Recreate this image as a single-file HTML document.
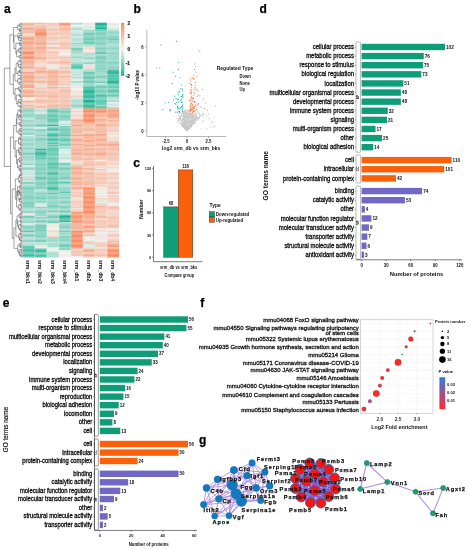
<!DOCTYPE html>
<html><head><meta charset="utf-8"><title>Figure</title>
<style>html,body{margin:0;padding:0;background:#fff}svg{display:block}text{font-family:"Liberation Sans", Arial, sans-serif}</style></head>
<body><svg width="470" height="550" viewBox="0 0 470 550">
<rect width="470" height="550" fill="#fff"/>
<text x="4.00" y="13.00" font-size="12" font-weight="bold" text-anchor="start" fill="#000" stroke="#000" stroke-width="0.25">a</text>
<text x="133.50" y="13.00" font-size="12" font-weight="bold" text-anchor="start" fill="#000" stroke="#000" stroke-width="0.25">b</text>
<text x="133.20" y="166.60" font-size="12" font-weight="bold" text-anchor="start" fill="#000" stroke="#000" stroke-width="0.25">c</text>
<text x="259.50" y="13.00" font-size="12" font-weight="bold" text-anchor="start" fill="#000" stroke="#000" stroke-width="0.25">d</text>
<text x="2.80" y="306.70" font-size="12" font-weight="bold" text-anchor="start" fill="#000" stroke="#000" stroke-width="0.25">e</text>
<text x="200.30" y="307.30" font-size="12" font-weight="bold" text-anchor="start" fill="#000" stroke="#000" stroke-width="0.25">f</text>
<text x="199.00" y="444.00" font-size="12" font-weight="bold" text-anchor="start" fill="#000" stroke="#000" stroke-width="0.25">g</text>
<g shape-rendering="auto">
<rect x="22.80" y="22.700" width="12.04" height="1.312" fill="#f5bba4"/>
<rect x="22.80" y="23.962" width="12.04" height="1.312" fill="#f6b49a"/>
<rect x="22.80" y="25.224" width="12.04" height="1.312" fill="#f5c1ac"/>
<rect x="22.80" y="26.485" width="12.04" height="1.312" fill="#f5bba3"/>
<rect x="22.80" y="27.747" width="12.04" height="1.312" fill="#f6af94"/>
<rect x="22.80" y="29.009" width="12.04" height="1.312" fill="#f7aa8c"/>
<rect x="22.80" y="30.271" width="12.04" height="1.312" fill="#f5bba4"/>
<rect x="22.80" y="31.533" width="12.04" height="1.312" fill="#f7a585"/>
<rect x="22.80" y="32.795" width="12.04" height="1.312" fill="#f3dbd0"/>
<rect x="22.80" y="34.056" width="12.04" height="1.312" fill="#f3dbd1"/>
<rect x="22.80" y="35.318" width="12.04" height="1.312" fill="#f4c9b7"/>
<rect x="22.80" y="36.580" width="12.04" height="1.312" fill="#f7aa8c"/>
<rect x="22.80" y="37.842" width="12.04" height="1.312" fill="#f7a687"/>
<rect x="22.80" y="39.104" width="12.04" height="1.312" fill="#f7a686"/>
<rect x="22.80" y="40.366" width="12.04" height="1.312" fill="#f7a484"/>
<rect x="22.80" y="41.627" width="12.04" height="1.312" fill="#f89e7c"/>
<rect x="22.80" y="42.889" width="12.04" height="1.312" fill="#f7ac8f"/>
<rect x="22.80" y="44.151" width="12.04" height="1.312" fill="#f7aa8c"/>
<rect x="22.80" y="45.413" width="12.04" height="1.312" fill="#f6ad91"/>
<rect x="22.80" y="46.675" width="12.04" height="1.312" fill="#f6b297"/>
<rect x="22.80" y="47.937" width="12.04" height="1.312" fill="#f6b095"/>
<rect x="22.80" y="49.198" width="12.04" height="1.312" fill="#f7a788"/>
<rect x="22.80" y="50.460" width="12.04" height="1.312" fill="#f7a98a"/>
<rect x="22.80" y="51.722" width="12.04" height="1.312" fill="#f98d64"/>
<rect x="22.80" y="52.984" width="12.04" height="1.312" fill="#f8946e"/>
<rect x="22.80" y="54.246" width="12.04" height="1.312" fill="#f89b77"/>
<rect x="22.80" y="55.508" width="12.04" height="1.312" fill="#f7a07f"/>
<rect x="22.80" y="56.769" width="12.04" height="1.312" fill="#f98d64"/>
<rect x="22.80" y="58.031" width="12.04" height="1.312" fill="#f89f7d"/>
<rect x="22.80" y="59.293" width="12.04" height="1.312" fill="#f7a98b"/>
<rect x="22.80" y="60.555" width="12.04" height="1.312" fill="#f7a788"/>
<rect x="22.80" y="61.817" width="12.04" height="1.312" fill="#f6b297"/>
<rect x="22.80" y="63.078" width="12.04" height="1.312" fill="#f6b59c"/>
<rect x="22.80" y="64.340" width="12.04" height="1.312" fill="#f6b196"/>
<rect x="22.80" y="65.602" width="12.04" height="1.312" fill="#f5b9a2"/>
<rect x="22.80" y="66.864" width="12.04" height="1.312" fill="#f7aa8c"/>
<rect x="22.80" y="68.126" width="12.04" height="1.312" fill="#f5bda7"/>
<rect x="22.80" y="69.388" width="12.04" height="1.312" fill="#f5c3af"/>
<rect x="22.80" y="70.649" width="12.04" height="1.312" fill="#f3d4c7"/>
<rect x="22.80" y="71.911" width="12.04" height="1.312" fill="#f7a383"/>
<rect x="22.80" y="73.173" width="12.04" height="1.312" fill="#f7aa8c"/>
<rect x="22.80" y="74.435" width="12.04" height="1.312" fill="#f7a88a"/>
<rect x="22.80" y="75.697" width="12.04" height="1.312" fill="#f7a889"/>
<rect x="22.80" y="76.959" width="12.04" height="1.312" fill="#f7a789"/>
<rect x="22.80" y="78.220" width="12.04" height="1.312" fill="#f7a483"/>
<rect x="22.80" y="79.482" width="12.04" height="1.312" fill="#f7a789"/>
<rect x="22.80" y="80.744" width="12.04" height="1.312" fill="#f7a585"/>
<rect x="22.80" y="82.006" width="12.04" height="1.312" fill="#f5bda6"/>
<rect x="22.80" y="83.268" width="12.04" height="1.312" fill="#f6b8a0"/>
<rect x="22.80" y="84.530" width="12.04" height="1.312" fill="#f89e7b"/>
<rect x="22.80" y="85.791" width="12.04" height="1.312" fill="#f7a98b"/>
<rect x="22.80" y="87.053" width="12.04" height="1.312" fill="#f7a687"/>
<rect x="22.80" y="88.315" width="12.04" height="1.312" fill="#f4d0c1"/>
<rect x="22.80" y="89.577" width="12.04" height="1.312" fill="#f6b095"/>
<rect x="22.80" y="90.839" width="12.04" height="1.312" fill="#f6b49a"/>
<rect x="22.80" y="92.101" width="12.04" height="1.312" fill="#f7a484"/>
<rect x="22.80" y="93.362" width="12.04" height="1.312" fill="#f6b9a1"/>
<rect x="22.80" y="94.624" width="12.04" height="1.312" fill="#f6ad91"/>
<rect x="22.80" y="95.886" width="12.04" height="1.312" fill="#f7ac8f"/>
<rect x="22.80" y="97.148" width="12.04" height="1.312" fill="#f1eeea"/>
<rect x="22.80" y="98.410" width="12.04" height="1.312" fill="#f1ece7"/>
<rect x="22.80" y="99.672" width="12.04" height="1.312" fill="#f2dfd6"/>
<rect x="22.80" y="100.933" width="12.04" height="1.312" fill="#f6b69c"/>
<rect x="22.80" y="102.195" width="12.04" height="1.312" fill="#f6b79f"/>
<rect x="22.80" y="103.457" width="12.04" height="1.312" fill="#f3d8cd"/>
<rect x="22.80" y="104.719" width="12.04" height="1.312" fill="#f6b69d"/>
<rect x="22.80" y="105.981" width="12.04" height="1.312" fill="#f4d0c1"/>
<rect x="22.80" y="107.242" width="12.04" height="1.312" fill="#f6b49a"/>
<rect x="22.80" y="108.504" width="12.04" height="1.312" fill="#8dd4c4"/>
<rect x="22.80" y="109.766" width="12.04" height="1.312" fill="#8ed5c4"/>
<rect x="22.80" y="111.028" width="12.04" height="1.312" fill="#8fd5c4"/>
<rect x="22.80" y="112.290" width="12.04" height="1.312" fill="#9cd9ca"/>
<rect x="22.80" y="113.552" width="12.04" height="1.312" fill="#80d1be"/>
<rect x="22.80" y="114.813" width="12.04" height="1.312" fill="#99d8c9"/>
<rect x="22.80" y="116.075" width="12.04" height="1.312" fill="#8dd4c4"/>
<rect x="22.80" y="117.337" width="12.04" height="1.312" fill="#a1dacc"/>
<rect x="22.80" y="118.599" width="12.04" height="1.312" fill="#c3e4db"/>
<rect x="22.80" y="119.861" width="12.04" height="1.312" fill="#9cd9ca"/>
<rect x="22.80" y="121.123" width="12.04" height="1.312" fill="#91d5c5"/>
<rect x="22.80" y="122.384" width="12.04" height="1.312" fill="#94d6c7"/>
<rect x="22.80" y="123.646" width="12.04" height="1.312" fill="#a8dccf"/>
<rect x="22.80" y="124.908" width="12.04" height="1.312" fill="#7fd0be"/>
<rect x="22.80" y="126.170" width="12.04" height="1.312" fill="#a5dbce"/>
<rect x="22.80" y="127.432" width="12.04" height="1.312" fill="#b1dfd3"/>
<rect x="22.80" y="128.694" width="12.04" height="1.312" fill="#8ed5c4"/>
<rect x="22.80" y="129.955" width="12.04" height="1.312" fill="#a1dacc"/>
<rect x="22.80" y="131.217" width="12.04" height="1.312" fill="#a9ddd0"/>
<rect x="22.80" y="132.479" width="12.04" height="1.312" fill="#7acfbb"/>
<rect x="22.80" y="133.741" width="12.04" height="1.312" fill="#98d8c9"/>
<rect x="22.80" y="135.003" width="12.04" height="1.312" fill="#eaefec"/>
<rect x="22.80" y="136.265" width="12.04" height="1.312" fill="#a4dbce"/>
<rect x="22.80" y="137.526" width="12.04" height="1.312" fill="#98d7c8"/>
<rect x="22.80" y="138.788" width="12.04" height="1.312" fill="#a9dcd0"/>
<rect x="22.80" y="140.050" width="12.04" height="1.312" fill="#8fd5c5"/>
<rect x="22.80" y="141.312" width="12.04" height="1.312" fill="#a6dccf"/>
<rect x="22.80" y="142.574" width="12.04" height="1.312" fill="#90d5c5"/>
<rect x="22.80" y="143.835" width="12.04" height="1.312" fill="#99d8c9"/>
<rect x="22.80" y="145.097" width="12.04" height="1.312" fill="#a1dacc"/>
<rect x="22.80" y="146.359" width="12.04" height="1.312" fill="#a0dacc"/>
<rect x="22.80" y="147.621" width="12.04" height="1.312" fill="#83d1bf"/>
<rect x="22.80" y="148.883" width="12.04" height="1.312" fill="#added1"/>
<rect x="22.80" y="150.145" width="12.04" height="1.312" fill="#a3dbcd"/>
<rect x="22.80" y="151.406" width="12.04" height="1.312" fill="#95d7c7"/>
<rect x="22.80" y="152.668" width="12.04" height="1.312" fill="#7fd1be"/>
<rect x="22.80" y="153.930" width="12.04" height="1.312" fill="#84d2c0"/>
<rect x="22.80" y="155.192" width="12.04" height="1.312" fill="#b2dfd4"/>
<rect x="22.80" y="156.454" width="12.04" height="1.312" fill="#70ccb7"/>
<rect x="22.80" y="157.716" width="12.04" height="1.312" fill="#afded3"/>
<rect x="22.80" y="158.977" width="12.04" height="1.312" fill="#9cd9ca"/>
<rect x="22.80" y="160.239" width="12.04" height="1.312" fill="#9dd9ca"/>
<rect x="22.80" y="161.501" width="12.04" height="1.312" fill="#aaddd0"/>
<rect x="22.80" y="162.763" width="12.04" height="1.312" fill="#b1dfd3"/>
<rect x="22.80" y="164.025" width="12.04" height="1.312" fill="#87d3c1"/>
<rect x="22.80" y="165.287" width="12.04" height="1.312" fill="#e7eeeb"/>
<rect x="22.80" y="166.548" width="12.04" height="1.312" fill="#b0ded3"/>
<rect x="22.80" y="167.810" width="12.04" height="1.312" fill="#90d5c5"/>
<rect x="22.80" y="169.072" width="12.04" height="1.312" fill="#9cd9ca"/>
<rect x="22.80" y="170.334" width="12.04" height="1.312" fill="#cfe7e0"/>
<rect x="22.80" y="171.596" width="12.04" height="1.312" fill="#bfe3d9"/>
<rect x="22.80" y="172.858" width="12.04" height="1.312" fill="#cfe7e0"/>
<rect x="22.80" y="174.119" width="12.04" height="1.312" fill="#bee2d9"/>
<rect x="22.80" y="175.381" width="12.04" height="1.312" fill="#d3e8e2"/>
<rect x="22.80" y="176.643" width="12.04" height="1.312" fill="#b3dfd4"/>
<rect x="22.80" y="177.905" width="12.04" height="1.312" fill="#d0e8e1"/>
<rect x="22.80" y="179.167" width="12.04" height="1.312" fill="#9ad8c9"/>
<rect x="22.80" y="180.428" width="12.04" height="1.312" fill="#d4e9e2"/>
<rect x="22.80" y="181.690" width="12.04" height="1.312" fill="#8ad4c2"/>
<rect x="22.80" y="182.952" width="12.04" height="1.312" fill="#8dd4c4"/>
<rect x="22.80" y="184.214" width="12.04" height="1.312" fill="#b0ded3"/>
<rect x="22.80" y="185.476" width="12.04" height="1.312" fill="#8fd5c4"/>
<rect x="22.80" y="186.738" width="12.04" height="1.312" fill="#8ad4c2"/>
<rect x="22.80" y="187.999" width="12.04" height="1.312" fill="#76ceba"/>
<rect x="22.80" y="189.261" width="12.04" height="1.312" fill="#6fccb7"/>
<rect x="22.80" y="190.523" width="12.04" height="1.312" fill="#82d1bf"/>
<rect x="22.80" y="191.785" width="12.04" height="1.312" fill="#8ed5c4"/>
<rect x="22.80" y="193.047" width="12.04" height="1.312" fill="#9dd9cb"/>
<rect x="22.80" y="194.309" width="12.04" height="1.312" fill="#70ccb7"/>
<rect x="22.80" y="195.570" width="12.04" height="1.312" fill="#82d1bf"/>
<rect x="22.80" y="196.832" width="12.04" height="1.312" fill="#7dd0bd"/>
<rect x="22.80" y="198.094" width="12.04" height="1.312" fill="#7fd0be"/>
<rect x="22.80" y="199.356" width="12.04" height="1.312" fill="#77ceba"/>
<rect x="22.80" y="200.618" width="12.04" height="1.312" fill="#95d7c7"/>
<rect x="22.80" y="201.880" width="12.04" height="1.312" fill="#82d1bf"/>
<rect x="22.80" y="203.141" width="12.04" height="1.312" fill="#69cab4"/>
<rect x="22.80" y="204.403" width="12.04" height="1.312" fill="#64c9b2"/>
<rect x="22.80" y="205.665" width="12.04" height="1.312" fill="#7dd0bd"/>
<rect x="22.80" y="206.927" width="12.04" height="1.312" fill="#9dd9ca"/>
<rect x="22.80" y="208.189" width="12.04" height="1.312" fill="#9cd9ca"/>
<rect x="22.80" y="209.451" width="12.04" height="1.312" fill="#a7dccf"/>
<rect x="22.80" y="210.712" width="12.04" height="1.312" fill="#9ad8c9"/>
<rect x="22.80" y="211.974" width="12.04" height="1.312" fill="#91d5c5"/>
<rect x="22.80" y="213.236" width="12.04" height="1.312" fill="#f2e5df"/>
<rect x="22.80" y="214.498" width="12.04" height="1.312" fill="#f2e0d7"/>
<rect x="22.80" y="215.760" width="12.04" height="1.312" fill="#6dcbb6"/>
<rect x="22.80" y="217.022" width="12.04" height="1.312" fill="#7cd0bc"/>
<rect x="22.80" y="218.283" width="12.04" height="1.312" fill="#9bd8ca"/>
<rect x="22.80" y="219.545" width="12.04" height="1.312" fill="#98d8c9"/>
<rect x="22.80" y="220.807" width="12.04" height="1.312" fill="#9fdacb"/>
<rect x="22.80" y="222.069" width="12.04" height="1.312" fill="#93d6c6"/>
<rect x="22.80" y="223.331" width="12.04" height="1.312" fill="#dcebe6"/>
<rect x="22.80" y="224.592" width="12.04" height="1.312" fill="#bae1d7"/>
<rect x="22.80" y="225.854" width="12.04" height="1.312" fill="#87d3c1"/>
<rect x="22.80" y="227.116" width="12.04" height="1.312" fill="#7ed0bd"/>
<rect x="22.80" y="228.378" width="12.04" height="1.312" fill="#7ed0bd"/>
<rect x="22.80" y="229.640" width="12.04" height="1.312" fill="#9ad8c9"/>
<rect x="22.80" y="230.902" width="12.04" height="1.312" fill="#5dc7af"/>
<rect x="22.80" y="232.163" width="12.04" height="1.312" fill="#aeded2"/>
<rect x="22.80" y="233.425" width="12.04" height="1.312" fill="#96d7c8"/>
<rect x="22.80" y="234.687" width="12.04" height="1.312" fill="#69cab4"/>
<rect x="22.80" y="235.949" width="12.04" height="1.312" fill="#a1dacc"/>
<rect x="22.80" y="237.211" width="12.04" height="1.312" fill="#a7dccf"/>
<rect x="22.80" y="238.473" width="12.04" height="1.312" fill="#b0ded3"/>
<rect x="22.80" y="239.734" width="12.04" height="1.312" fill="#93d6c6"/>
<rect x="22.80" y="240.996" width="12.04" height="1.312" fill="#91d6c6"/>
<rect x="22.80" y="242.258" width="12.04" height="1.312" fill="#b6e0d5"/>
<rect x="22.80" y="243.520" width="12.04" height="1.312" fill="#a1dacc"/>
<rect x="22.80" y="244.782" width="12.04" height="1.312" fill="#aeded2"/>
<rect x="22.80" y="246.044" width="12.04" height="1.312" fill="#5ac6ad"/>
<rect x="22.80" y="247.305" width="12.04" height="1.312" fill="#36bc9e"/>
<rect x="22.80" y="248.567" width="12.04" height="1.312" fill="#4cc2a7"/>
<rect x="22.80" y="249.829" width="12.04" height="1.312" fill="#46c0a5"/>
<rect x="22.80" y="251.091" width="12.04" height="1.312" fill="#51c3aa"/>
<rect x="22.80" y="252.353" width="12.04" height="1.312" fill="#50c3a9"/>
<rect x="22.80" y="253.615" width="12.04" height="1.312" fill="#4ec2a8"/>
<rect x="22.80" y="254.876" width="12.04" height="1.312" fill="#41bfa3"/>
<rect x="22.80" y="256.138" width="12.04" height="1.312" fill="#56c5ac"/>
<rect x="34.84" y="22.700" width="12.04" height="1.312" fill="#f5bea9"/>
<rect x="34.84" y="23.962" width="12.04" height="1.312" fill="#f3d7cb"/>
<rect x="34.84" y="25.224" width="12.04" height="1.312" fill="#f5b9a1"/>
<rect x="34.84" y="26.485" width="12.04" height="1.312" fill="#f6b79f"/>
<rect x="34.84" y="27.747" width="12.04" height="1.312" fill="#f6b59c"/>
<rect x="34.84" y="29.009" width="12.04" height="1.312" fill="#f6af94"/>
<rect x="34.84" y="30.271" width="12.04" height="1.312" fill="#f98d64"/>
<rect x="34.84" y="31.533" width="12.04" height="1.312" fill="#f98d64"/>
<rect x="34.84" y="32.795" width="12.04" height="1.312" fill="#f98d64"/>
<rect x="34.84" y="34.056" width="12.04" height="1.312" fill="#f98d64"/>
<rect x="34.84" y="35.318" width="12.04" height="1.312" fill="#f98d64"/>
<rect x="34.84" y="36.580" width="12.04" height="1.312" fill="#f7a789"/>
<rect x="34.84" y="37.842" width="12.04" height="1.312" fill="#f5bca6"/>
<rect x="34.84" y="39.104" width="12.04" height="1.312" fill="#f6b196"/>
<rect x="34.84" y="40.366" width="12.04" height="1.312" fill="#f7a88a"/>
<rect x="34.84" y="41.627" width="12.04" height="1.312" fill="#f6af94"/>
<rect x="34.84" y="42.889" width="12.04" height="1.312" fill="#f7a788"/>
<rect x="34.84" y="44.151" width="12.04" height="1.312" fill="#f6ad90"/>
<rect x="34.84" y="45.413" width="12.04" height="1.312" fill="#f6b79e"/>
<rect x="34.84" y="46.675" width="12.04" height="1.312" fill="#f6af93"/>
<rect x="34.84" y="47.937" width="12.04" height="1.312" fill="#f6b095"/>
<rect x="34.84" y="49.198" width="12.04" height="1.312" fill="#f6ad91"/>
<rect x="34.84" y="50.460" width="12.04" height="1.312" fill="#f7aa8d"/>
<rect x="34.84" y="51.722" width="12.04" height="1.312" fill="#f6b89f"/>
<rect x="34.84" y="52.984" width="12.04" height="1.312" fill="#f3d7ca"/>
<rect x="34.84" y="54.246" width="12.04" height="1.312" fill="#f6ae92"/>
<rect x="34.84" y="55.508" width="12.04" height="1.312" fill="#f5c0ab"/>
<rect x="34.84" y="56.769" width="12.04" height="1.312" fill="#f6b49a"/>
<rect x="34.84" y="58.031" width="12.04" height="1.312" fill="#f6af93"/>
<rect x="34.84" y="59.293" width="12.04" height="1.312" fill="#f6b59c"/>
<rect x="34.84" y="60.555" width="12.04" height="1.312" fill="#f4d0c1"/>
<rect x="34.84" y="61.817" width="12.04" height="1.312" fill="#f4d1c3"/>
<rect x="34.84" y="63.078" width="12.04" height="1.312" fill="#f3dbd1"/>
<rect x="34.84" y="64.340" width="12.04" height="1.312" fill="#f3d7cb"/>
<rect x="34.84" y="65.602" width="12.04" height="1.312" fill="#f3d6c9"/>
<rect x="34.84" y="66.864" width="12.04" height="1.312" fill="#f4cbba"/>
<rect x="34.84" y="68.126" width="12.04" height="1.312" fill="#f6b49a"/>
<rect x="34.84" y="69.388" width="12.04" height="1.312" fill="#f5b9a1"/>
<rect x="34.84" y="70.649" width="12.04" height="1.312" fill="#f7a88a"/>
<rect x="34.84" y="71.911" width="12.04" height="1.312" fill="#f6b49a"/>
<rect x="34.84" y="73.173" width="12.04" height="1.312" fill="#f5baa3"/>
<rect x="34.84" y="74.435" width="12.04" height="1.312" fill="#f4c9b8"/>
<rect x="34.84" y="75.697" width="12.04" height="1.312" fill="#f4cab9"/>
<rect x="34.84" y="76.959" width="12.04" height="1.312" fill="#f5b9a1"/>
<rect x="34.84" y="78.220" width="12.04" height="1.312" fill="#f4c9b8"/>
<rect x="34.84" y="79.482" width="12.04" height="1.312" fill="#f5c2ae"/>
<rect x="34.84" y="80.744" width="12.04" height="1.312" fill="#f6b8a0"/>
<rect x="34.84" y="82.006" width="12.04" height="1.312" fill="#f6b79e"/>
<rect x="34.84" y="83.268" width="12.04" height="1.312" fill="#f4d1c2"/>
<rect x="34.84" y="84.530" width="12.04" height="1.312" fill="#f3d4c6"/>
<rect x="34.84" y="85.791" width="12.04" height="1.312" fill="#f2e8e2"/>
<rect x="34.84" y="87.053" width="12.04" height="1.312" fill="#c5e4dc"/>
<rect x="34.84" y="88.315" width="12.04" height="1.312" fill="#f5bba3"/>
<rect x="34.84" y="89.577" width="12.04" height="1.312" fill="#f4cdbd"/>
<rect x="34.84" y="90.839" width="12.04" height="1.312" fill="#f5c1ac"/>
<rect x="34.84" y="92.101" width="12.04" height="1.312" fill="#f5c2ad"/>
<rect x="34.84" y="93.362" width="12.04" height="1.312" fill="#f6b9a1"/>
<rect x="34.84" y="94.624" width="12.04" height="1.312" fill="#f5bca5"/>
<rect x="34.84" y="95.886" width="12.04" height="1.312" fill="#f5c1ac"/>
<rect x="34.84" y="97.148" width="12.04" height="1.312" fill="#f3d7cc"/>
<rect x="34.84" y="98.410" width="12.04" height="1.312" fill="#f4cdbc"/>
<rect x="34.84" y="99.672" width="12.04" height="1.312" fill="#f5bda7"/>
<rect x="34.84" y="100.933" width="12.04" height="1.312" fill="#f5c1ad"/>
<rect x="34.84" y="102.195" width="12.04" height="1.312" fill="#f5c2ad"/>
<rect x="34.84" y="103.457" width="12.04" height="1.312" fill="#f5bfaa"/>
<rect x="34.84" y="104.719" width="12.04" height="1.312" fill="#f2e5de"/>
<rect x="34.84" y="105.981" width="12.04" height="1.312" fill="#f6b8a0"/>
<rect x="34.84" y="107.242" width="12.04" height="1.312" fill="#f5bca6"/>
<rect x="34.84" y="108.504" width="12.04" height="1.312" fill="#c4e4dc"/>
<rect x="34.84" y="109.766" width="12.04" height="1.312" fill="#bde2d9"/>
<rect x="34.84" y="111.028" width="12.04" height="1.312" fill="#c2e4db"/>
<rect x="34.84" y="112.290" width="12.04" height="1.312" fill="#cde7df"/>
<rect x="34.84" y="113.552" width="12.04" height="1.312" fill="#b8e1d6"/>
<rect x="34.84" y="114.813" width="12.04" height="1.312" fill="#80d1be"/>
<rect x="34.84" y="116.075" width="12.04" height="1.312" fill="#9bd8ca"/>
<rect x="34.84" y="117.337" width="12.04" height="1.312" fill="#59c6ad"/>
<rect x="34.84" y="118.599" width="12.04" height="1.312" fill="#91d6c6"/>
<rect x="34.84" y="119.861" width="12.04" height="1.312" fill="#b2dfd4"/>
<rect x="34.84" y="121.123" width="12.04" height="1.312" fill="#94d7c7"/>
<rect x="34.84" y="122.384" width="12.04" height="1.312" fill="#98d8c8"/>
<rect x="34.84" y="123.646" width="12.04" height="1.312" fill="#90d5c5"/>
<rect x="34.84" y="124.908" width="12.04" height="1.312" fill="#72cdb8"/>
<rect x="34.84" y="126.170" width="12.04" height="1.312" fill="#8bd4c3"/>
<rect x="34.84" y="127.432" width="12.04" height="1.312" fill="#edf0ed"/>
<rect x="34.84" y="128.694" width="12.04" height="1.312" fill="#9cd9ca"/>
<rect x="34.84" y="129.955" width="12.04" height="1.312" fill="#86d3c1"/>
<rect x="34.84" y="131.217" width="12.04" height="1.312" fill="#91d6c5"/>
<rect x="34.84" y="132.479" width="12.04" height="1.312" fill="#93d6c6"/>
<rect x="34.84" y="133.741" width="12.04" height="1.312" fill="#a5dbce"/>
<rect x="34.84" y="135.003" width="12.04" height="1.312" fill="#86d2c1"/>
<rect x="34.84" y="136.265" width="12.04" height="1.312" fill="#a1dacc"/>
<rect x="34.84" y="137.526" width="12.04" height="1.312" fill="#79cfbb"/>
<rect x="34.84" y="138.788" width="12.04" height="1.312" fill="#79cfbb"/>
<rect x="34.84" y="140.050" width="12.04" height="1.312" fill="#93d6c6"/>
<rect x="34.84" y="141.312" width="12.04" height="1.312" fill="#79cfbb"/>
<rect x="34.84" y="142.574" width="12.04" height="1.312" fill="#95d7c7"/>
<rect x="34.84" y="143.835" width="12.04" height="1.312" fill="#a3dbcd"/>
<rect x="34.84" y="145.097" width="12.04" height="1.312" fill="#9bd9ca"/>
<rect x="34.84" y="146.359" width="12.04" height="1.312" fill="#86d2c1"/>
<rect x="34.84" y="147.621" width="12.04" height="1.312" fill="#95d7c7"/>
<rect x="34.84" y="148.883" width="12.04" height="1.312" fill="#2cb99a"/>
<rect x="34.84" y="150.145" width="12.04" height="1.312" fill="#6fccb7"/>
<rect x="34.84" y="151.406" width="12.04" height="1.312" fill="#31ba9c"/>
<rect x="34.84" y="152.668" width="12.04" height="1.312" fill="#2fb99b"/>
<rect x="34.84" y="153.930" width="12.04" height="1.312" fill="#4cc2a8"/>
<rect x="34.84" y="155.192" width="12.04" height="1.312" fill="#47c1a5"/>
<rect x="34.84" y="156.454" width="12.04" height="1.312" fill="#4ec2a8"/>
<rect x="34.84" y="157.716" width="12.04" height="1.312" fill="#64c9b2"/>
<rect x="34.84" y="158.977" width="12.04" height="1.312" fill="#88d3c2"/>
<rect x="34.84" y="160.239" width="12.04" height="1.312" fill="#7bcfbc"/>
<rect x="34.84" y="161.501" width="12.04" height="1.312" fill="#76ceba"/>
<rect x="34.84" y="162.763" width="12.04" height="1.312" fill="#9dd9cb"/>
<rect x="34.84" y="164.025" width="12.04" height="1.312" fill="#77ceba"/>
<rect x="34.84" y="165.287" width="12.04" height="1.312" fill="#72cdb8"/>
<rect x="34.84" y="166.548" width="12.04" height="1.312" fill="#85d2c0"/>
<rect x="34.84" y="167.810" width="12.04" height="1.312" fill="#89d3c2"/>
<rect x="34.84" y="169.072" width="12.04" height="1.312" fill="#72cdb8"/>
<rect x="34.84" y="170.334" width="12.04" height="1.312" fill="#80d1be"/>
<rect x="34.84" y="171.596" width="12.04" height="1.312" fill="#76ceba"/>
<rect x="34.84" y="172.858" width="12.04" height="1.312" fill="#83d2bf"/>
<rect x="34.84" y="174.119" width="12.04" height="1.312" fill="#7bcfbc"/>
<rect x="34.84" y="175.381" width="12.04" height="1.312" fill="#87d3c1"/>
<rect x="34.84" y="176.643" width="12.04" height="1.312" fill="#5cc6ae"/>
<rect x="34.84" y="177.905" width="12.04" height="1.312" fill="#6fccb7"/>
<rect x="34.84" y="179.167" width="12.04" height="1.312" fill="#6ccbb5"/>
<rect x="34.84" y="180.428" width="12.04" height="1.312" fill="#8bd4c3"/>
<rect x="34.84" y="181.690" width="12.04" height="1.312" fill="#8ed5c4"/>
<rect x="34.84" y="182.952" width="12.04" height="1.312" fill="#85d2c0"/>
<rect x="34.84" y="184.214" width="12.04" height="1.312" fill="#65c9b2"/>
<rect x="34.84" y="185.476" width="12.04" height="1.312" fill="#7fd0be"/>
<rect x="34.84" y="186.738" width="12.04" height="1.312" fill="#7ed0bd"/>
<rect x="34.84" y="187.999" width="12.04" height="1.312" fill="#8ed5c4"/>
<rect x="34.84" y="189.261" width="12.04" height="1.312" fill="#a3dbcd"/>
<rect x="34.84" y="190.523" width="12.04" height="1.312" fill="#b4e0d5"/>
<rect x="34.84" y="191.785" width="12.04" height="1.312" fill="#9dd9ca"/>
<rect x="34.84" y="193.047" width="12.04" height="1.312" fill="#86d2c0"/>
<rect x="34.84" y="194.309" width="12.04" height="1.312" fill="#7fd1be"/>
<rect x="34.84" y="195.570" width="12.04" height="1.312" fill="#7fd1be"/>
<rect x="34.84" y="196.832" width="12.04" height="1.312" fill="#91d5c5"/>
<rect x="34.84" y="198.094" width="12.04" height="1.312" fill="#5fc7b0"/>
<rect x="34.84" y="199.356" width="12.04" height="1.312" fill="#88d3c2"/>
<rect x="34.84" y="200.618" width="12.04" height="1.312" fill="#87d3c1"/>
<rect x="34.84" y="201.880" width="12.04" height="1.312" fill="#9cd9ca"/>
<rect x="34.84" y="203.141" width="12.04" height="1.312" fill="#cde7df"/>
<rect x="34.84" y="204.403" width="12.04" height="1.312" fill="#c1e3da"/>
<rect x="34.84" y="205.665" width="12.04" height="1.312" fill="#deece7"/>
<rect x="34.84" y="206.927" width="12.04" height="1.312" fill="#84d2c0"/>
<rect x="34.84" y="208.189" width="12.04" height="1.312" fill="#aaddd0"/>
<rect x="34.84" y="209.451" width="12.04" height="1.312" fill="#8ad3c2"/>
<rect x="34.84" y="210.712" width="12.04" height="1.312" fill="#8ad4c2"/>
<rect x="34.84" y="211.974" width="12.04" height="1.312" fill="#85d2c0"/>
<rect x="34.84" y="213.236" width="12.04" height="1.312" fill="#84d2c0"/>
<rect x="34.84" y="214.498" width="12.04" height="1.312" fill="#75ceb9"/>
<rect x="34.84" y="215.760" width="12.04" height="1.312" fill="#c7e5dd"/>
<rect x="34.84" y="217.022" width="12.04" height="1.312" fill="#79cfbb"/>
<rect x="34.84" y="218.283" width="12.04" height="1.312" fill="#94d6c6"/>
<rect x="34.84" y="219.545" width="12.04" height="1.312" fill="#90d5c5"/>
<rect x="34.84" y="220.807" width="12.04" height="1.312" fill="#71cdb8"/>
<rect x="34.84" y="222.069" width="12.04" height="1.312" fill="#9cd9ca"/>
<rect x="34.84" y="223.331" width="12.04" height="1.312" fill="#b7e1d6"/>
<rect x="34.84" y="224.592" width="12.04" height="1.312" fill="#63c9b2"/>
<rect x="34.84" y="225.854" width="12.04" height="1.312" fill="#80d1be"/>
<rect x="34.84" y="227.116" width="12.04" height="1.312" fill="#6acab5"/>
<rect x="34.84" y="228.378" width="12.04" height="1.312" fill="#5ac6ae"/>
<rect x="34.84" y="229.640" width="12.04" height="1.312" fill="#75ceb9"/>
<rect x="34.84" y="230.902" width="12.04" height="1.312" fill="#90d5c5"/>
<rect x="34.84" y="232.163" width="12.04" height="1.312" fill="#89d3c2"/>
<rect x="34.84" y="233.425" width="12.04" height="1.312" fill="#62c8b1"/>
<rect x="34.84" y="234.687" width="12.04" height="1.312" fill="#90d5c5"/>
<rect x="34.84" y="235.949" width="12.04" height="1.312" fill="#7dd0bd"/>
<rect x="34.84" y="237.211" width="12.04" height="1.312" fill="#85d2c0"/>
<rect x="34.84" y="238.473" width="12.04" height="1.312" fill="#9fdacb"/>
<rect x="34.84" y="239.734" width="12.04" height="1.312" fill="#73cdb9"/>
<rect x="34.84" y="240.996" width="12.04" height="1.312" fill="#80d1be"/>
<rect x="34.84" y="242.258" width="12.04" height="1.312" fill="#b4e0d4"/>
<rect x="34.84" y="243.520" width="12.04" height="1.312" fill="#a3dbcd"/>
<rect x="34.84" y="244.782" width="12.04" height="1.312" fill="#d7eae4"/>
<rect x="34.84" y="246.044" width="12.04" height="1.312" fill="#f1ebe7"/>
<rect x="34.84" y="247.305" width="12.04" height="1.312" fill="#ddebe6"/>
<rect x="34.84" y="248.567" width="12.04" height="1.312" fill="#54c4ab"/>
<rect x="34.84" y="249.829" width="12.04" height="1.312" fill="#46c0a5"/>
<rect x="34.84" y="251.091" width="12.04" height="1.312" fill="#1fb594"/>
<rect x="34.84" y="252.353" width="12.04" height="1.312" fill="#5fc7b0"/>
<rect x="34.84" y="253.615" width="12.04" height="1.312" fill="#76ceba"/>
<rect x="34.84" y="254.876" width="12.04" height="1.312" fill="#44c0a4"/>
<rect x="34.84" y="256.138" width="12.04" height="1.312" fill="#3dbea1"/>
<rect x="46.88" y="22.700" width="12.04" height="1.312" fill="#f4cbba"/>
<rect x="46.88" y="23.962" width="12.04" height="1.312" fill="#f4cbba"/>
<rect x="46.88" y="25.224" width="12.04" height="1.312" fill="#f4c7b5"/>
<rect x="46.88" y="26.485" width="12.04" height="1.312" fill="#f4cdbd"/>
<rect x="46.88" y="27.747" width="12.04" height="1.312" fill="#f3d6c9"/>
<rect x="46.88" y="29.009" width="12.04" height="1.312" fill="#f5bea9"/>
<rect x="46.88" y="30.271" width="12.04" height="1.312" fill="#f5c2ad"/>
<rect x="46.88" y="31.533" width="12.04" height="1.312" fill="#f4c8b7"/>
<rect x="46.88" y="32.795" width="12.04" height="1.312" fill="#f4c8b7"/>
<rect x="46.88" y="34.056" width="12.04" height="1.312" fill="#f5c3b0"/>
<rect x="46.88" y="35.318" width="12.04" height="1.312" fill="#f3d9ce"/>
<rect x="46.88" y="36.580" width="12.04" height="1.312" fill="#f5c3af"/>
<rect x="46.88" y="37.842" width="12.04" height="1.312" fill="#f4c8b6"/>
<rect x="46.88" y="39.104" width="12.04" height="1.312" fill="#f4cbba"/>
<rect x="46.88" y="40.366" width="12.04" height="1.312" fill="#f4ccbb"/>
<rect x="46.88" y="41.627" width="12.04" height="1.312" fill="#f2dfd6"/>
<rect x="46.88" y="42.889" width="12.04" height="1.312" fill="#f5bfaa"/>
<rect x="46.88" y="44.151" width="12.04" height="1.312" fill="#f4cfbf"/>
<rect x="46.88" y="45.413" width="12.04" height="1.312" fill="#f1ece9"/>
<rect x="46.88" y="46.675" width="12.04" height="1.312" fill="#f5c5b2"/>
<rect x="46.88" y="47.937" width="12.04" height="1.312" fill="#f5c0ac"/>
<rect x="46.88" y="49.198" width="12.04" height="1.312" fill="#f1f0ed"/>
<rect x="46.88" y="50.460" width="12.04" height="1.312" fill="#f4cab9"/>
<rect x="46.88" y="51.722" width="12.04" height="1.312" fill="#f5c1ad"/>
<rect x="46.88" y="52.984" width="12.04" height="1.312" fill="#f4d1c2"/>
<rect x="46.88" y="54.246" width="12.04" height="1.312" fill="#f4c7b5"/>
<rect x="46.88" y="55.508" width="12.04" height="1.312" fill="#f4c6b4"/>
<rect x="46.88" y="56.769" width="12.04" height="1.312" fill="#f4cebe"/>
<rect x="46.88" y="58.031" width="12.04" height="1.312" fill="#f5c5b1"/>
<rect x="46.88" y="59.293" width="12.04" height="1.312" fill="#f3d9ce"/>
<rect x="46.88" y="60.555" width="12.04" height="1.312" fill="#f4cfc0"/>
<rect x="46.88" y="61.817" width="12.04" height="1.312" fill="#f5c4b0"/>
<rect x="46.88" y="63.078" width="12.04" height="1.312" fill="#f4c7b4"/>
<rect x="46.88" y="64.340" width="12.04" height="1.312" fill="#f2e3db"/>
<rect x="46.88" y="65.602" width="12.04" height="1.312" fill="#f2e6df"/>
<rect x="46.88" y="66.864" width="12.04" height="1.312" fill="#f1efec"/>
<rect x="46.88" y="68.126" width="12.04" height="1.312" fill="#f3ddd3"/>
<rect x="46.88" y="69.388" width="12.04" height="1.312" fill="#f5c4b1"/>
<rect x="46.88" y="70.649" width="12.04" height="1.312" fill="#f7aa8c"/>
<rect x="46.88" y="71.911" width="12.04" height="1.312" fill="#f6ac90"/>
<rect x="46.88" y="73.173" width="12.04" height="1.312" fill="#f6b297"/>
<rect x="46.88" y="74.435" width="12.04" height="1.312" fill="#f7a98b"/>
<rect x="46.88" y="75.697" width="12.04" height="1.312" fill="#f6b398"/>
<rect x="46.88" y="76.959" width="12.04" height="1.312" fill="#f5c4b0"/>
<rect x="46.88" y="78.220" width="12.04" height="1.312" fill="#f6ae92"/>
<rect x="46.88" y="79.482" width="12.04" height="1.312" fill="#f5b9a1"/>
<rect x="46.88" y="80.744" width="12.04" height="1.312" fill="#f6b399"/>
<rect x="46.88" y="82.006" width="12.04" height="1.312" fill="#f6b8a0"/>
<rect x="46.88" y="83.268" width="12.04" height="1.312" fill="#f7a889"/>
<rect x="46.88" y="84.530" width="12.04" height="1.312" fill="#f6b094"/>
<rect x="46.88" y="85.791" width="12.04" height="1.312" fill="#f3d5c9"/>
<rect x="46.88" y="87.053" width="12.04" height="1.312" fill="#f6ae92"/>
<rect x="46.88" y="88.315" width="12.04" height="1.312" fill="#f5baa3"/>
<rect x="46.88" y="89.577" width="12.04" height="1.312" fill="#f4cbba"/>
<rect x="46.88" y="90.839" width="12.04" height="1.312" fill="#f4cfc0"/>
<rect x="46.88" y="92.101" width="12.04" height="1.312" fill="#f5bca6"/>
<rect x="46.88" y="93.362" width="12.04" height="1.312" fill="#f6b89f"/>
<rect x="46.88" y="94.624" width="12.04" height="1.312" fill="#f5bda7"/>
<rect x="46.88" y="95.886" width="12.04" height="1.312" fill="#f6b399"/>
<rect x="46.88" y="97.148" width="12.04" height="1.312" fill="#f5c1ac"/>
<rect x="46.88" y="98.410" width="12.04" height="1.312" fill="#f6b8a0"/>
<rect x="46.88" y="99.672" width="12.04" height="1.312" fill="#f4c6b4"/>
<rect x="46.88" y="100.933" width="12.04" height="1.312" fill="#f5bba4"/>
<rect x="46.88" y="102.195" width="12.04" height="1.312" fill="#f5c0ab"/>
<rect x="46.88" y="103.457" width="12.04" height="1.312" fill="#f5bda7"/>
<rect x="46.88" y="104.719" width="12.04" height="1.312" fill="#f6b79e"/>
<rect x="46.88" y="105.981" width="12.04" height="1.312" fill="#f5bfaa"/>
<rect x="46.88" y="107.242" width="12.04" height="1.312" fill="#f6b399"/>
<rect x="46.88" y="108.504" width="12.04" height="1.312" fill="#74cdb9"/>
<rect x="46.88" y="109.766" width="12.04" height="1.312" fill="#64c9b2"/>
<rect x="46.88" y="111.028" width="12.04" height="1.312" fill="#5ec7af"/>
<rect x="46.88" y="112.290" width="12.04" height="1.312" fill="#6fccb7"/>
<rect x="46.88" y="113.552" width="12.04" height="1.312" fill="#6bcbb5"/>
<rect x="46.88" y="114.813" width="12.04" height="1.312" fill="#67c9b3"/>
<rect x="46.88" y="116.075" width="12.04" height="1.312" fill="#5ec7af"/>
<rect x="46.88" y="117.337" width="12.04" height="1.312" fill="#5dc7af"/>
<rect x="46.88" y="118.599" width="12.04" height="1.312" fill="#56c5ac"/>
<rect x="46.88" y="119.861" width="12.04" height="1.312" fill="#6ccbb5"/>
<rect x="46.88" y="121.123" width="12.04" height="1.312" fill="#5ac6ae"/>
<rect x="46.88" y="122.384" width="12.04" height="1.312" fill="#7acfbb"/>
<rect x="46.88" y="123.646" width="12.04" height="1.312" fill="#8dd4c4"/>
<rect x="46.88" y="124.908" width="12.04" height="1.312" fill="#33bb9d"/>
<rect x="46.88" y="126.170" width="12.04" height="1.312" fill="#a0dacc"/>
<rect x="46.88" y="127.432" width="12.04" height="1.312" fill="#57c5ac"/>
<rect x="46.88" y="128.694" width="12.04" height="1.312" fill="#44c0a4"/>
<rect x="46.88" y="129.955" width="12.04" height="1.312" fill="#73cdb9"/>
<rect x="46.88" y="131.217" width="12.04" height="1.312" fill="#97d7c8"/>
<rect x="46.88" y="132.479" width="12.04" height="1.312" fill="#66c9b3"/>
<rect x="46.88" y="133.741" width="12.04" height="1.312" fill="#49c1a6"/>
<rect x="46.88" y="135.003" width="12.04" height="1.312" fill="#43bfa4"/>
<rect x="46.88" y="136.265" width="12.04" height="1.312" fill="#54c4ab"/>
<rect x="46.88" y="137.526" width="12.04" height="1.312" fill="#73cdb9"/>
<rect x="46.88" y="138.788" width="12.04" height="1.312" fill="#39bc9f"/>
<rect x="46.88" y="140.050" width="12.04" height="1.312" fill="#5ec7af"/>
<rect x="46.88" y="141.312" width="12.04" height="1.312" fill="#74cdb9"/>
<rect x="46.88" y="142.574" width="12.04" height="1.312" fill="#35bb9d"/>
<rect x="46.88" y="143.835" width="12.04" height="1.312" fill="#93d6c6"/>
<rect x="46.88" y="145.097" width="12.04" height="1.312" fill="#51c3aa"/>
<rect x="46.88" y="146.359" width="12.04" height="1.312" fill="#74cdb9"/>
<rect x="46.88" y="147.621" width="12.04" height="1.312" fill="#5bc6ae"/>
<rect x="46.88" y="148.883" width="12.04" height="1.312" fill="#68cab4"/>
<rect x="46.88" y="150.145" width="12.04" height="1.312" fill="#59c6ad"/>
<rect x="46.88" y="151.406" width="12.04" height="1.312" fill="#45c0a4"/>
<rect x="46.88" y="152.668" width="12.04" height="1.312" fill="#78cebb"/>
<rect x="46.88" y="153.930" width="12.04" height="1.312" fill="#67cab3"/>
<rect x="46.88" y="155.192" width="12.04" height="1.312" fill="#76ceba"/>
<rect x="46.88" y="156.454" width="12.04" height="1.312" fill="#6dcbb6"/>
<rect x="46.88" y="157.716" width="12.04" height="1.312" fill="#6dcbb6"/>
<rect x="46.88" y="158.977" width="12.04" height="1.312" fill="#7bcfbc"/>
<rect x="46.88" y="160.239" width="12.04" height="1.312" fill="#69cab4"/>
<rect x="46.88" y="161.501" width="12.04" height="1.312" fill="#68cab4"/>
<rect x="46.88" y="162.763" width="12.04" height="1.312" fill="#5bc6ae"/>
<rect x="46.88" y="164.025" width="12.04" height="1.312" fill="#58c5ad"/>
<rect x="46.88" y="165.287" width="12.04" height="1.312" fill="#58c5ad"/>
<rect x="46.88" y="166.548" width="12.04" height="1.312" fill="#4ac1a7"/>
<rect x="46.88" y="167.810" width="12.04" height="1.312" fill="#70ccb7"/>
<rect x="46.88" y="169.072" width="12.04" height="1.312" fill="#7dd0bd"/>
<rect x="46.88" y="170.334" width="12.04" height="1.312" fill="#67cab3"/>
<rect x="46.88" y="171.596" width="12.04" height="1.312" fill="#66c9b3"/>
<rect x="46.88" y="172.858" width="12.04" height="1.312" fill="#42bfa3"/>
<rect x="46.88" y="174.119" width="12.04" height="1.312" fill="#5ac6ae"/>
<rect x="46.88" y="175.381" width="12.04" height="1.312" fill="#65c9b2"/>
<rect x="46.88" y="176.643" width="12.04" height="1.312" fill="#74cdb9"/>
<rect x="46.88" y="177.905" width="12.04" height="1.312" fill="#6eccb6"/>
<rect x="46.88" y="179.167" width="12.04" height="1.312" fill="#5ec7af"/>
<rect x="46.88" y="180.428" width="12.04" height="1.312" fill="#5dc7af"/>
<rect x="46.88" y="181.690" width="12.04" height="1.312" fill="#5dc7af"/>
<rect x="46.88" y="182.952" width="12.04" height="1.312" fill="#63c8b1"/>
<rect x="46.88" y="184.214" width="12.04" height="1.312" fill="#6dcbb6"/>
<rect x="46.88" y="185.476" width="12.04" height="1.312" fill="#60c8b0"/>
<rect x="46.88" y="186.738" width="12.04" height="1.312" fill="#5fc7b0"/>
<rect x="46.88" y="187.999" width="12.04" height="1.312" fill="#41bfa3"/>
<rect x="46.88" y="189.261" width="12.04" height="1.312" fill="#34bb9d"/>
<rect x="46.88" y="190.523" width="12.04" height="1.312" fill="#8ad4c3"/>
<rect x="46.88" y="191.785" width="12.04" height="1.312" fill="#92d6c6"/>
<rect x="46.88" y="193.047" width="12.04" height="1.312" fill="#5ec7af"/>
<rect x="46.88" y="194.309" width="12.04" height="1.312" fill="#88d3c2"/>
<rect x="46.88" y="195.570" width="12.04" height="1.312" fill="#7dd0bd"/>
<rect x="46.88" y="196.832" width="12.04" height="1.312" fill="#8cd4c3"/>
<rect x="46.88" y="198.094" width="12.04" height="1.312" fill="#7ed0bd"/>
<rect x="46.88" y="199.356" width="12.04" height="1.312" fill="#8cd4c3"/>
<rect x="46.88" y="200.618" width="12.04" height="1.312" fill="#96d7c8"/>
<rect x="46.88" y="201.880" width="12.04" height="1.312" fill="#94d6c7"/>
<rect x="46.88" y="203.141" width="12.04" height="1.312" fill="#8bd4c3"/>
<rect x="46.88" y="204.403" width="12.04" height="1.312" fill="#77ceba"/>
<rect x="46.88" y="205.665" width="12.04" height="1.312" fill="#64c9b2"/>
<rect x="46.88" y="206.927" width="12.04" height="1.312" fill="#99d8c9"/>
<rect x="46.88" y="208.189" width="12.04" height="1.312" fill="#97d7c8"/>
<rect x="46.88" y="209.451" width="12.04" height="1.312" fill="#99d8c9"/>
<rect x="46.88" y="210.712" width="12.04" height="1.312" fill="#77ceba"/>
<rect x="46.88" y="211.974" width="12.04" height="1.312" fill="#b7e0d6"/>
<rect x="46.88" y="213.236" width="12.04" height="1.312" fill="#acddd1"/>
<rect x="46.88" y="214.498" width="12.04" height="1.312" fill="#8cd4c3"/>
<rect x="46.88" y="215.760" width="12.04" height="1.312" fill="#7acfbb"/>
<rect x="46.88" y="217.022" width="12.04" height="1.312" fill="#73cdb9"/>
<rect x="46.88" y="218.283" width="12.04" height="1.312" fill="#a1dacc"/>
<rect x="46.88" y="219.545" width="12.04" height="1.312" fill="#88d3c1"/>
<rect x="46.88" y="220.807" width="12.04" height="1.312" fill="#82d1bf"/>
<rect x="46.88" y="222.069" width="12.04" height="1.312" fill="#65c9b2"/>
<rect x="46.88" y="223.331" width="12.04" height="1.312" fill="#dcebe6"/>
<rect x="46.88" y="224.592" width="12.04" height="1.312" fill="#f2e7e1"/>
<rect x="46.88" y="225.854" width="12.04" height="1.312" fill="#f2e7e0"/>
<rect x="46.88" y="227.116" width="12.04" height="1.312" fill="#f1eeeb"/>
<rect x="46.88" y="228.378" width="12.04" height="1.312" fill="#f1edea"/>
<rect x="46.88" y="229.640" width="12.04" height="1.312" fill="#f2e3db"/>
<rect x="46.88" y="230.902" width="12.04" height="1.312" fill="#d1e8e1"/>
<rect x="46.88" y="232.163" width="12.04" height="1.312" fill="#f2dfd5"/>
<rect x="46.88" y="233.425" width="12.04" height="1.312" fill="#f2e7e1"/>
<rect x="46.88" y="234.687" width="12.04" height="1.312" fill="#f2e5de"/>
<rect x="46.88" y="235.949" width="12.04" height="1.312" fill="#f3dbd1"/>
<rect x="46.88" y="237.211" width="12.04" height="1.312" fill="#8ed5c4"/>
<rect x="46.88" y="238.473" width="12.04" height="1.312" fill="#8ed5c4"/>
<rect x="46.88" y="239.734" width="12.04" height="1.312" fill="#9dd9cb"/>
<rect x="46.88" y="240.996" width="12.04" height="1.312" fill="#a8dccf"/>
<rect x="46.88" y="242.258" width="12.04" height="1.312" fill="#b4e0d4"/>
<rect x="46.88" y="243.520" width="12.04" height="1.312" fill="#85d2c0"/>
<rect x="46.88" y="244.782" width="12.04" height="1.312" fill="#b8e1d6"/>
<rect x="46.88" y="246.044" width="12.04" height="1.312" fill="#9fdacb"/>
<rect x="46.88" y="247.305" width="12.04" height="1.312" fill="#e5edea"/>
<rect x="46.88" y="248.567" width="12.04" height="1.312" fill="#e1ece8"/>
<rect x="46.88" y="249.829" width="12.04" height="1.312" fill="#f1f1ef"/>
<rect x="46.88" y="251.091" width="12.04" height="1.312" fill="#f3ded4"/>
<rect x="46.88" y="252.353" width="12.04" height="1.312" fill="#91d6c6"/>
<rect x="46.88" y="253.615" width="12.04" height="1.312" fill="#a5dbce"/>
<rect x="46.88" y="254.876" width="12.04" height="1.312" fill="#b5e0d5"/>
<rect x="46.88" y="256.138" width="12.04" height="1.312" fill="#9fdacb"/>
<rect x="58.91" y="22.700" width="12.04" height="1.312" fill="#f7a281"/>
<rect x="58.91" y="23.962" width="12.04" height="1.312" fill="#f89a76"/>
<rect x="58.91" y="25.224" width="12.04" height="1.312" fill="#f7a484"/>
<rect x="58.91" y="26.485" width="12.04" height="1.312" fill="#f4cab9"/>
<rect x="58.91" y="27.747" width="12.04" height="1.312" fill="#f6b399"/>
<rect x="58.91" y="29.009" width="12.04" height="1.312" fill="#f5c0aa"/>
<rect x="58.91" y="30.271" width="12.04" height="1.312" fill="#f6b49a"/>
<rect x="58.91" y="31.533" width="12.04" height="1.312" fill="#f5c5b1"/>
<rect x="58.91" y="32.795" width="12.04" height="1.312" fill="#f4c6b3"/>
<rect x="58.91" y="34.056" width="12.04" height="1.312" fill="#f4cfc0"/>
<rect x="58.91" y="35.318" width="12.04" height="1.312" fill="#f5c5b2"/>
<rect x="58.91" y="36.580" width="12.04" height="1.312" fill="#f5c3af"/>
<rect x="58.91" y="37.842" width="12.04" height="1.312" fill="#f4cbba"/>
<rect x="58.91" y="39.104" width="12.04" height="1.312" fill="#f3d6c9"/>
<rect x="58.91" y="40.366" width="12.04" height="1.312" fill="#f4cebf"/>
<rect x="58.91" y="41.627" width="12.04" height="1.312" fill="#f4c8b7"/>
<rect x="58.91" y="42.889" width="12.04" height="1.312" fill="#f4c6b4"/>
<rect x="58.91" y="44.151" width="12.04" height="1.312" fill="#f6b8a0"/>
<rect x="58.91" y="45.413" width="12.04" height="1.312" fill="#f5c4b1"/>
<rect x="58.91" y="46.675" width="12.04" height="1.312" fill="#f4c6b4"/>
<rect x="58.91" y="47.937" width="12.04" height="1.312" fill="#f4c6b3"/>
<rect x="58.91" y="49.198" width="12.04" height="1.312" fill="#f3dbd0"/>
<rect x="58.91" y="50.460" width="12.04" height="1.312" fill="#f2dfd5"/>
<rect x="58.91" y="51.722" width="12.04" height="1.312" fill="#f2eae5"/>
<rect x="58.91" y="52.984" width="12.04" height="1.312" fill="#f1eeeb"/>
<rect x="58.91" y="54.246" width="12.04" height="1.312" fill="#f1efec"/>
<rect x="58.91" y="55.508" width="12.04" height="1.312" fill="#f3d6ca"/>
<rect x="58.91" y="56.769" width="12.04" height="1.312" fill="#f5c2ae"/>
<rect x="58.91" y="58.031" width="12.04" height="1.312" fill="#f3d3c5"/>
<rect x="58.91" y="59.293" width="12.04" height="1.312" fill="#f5c0aa"/>
<rect x="58.91" y="60.555" width="12.04" height="1.312" fill="#f5c2ae"/>
<rect x="58.91" y="61.817" width="12.04" height="1.312" fill="#f5b9a1"/>
<rect x="58.91" y="63.078" width="12.04" height="1.312" fill="#f5c4b0"/>
<rect x="58.91" y="64.340" width="12.04" height="1.312" fill="#f5c4b0"/>
<rect x="58.91" y="65.602" width="12.04" height="1.312" fill="#f2e6e0"/>
<rect x="58.91" y="66.864" width="12.04" height="1.312" fill="#f5c1ac"/>
<rect x="58.91" y="68.126" width="12.04" height="1.312" fill="#f4cab8"/>
<rect x="58.91" y="69.388" width="12.04" height="1.312" fill="#f4d1c3"/>
<rect x="58.91" y="70.649" width="12.04" height="1.312" fill="#f5baa3"/>
<rect x="58.91" y="71.911" width="12.04" height="1.312" fill="#f5c0ab"/>
<rect x="58.91" y="73.173" width="12.04" height="1.312" fill="#f5bda7"/>
<rect x="58.91" y="74.435" width="12.04" height="1.312" fill="#f3d6ca"/>
<rect x="58.91" y="75.697" width="12.04" height="1.312" fill="#f6b398"/>
<rect x="58.91" y="76.959" width="12.04" height="1.312" fill="#f4d0c2"/>
<rect x="58.91" y="78.220" width="12.04" height="1.312" fill="#f5c3b0"/>
<rect x="58.91" y="79.482" width="12.04" height="1.312" fill="#f5c4b0"/>
<rect x="58.91" y="80.744" width="12.04" height="1.312" fill="#f4d0c2"/>
<rect x="58.91" y="82.006" width="12.04" height="1.312" fill="#f3d2c4"/>
<rect x="58.91" y="83.268" width="12.04" height="1.312" fill="#f5c2ae"/>
<rect x="58.91" y="84.530" width="12.04" height="1.312" fill="#f5c3af"/>
<rect x="58.91" y="85.791" width="12.04" height="1.312" fill="#f2e7e1"/>
<rect x="58.91" y="87.053" width="12.04" height="1.312" fill="#f5bda6"/>
<rect x="58.91" y="88.315" width="12.04" height="1.312" fill="#f4c8b6"/>
<rect x="58.91" y="89.577" width="12.04" height="1.312" fill="#f6b79f"/>
<rect x="58.91" y="90.839" width="12.04" height="1.312" fill="#f5bba4"/>
<rect x="58.91" y="92.101" width="12.04" height="1.312" fill="#f4c8b6"/>
<rect x="58.91" y="93.362" width="12.04" height="1.312" fill="#f5bca6"/>
<rect x="58.91" y="94.624" width="12.04" height="1.312" fill="#f5c3b0"/>
<rect x="58.91" y="95.886" width="12.04" height="1.312" fill="#f4cdbd"/>
<rect x="58.91" y="97.148" width="12.04" height="1.312" fill="#f5baa2"/>
<rect x="58.91" y="98.410" width="12.04" height="1.312" fill="#f5c3af"/>
<rect x="58.91" y="99.672" width="12.04" height="1.312" fill="#f4c8b6"/>
<rect x="58.91" y="100.933" width="12.04" height="1.312" fill="#f5bfaa"/>
<rect x="58.91" y="102.195" width="12.04" height="1.312" fill="#f5c5b2"/>
<rect x="58.91" y="103.457" width="12.04" height="1.312" fill="#f5bba4"/>
<rect x="58.91" y="104.719" width="12.04" height="1.312" fill="#f5c5b2"/>
<rect x="58.91" y="105.981" width="12.04" height="1.312" fill="#f5c1ac"/>
<rect x="58.91" y="107.242" width="12.04" height="1.312" fill="#f5bca5"/>
<rect x="58.91" y="108.504" width="12.04" height="1.312" fill="#75ceb9"/>
<rect x="58.91" y="109.766" width="12.04" height="1.312" fill="#a6dbce"/>
<rect x="58.91" y="111.028" width="12.04" height="1.312" fill="#71cdb8"/>
<rect x="58.91" y="112.290" width="12.04" height="1.312" fill="#63c8b2"/>
<rect x="58.91" y="113.552" width="12.04" height="1.312" fill="#95d7c7"/>
<rect x="58.91" y="114.813" width="12.04" height="1.312" fill="#88d3c2"/>
<rect x="58.91" y="116.075" width="12.04" height="1.312" fill="#6ccbb5"/>
<rect x="58.91" y="117.337" width="12.04" height="1.312" fill="#6bcbb5"/>
<rect x="58.91" y="118.599" width="12.04" height="1.312" fill="#7ed0bd"/>
<rect x="58.91" y="119.861" width="12.04" height="1.312" fill="#b2dfd4"/>
<rect x="58.91" y="121.123" width="12.04" height="1.312" fill="#d1e8e1"/>
<rect x="58.91" y="122.384" width="12.04" height="1.312" fill="#dbebe5"/>
<rect x="58.91" y="123.646" width="12.04" height="1.312" fill="#b0dfd3"/>
<rect x="58.91" y="124.908" width="12.04" height="1.312" fill="#e8eeeb"/>
<rect x="58.91" y="126.170" width="12.04" height="1.312" fill="#59c6ad"/>
<rect x="58.91" y="127.432" width="12.04" height="1.312" fill="#72cdb8"/>
<rect x="58.91" y="128.694" width="12.04" height="1.312" fill="#6eccb6"/>
<rect x="58.91" y="129.955" width="12.04" height="1.312" fill="#86d2c1"/>
<rect x="58.91" y="131.217" width="12.04" height="1.312" fill="#68cab4"/>
<rect x="58.91" y="132.479" width="12.04" height="1.312" fill="#5ec7af"/>
<rect x="58.91" y="133.741" width="12.04" height="1.312" fill="#7cd0bc"/>
<rect x="58.91" y="135.003" width="12.04" height="1.312" fill="#60c7b0"/>
<rect x="58.91" y="136.265" width="12.04" height="1.312" fill="#83d1bf"/>
<rect x="58.91" y="137.526" width="12.04" height="1.312" fill="#6fccb7"/>
<rect x="58.91" y="138.788" width="12.04" height="1.312" fill="#6ecbb6"/>
<rect x="58.91" y="140.050" width="12.04" height="1.312" fill="#55c5ac"/>
<rect x="58.91" y="141.312" width="12.04" height="1.312" fill="#79cfbb"/>
<rect x="58.91" y="142.574" width="12.04" height="1.312" fill="#89d3c2"/>
<rect x="58.91" y="143.835" width="12.04" height="1.312" fill="#72cdb8"/>
<rect x="58.91" y="145.097" width="12.04" height="1.312" fill="#83d2bf"/>
<rect x="58.91" y="146.359" width="12.04" height="1.312" fill="#9fdacc"/>
<rect x="58.91" y="147.621" width="12.04" height="1.312" fill="#95d7c7"/>
<rect x="58.91" y="148.883" width="12.04" height="1.312" fill="#eef0ee"/>
<rect x="58.91" y="150.145" width="12.04" height="1.312" fill="#c9e6de"/>
<rect x="58.91" y="151.406" width="12.04" height="1.312" fill="#d6e9e3"/>
<rect x="58.91" y="152.668" width="12.04" height="1.312" fill="#e6eeea"/>
<rect x="58.91" y="153.930" width="12.04" height="1.312" fill="#c9e6de"/>
<rect x="58.91" y="155.192" width="12.04" height="1.312" fill="#d0e8e1"/>
<rect x="58.91" y="156.454" width="12.04" height="1.312" fill="#c5e4dc"/>
<rect x="58.91" y="157.716" width="12.04" height="1.312" fill="#b8e1d6"/>
<rect x="58.91" y="158.977" width="12.04" height="1.312" fill="#ddebe6"/>
<rect x="58.91" y="160.239" width="12.04" height="1.312" fill="#e1ece8"/>
<rect x="58.91" y="161.501" width="12.04" height="1.312" fill="#deebe7"/>
<rect x="58.91" y="162.763" width="12.04" height="1.312" fill="#7fd1be"/>
<rect x="58.91" y="164.025" width="12.04" height="1.312" fill="#7ed0bd"/>
<rect x="58.91" y="165.287" width="12.04" height="1.312" fill="#91d6c5"/>
<rect x="58.91" y="166.548" width="12.04" height="1.312" fill="#8fd5c4"/>
<rect x="58.91" y="167.810" width="12.04" height="1.312" fill="#6dcbb6"/>
<rect x="58.91" y="169.072" width="12.04" height="1.312" fill="#7dd0bd"/>
<rect x="58.91" y="170.334" width="12.04" height="1.312" fill="#7acfbc"/>
<rect x="58.91" y="171.596" width="12.04" height="1.312" fill="#9ad8ca"/>
<rect x="58.91" y="172.858" width="12.04" height="1.312" fill="#96d7c7"/>
<rect x="58.91" y="174.119" width="12.04" height="1.312" fill="#81d1be"/>
<rect x="58.91" y="175.381" width="12.04" height="1.312" fill="#80d1be"/>
<rect x="58.91" y="176.643" width="12.04" height="1.312" fill="#7cd0bc"/>
<rect x="58.91" y="177.905" width="12.04" height="1.312" fill="#7dd0bd"/>
<rect x="58.91" y="179.167" width="12.04" height="1.312" fill="#96d7c7"/>
<rect x="58.91" y="180.428" width="12.04" height="1.312" fill="#a4dbcd"/>
<rect x="58.91" y="181.690" width="12.04" height="1.312" fill="#57c5ac"/>
<rect x="58.91" y="182.952" width="12.04" height="1.312" fill="#8ed5c4"/>
<rect x="58.91" y="184.214" width="12.04" height="1.312" fill="#9cd9ca"/>
<rect x="58.91" y="185.476" width="12.04" height="1.312" fill="#a6dccf"/>
<rect x="58.91" y="186.738" width="12.04" height="1.312" fill="#9ed9cb"/>
<rect x="58.91" y="187.999" width="12.04" height="1.312" fill="#99d8c9"/>
<rect x="58.91" y="189.261" width="12.04" height="1.312" fill="#6fccb7"/>
<rect x="58.91" y="190.523" width="12.04" height="1.312" fill="#88d3c2"/>
<rect x="58.91" y="191.785" width="12.04" height="1.312" fill="#64c9b2"/>
<rect x="58.91" y="193.047" width="12.04" height="1.312" fill="#a3dbcd"/>
<rect x="58.91" y="194.309" width="12.04" height="1.312" fill="#71cdb8"/>
<rect x="58.91" y="195.570" width="12.04" height="1.312" fill="#9ed9cb"/>
<rect x="58.91" y="196.832" width="12.04" height="1.312" fill="#86d3c1"/>
<rect x="58.91" y="198.094" width="12.04" height="1.312" fill="#8fd5c5"/>
<rect x="58.91" y="199.356" width="12.04" height="1.312" fill="#9ed9cb"/>
<rect x="58.91" y="200.618" width="12.04" height="1.312" fill="#8cd4c3"/>
<rect x="58.91" y="201.880" width="12.04" height="1.312" fill="#81d1bf"/>
<rect x="58.91" y="203.141" width="12.04" height="1.312" fill="#96d7c8"/>
<rect x="58.91" y="204.403" width="12.04" height="1.312" fill="#a0dacc"/>
<rect x="58.91" y="205.665" width="12.04" height="1.312" fill="#82d1bf"/>
<rect x="58.91" y="206.927" width="12.04" height="1.312" fill="#80d1be"/>
<rect x="58.91" y="208.189" width="12.04" height="1.312" fill="#93d6c6"/>
<rect x="58.91" y="209.451" width="12.04" height="1.312" fill="#94d6c7"/>
<rect x="58.91" y="210.712" width="12.04" height="1.312" fill="#71cdb8"/>
<rect x="58.91" y="211.974" width="12.04" height="1.312" fill="#92d6c6"/>
<rect x="58.91" y="213.236" width="12.04" height="1.312" fill="#c1e3da"/>
<rect x="58.91" y="214.498" width="12.04" height="1.312" fill="#4ac1a7"/>
<rect x="58.91" y="215.760" width="12.04" height="1.312" fill="#1fb594"/>
<rect x="58.91" y="217.022" width="12.04" height="1.312" fill="#33bb9c"/>
<rect x="58.91" y="218.283" width="12.04" height="1.312" fill="#39bc9f"/>
<rect x="58.91" y="219.545" width="12.04" height="1.312" fill="#45c0a4"/>
<rect x="58.91" y="220.807" width="12.04" height="1.312" fill="#30ba9b"/>
<rect x="58.91" y="222.069" width="12.04" height="1.312" fill="#b8e1d7"/>
<rect x="58.91" y="223.331" width="12.04" height="1.312" fill="#8ad4c2"/>
<rect x="58.91" y="224.592" width="12.04" height="1.312" fill="#82d1bf"/>
<rect x="58.91" y="225.854" width="12.04" height="1.312" fill="#92d6c6"/>
<rect x="58.91" y="227.116" width="12.04" height="1.312" fill="#6ccbb5"/>
<rect x="58.91" y="228.378" width="12.04" height="1.312" fill="#90d5c5"/>
<rect x="58.91" y="229.640" width="12.04" height="1.312" fill="#a6dcce"/>
<rect x="58.91" y="230.902" width="12.04" height="1.312" fill="#74cdb9"/>
<rect x="58.91" y="232.163" width="12.04" height="1.312" fill="#a0dacc"/>
<rect x="58.91" y="233.425" width="12.04" height="1.312" fill="#72cdb8"/>
<rect x="58.91" y="234.687" width="12.04" height="1.312" fill="#c1e3da"/>
<rect x="58.91" y="235.949" width="12.04" height="1.312" fill="#82d1bf"/>
<rect x="58.91" y="237.211" width="12.04" height="1.312" fill="#7cd0bc"/>
<rect x="58.91" y="238.473" width="12.04" height="1.312" fill="#78cfbb"/>
<rect x="58.91" y="239.734" width="12.04" height="1.312" fill="#88d3c1"/>
<rect x="58.91" y="240.996" width="12.04" height="1.312" fill="#a5dbce"/>
<rect x="58.91" y="242.258" width="12.04" height="1.312" fill="#a0dacc"/>
<rect x="58.91" y="243.520" width="12.04" height="1.312" fill="#71cdb8"/>
<rect x="58.91" y="244.782" width="12.04" height="1.312" fill="#6bcbb5"/>
<rect x="58.91" y="246.044" width="12.04" height="1.312" fill="#70ccb7"/>
<rect x="58.91" y="247.305" width="12.04" height="1.312" fill="#8dd4c4"/>
<rect x="58.91" y="248.567" width="12.04" height="1.312" fill="#61c8b1"/>
<rect x="58.91" y="249.829" width="12.04" height="1.312" fill="#dfece7"/>
<rect x="58.91" y="251.091" width="12.04" height="1.312" fill="#f1eeeb"/>
<rect x="58.91" y="252.353" width="12.04" height="1.312" fill="#eff0ee"/>
<rect x="58.91" y="253.615" width="12.04" height="1.312" fill="#f1eeea"/>
<rect x="58.91" y="254.876" width="12.04" height="1.312" fill="#f1eeeb"/>
<rect x="58.91" y="256.138" width="12.04" height="1.312" fill="#f1ebe7"/>
<rect x="70.95" y="22.700" width="12.04" height="1.312" fill="#b5e0d5"/>
<rect x="70.95" y="23.962" width="12.04" height="1.312" fill="#cce7df"/>
<rect x="70.95" y="25.224" width="12.04" height="1.312" fill="#eff1ee"/>
<rect x="70.95" y="26.485" width="12.04" height="1.312" fill="#cde7df"/>
<rect x="70.95" y="27.747" width="12.04" height="1.312" fill="#b9e1d7"/>
<rect x="70.95" y="29.009" width="12.04" height="1.312" fill="#acddd1"/>
<rect x="70.95" y="30.271" width="12.04" height="1.312" fill="#d2e8e2"/>
<rect x="70.95" y="31.533" width="12.04" height="1.312" fill="#c9e6de"/>
<rect x="70.95" y="32.795" width="12.04" height="1.312" fill="#cce6df"/>
<rect x="70.95" y="34.056" width="12.04" height="1.312" fill="#b7e0d6"/>
<rect x="70.95" y="35.318" width="12.04" height="1.312" fill="#98d8c8"/>
<rect x="70.95" y="36.580" width="12.04" height="1.312" fill="#e1ece8"/>
<rect x="70.95" y="37.842" width="12.04" height="1.312" fill="#b6e0d5"/>
<rect x="70.95" y="39.104" width="12.04" height="1.312" fill="#afded2"/>
<rect x="70.95" y="40.366" width="12.04" height="1.312" fill="#9ed9cb"/>
<rect x="70.95" y="41.627" width="12.04" height="1.312" fill="#d2e8e2"/>
<rect x="70.95" y="42.889" width="12.04" height="1.312" fill="#92d6c6"/>
<rect x="70.95" y="44.151" width="12.04" height="1.312" fill="#added1"/>
<rect x="70.95" y="45.413" width="12.04" height="1.312" fill="#9dd9cb"/>
<rect x="70.95" y="46.675" width="12.04" height="1.312" fill="#bde2d9"/>
<rect x="70.95" y="47.937" width="12.04" height="1.312" fill="#7cd0bc"/>
<rect x="70.95" y="49.198" width="12.04" height="1.312" fill="#62c8b1"/>
<rect x="70.95" y="50.460" width="12.04" height="1.312" fill="#7fd0bd"/>
<rect x="70.95" y="51.722" width="12.04" height="1.312" fill="#b0ded3"/>
<rect x="70.95" y="52.984" width="12.04" height="1.312" fill="#aaddd0"/>
<rect x="70.95" y="54.246" width="12.04" height="1.312" fill="#c0e3da"/>
<rect x="70.95" y="55.508" width="12.04" height="1.312" fill="#9cd9ca"/>
<rect x="70.95" y="56.769" width="12.04" height="1.312" fill="#99d8c9"/>
<rect x="70.95" y="58.031" width="12.04" height="1.312" fill="#c4e4db"/>
<rect x="70.95" y="59.293" width="12.04" height="1.312" fill="#a2dbcd"/>
<rect x="70.95" y="60.555" width="12.04" height="1.312" fill="#bee3d9"/>
<rect x="70.95" y="61.817" width="12.04" height="1.312" fill="#b2dfd4"/>
<rect x="70.95" y="63.078" width="12.04" height="1.312" fill="#a0dacc"/>
<rect x="70.95" y="64.340" width="12.04" height="1.312" fill="#4ac1a7"/>
<rect x="70.95" y="65.602" width="12.04" height="1.312" fill="#53c4aa"/>
<rect x="70.95" y="66.864" width="12.04" height="1.312" fill="#55c4ab"/>
<rect x="70.95" y="68.126" width="12.04" height="1.312" fill="#61c8b1"/>
<rect x="70.95" y="69.388" width="12.04" height="1.312" fill="#bfe3d9"/>
<rect x="70.95" y="70.649" width="12.04" height="1.312" fill="#cce6df"/>
<rect x="70.95" y="71.911" width="12.04" height="1.312" fill="#c2e4db"/>
<rect x="70.95" y="73.173" width="12.04" height="1.312" fill="#d2e8e1"/>
<rect x="70.95" y="74.435" width="12.04" height="1.312" fill="#a2dacd"/>
<rect x="70.95" y="75.697" width="12.04" height="1.312" fill="#daeae5"/>
<rect x="70.95" y="76.959" width="12.04" height="1.312" fill="#added2"/>
<rect x="70.95" y="78.220" width="12.04" height="1.312" fill="#c5e4dc"/>
<rect x="70.95" y="79.482" width="12.04" height="1.312" fill="#deece7"/>
<rect x="70.95" y="80.744" width="12.04" height="1.312" fill="#b0ded3"/>
<rect x="70.95" y="82.006" width="12.04" height="1.312" fill="#a9dcd0"/>
<rect x="70.95" y="83.268" width="12.04" height="1.312" fill="#d4e9e3"/>
<rect x="70.95" y="84.530" width="12.04" height="1.312" fill="#cee7e0"/>
<rect x="70.95" y="85.791" width="12.04" height="1.312" fill="#eaefec"/>
<rect x="70.95" y="87.053" width="12.04" height="1.312" fill="#f2e4dd"/>
<rect x="70.95" y="88.315" width="12.04" height="1.312" fill="#f1f1ef"/>
<rect x="70.95" y="89.577" width="12.04" height="1.312" fill="#f2ebe6"/>
<rect x="70.95" y="90.839" width="12.04" height="1.312" fill="#f2e3db"/>
<rect x="70.95" y="92.101" width="12.04" height="1.312" fill="#f3ddd3"/>
<rect x="70.95" y="93.362" width="12.04" height="1.312" fill="#daeae5"/>
<rect x="70.95" y="94.624" width="12.04" height="1.312" fill="#f3ded4"/>
<rect x="70.95" y="95.886" width="12.04" height="1.312" fill="#f4cebe"/>
<rect x="70.95" y="97.148" width="12.04" height="1.312" fill="#d4e9e2"/>
<rect x="70.95" y="98.410" width="12.04" height="1.312" fill="#b4e0d5"/>
<rect x="70.95" y="99.672" width="12.04" height="1.312" fill="#b5e0d5"/>
<rect x="70.95" y="100.933" width="12.04" height="1.312" fill="#b1dfd3"/>
<rect x="70.95" y="102.195" width="12.04" height="1.312" fill="#a6dcce"/>
<rect x="70.95" y="103.457" width="12.04" height="1.312" fill="#aaddd0"/>
<rect x="70.95" y="104.719" width="12.04" height="1.312" fill="#8ed5c4"/>
<rect x="70.95" y="105.981" width="12.04" height="1.312" fill="#9dd9cb"/>
<rect x="70.95" y="107.242" width="12.04" height="1.312" fill="#9dd9ca"/>
<rect x="70.95" y="108.504" width="12.04" height="1.312" fill="#f3ddd3"/>
<rect x="70.95" y="109.766" width="12.04" height="1.312" fill="#f2e3db"/>
<rect x="70.95" y="111.028" width="12.04" height="1.312" fill="#f4cfc0"/>
<rect x="70.95" y="112.290" width="12.04" height="1.312" fill="#f3dbd0"/>
<rect x="70.95" y="113.552" width="12.04" height="1.312" fill="#f2e1d9"/>
<rect x="70.95" y="114.813" width="12.04" height="1.312" fill="#f4cfbf"/>
<rect x="70.95" y="116.075" width="12.04" height="1.312" fill="#f2dfd6"/>
<rect x="70.95" y="117.337" width="12.04" height="1.312" fill="#f3dcd1"/>
<rect x="70.95" y="118.599" width="12.04" height="1.312" fill="#f5bfa9"/>
<rect x="70.95" y="119.861" width="12.04" height="1.312" fill="#f6ad90"/>
<rect x="70.95" y="121.123" width="12.04" height="1.312" fill="#f5baa3"/>
<rect x="70.95" y="122.384" width="12.04" height="1.312" fill="#f7a88a"/>
<rect x="70.95" y="123.646" width="12.04" height="1.312" fill="#f5bea8"/>
<rect x="70.95" y="124.908" width="12.04" height="1.312" fill="#f7a889"/>
<rect x="70.95" y="126.170" width="12.04" height="1.312" fill="#f5b9a1"/>
<rect x="70.95" y="127.432" width="12.04" height="1.312" fill="#f6b59c"/>
<rect x="70.95" y="128.694" width="12.04" height="1.312" fill="#f6b79e"/>
<rect x="70.95" y="129.955" width="12.04" height="1.312" fill="#f5c2ae"/>
<rect x="70.95" y="131.217" width="12.04" height="1.312" fill="#f7a180"/>
<rect x="70.95" y="132.479" width="12.04" height="1.312" fill="#f6b49b"/>
<rect x="70.95" y="133.741" width="12.04" height="1.312" fill="#f5c3af"/>
<rect x="70.95" y="135.003" width="12.04" height="1.312" fill="#f7aa8c"/>
<rect x="70.95" y="136.265" width="12.04" height="1.312" fill="#f5c1ad"/>
<rect x="70.95" y="137.526" width="12.04" height="1.312" fill="#f5bda7"/>
<rect x="70.95" y="138.788" width="12.04" height="1.312" fill="#f7ab8e"/>
<rect x="70.95" y="140.050" width="12.04" height="1.312" fill="#f6b297"/>
<rect x="70.95" y="141.312" width="12.04" height="1.312" fill="#f7aa8d"/>
<rect x="70.95" y="142.574" width="12.04" height="1.312" fill="#f5c3af"/>
<rect x="70.95" y="143.835" width="12.04" height="1.312" fill="#f7ab8e"/>
<rect x="70.95" y="145.097" width="12.04" height="1.312" fill="#f5c3af"/>
<rect x="70.95" y="146.359" width="12.04" height="1.312" fill="#f7a88a"/>
<rect x="70.95" y="147.621" width="12.04" height="1.312" fill="#f5bfaa"/>
<rect x="70.95" y="148.883" width="12.04" height="1.312" fill="#f6b49a"/>
<rect x="70.95" y="150.145" width="12.04" height="1.312" fill="#f6af93"/>
<rect x="70.95" y="151.406" width="12.04" height="1.312" fill="#f6ad91"/>
<rect x="70.95" y="152.668" width="12.04" height="1.312" fill="#f7a484"/>
<rect x="70.95" y="153.930" width="12.04" height="1.312" fill="#f5bda6"/>
<rect x="70.95" y="155.192" width="12.04" height="1.312" fill="#f5baa3"/>
<rect x="70.95" y="156.454" width="12.04" height="1.312" fill="#f6b298"/>
<rect x="70.95" y="157.716" width="12.04" height="1.312" fill="#f5bfa9"/>
<rect x="70.95" y="158.977" width="12.04" height="1.312" fill="#f5c0ab"/>
<rect x="70.95" y="160.239" width="12.04" height="1.312" fill="#f4c5b2"/>
<rect x="70.95" y="161.501" width="12.04" height="1.312" fill="#f2dfd6"/>
<rect x="70.95" y="162.763" width="12.04" height="1.312" fill="#f3d7cb"/>
<rect x="70.95" y="164.025" width="12.04" height="1.312" fill="#f3dacf"/>
<rect x="70.95" y="165.287" width="12.04" height="1.312" fill="#f6b095"/>
<rect x="70.95" y="166.548" width="12.04" height="1.312" fill="#f7ac8f"/>
<rect x="70.95" y="167.810" width="12.04" height="1.312" fill="#f7a586"/>
<rect x="70.95" y="169.072" width="12.04" height="1.312" fill="#f5bba4"/>
<rect x="70.95" y="170.334" width="12.04" height="1.312" fill="#f7ac8f"/>
<rect x="70.95" y="171.596" width="12.04" height="1.312" fill="#f7a98b"/>
<rect x="70.95" y="172.858" width="12.04" height="1.312" fill="#f6b298"/>
<rect x="70.95" y="174.119" width="12.04" height="1.312" fill="#f6b196"/>
<rect x="70.95" y="175.381" width="12.04" height="1.312" fill="#f6b79f"/>
<rect x="70.95" y="176.643" width="12.04" height="1.312" fill="#f6b49a"/>
<rect x="70.95" y="177.905" width="12.04" height="1.312" fill="#f6b298"/>
<rect x="70.95" y="179.167" width="12.04" height="1.312" fill="#f7ab8e"/>
<rect x="70.95" y="180.428" width="12.04" height="1.312" fill="#f5baa2"/>
<rect x="70.95" y="181.690" width="12.04" height="1.312" fill="#f6b095"/>
<rect x="70.95" y="182.952" width="12.04" height="1.312" fill="#f5bba4"/>
<rect x="70.95" y="184.214" width="12.04" height="1.312" fill="#f7a88a"/>
<rect x="70.95" y="185.476" width="12.04" height="1.312" fill="#f4c7b5"/>
<rect x="70.95" y="186.738" width="12.04" height="1.312" fill="#f6b095"/>
<rect x="70.95" y="187.999" width="12.04" height="1.312" fill="#f6ad90"/>
<rect x="70.95" y="189.261" width="12.04" height="1.312" fill="#f5c3af"/>
<rect x="70.95" y="190.523" width="12.04" height="1.312" fill="#f3d4c7"/>
<rect x="70.95" y="191.785" width="12.04" height="1.312" fill="#f4cbbb"/>
<rect x="70.95" y="193.047" width="12.04" height="1.312" fill="#f4d0c1"/>
<rect x="70.95" y="194.309" width="12.04" height="1.312" fill="#f5bda7"/>
<rect x="70.95" y="195.570" width="12.04" height="1.312" fill="#f5bea9"/>
<rect x="70.95" y="196.832" width="12.04" height="1.312" fill="#f3dcd2"/>
<rect x="70.95" y="198.094" width="12.04" height="1.312" fill="#f2dfd7"/>
<rect x="70.95" y="199.356" width="12.04" height="1.312" fill="#f3d3c5"/>
<rect x="70.95" y="200.618" width="12.04" height="1.312" fill="#f4ccbc"/>
<rect x="70.95" y="201.880" width="12.04" height="1.312" fill="#f4cebe"/>
<rect x="70.95" y="203.141" width="12.04" height="1.312" fill="#f4ccbb"/>
<rect x="70.95" y="204.403" width="12.04" height="1.312" fill="#f5bea8"/>
<rect x="70.95" y="205.665" width="12.04" height="1.312" fill="#f3d9ce"/>
<rect x="70.95" y="206.927" width="12.04" height="1.312" fill="#f4cbba"/>
<rect x="70.95" y="208.189" width="12.04" height="1.312" fill="#f3dcd2"/>
<rect x="70.95" y="209.451" width="12.04" height="1.312" fill="#f4c9b8"/>
<rect x="70.95" y="210.712" width="12.04" height="1.312" fill="#f4ccbc"/>
<rect x="70.95" y="211.974" width="12.04" height="1.312" fill="#f89975"/>
<rect x="70.95" y="213.236" width="12.04" height="1.312" fill="#f89d7a"/>
<rect x="70.95" y="214.498" width="12.04" height="1.312" fill="#f99068"/>
<rect x="70.95" y="215.760" width="12.04" height="1.312" fill="#f9916a"/>
<rect x="70.95" y="217.022" width="12.04" height="1.312" fill="#f89b78"/>
<rect x="70.95" y="218.283" width="12.04" height="1.312" fill="#f89570"/>
<rect x="70.95" y="219.545" width="12.04" height="1.312" fill="#f89771"/>
<rect x="70.95" y="220.807" width="12.04" height="1.312" fill="#f89772"/>
<rect x="70.95" y="222.069" width="12.04" height="1.312" fill="#f89e7b"/>
<rect x="70.95" y="223.331" width="12.04" height="1.312" fill="#f6ad91"/>
<rect x="70.95" y="224.592" width="12.04" height="1.312" fill="#f7a586"/>
<rect x="70.95" y="225.854" width="12.04" height="1.312" fill="#f5c0ab"/>
<rect x="70.95" y="227.116" width="12.04" height="1.312" fill="#f7a180"/>
<rect x="70.95" y="228.378" width="12.04" height="1.312" fill="#f7a687"/>
<rect x="70.95" y="229.640" width="12.04" height="1.312" fill="#f5baa2"/>
<rect x="70.95" y="230.902" width="12.04" height="1.312" fill="#f98d64"/>
<rect x="70.95" y="232.163" width="12.04" height="1.312" fill="#f98d64"/>
<rect x="70.95" y="233.425" width="12.04" height="1.312" fill="#f98d64"/>
<rect x="70.95" y="234.687" width="12.04" height="1.312" fill="#f98d64"/>
<rect x="70.95" y="235.949" width="12.04" height="1.312" fill="#f98d64"/>
<rect x="70.95" y="237.211" width="12.04" height="1.312" fill="#f98d64"/>
<rect x="70.95" y="238.473" width="12.04" height="1.312" fill="#f98d64"/>
<rect x="70.95" y="239.734" width="12.04" height="1.312" fill="#f98d64"/>
<rect x="70.95" y="240.996" width="12.04" height="1.312" fill="#f98d64"/>
<rect x="70.95" y="242.258" width="12.04" height="1.312" fill="#f98d64"/>
<rect x="70.95" y="243.520" width="12.04" height="1.312" fill="#f98d64"/>
<rect x="70.95" y="244.782" width="12.04" height="1.312" fill="#f98d64"/>
<rect x="70.95" y="246.044" width="12.04" height="1.312" fill="#f98d64"/>
<rect x="70.95" y="247.305" width="12.04" height="1.312" fill="#f98d64"/>
<rect x="70.95" y="248.567" width="12.04" height="1.312" fill="#f4c6b3"/>
<rect x="70.95" y="249.829" width="12.04" height="1.312" fill="#f3d9ce"/>
<rect x="70.95" y="251.091" width="12.04" height="1.312" fill="#f6b298"/>
<rect x="70.95" y="252.353" width="12.04" height="1.312" fill="#f5c1ac"/>
<rect x="70.95" y="253.615" width="12.04" height="1.312" fill="#f5c3af"/>
<rect x="70.95" y="254.876" width="12.04" height="1.312" fill="#f4c8b6"/>
<rect x="70.95" y="256.138" width="12.04" height="1.312" fill="#f1ece9"/>
<rect x="82.99" y="22.700" width="12.04" height="1.312" fill="#deece7"/>
<rect x="82.99" y="23.962" width="12.04" height="1.312" fill="#f2e7e1"/>
<rect x="82.99" y="25.224" width="12.04" height="1.312" fill="#e3ede9"/>
<rect x="82.99" y="26.485" width="12.04" height="1.312" fill="#c4e4db"/>
<rect x="82.99" y="27.747" width="12.04" height="1.312" fill="#e3ede9"/>
<rect x="82.99" y="29.009" width="12.04" height="1.312" fill="#d1e8e1"/>
<rect x="82.99" y="30.271" width="12.04" height="1.312" fill="#81d1be"/>
<rect x="82.99" y="31.533" width="12.04" height="1.312" fill="#90d5c5"/>
<rect x="82.99" y="32.795" width="12.04" height="1.312" fill="#7acfbb"/>
<rect x="82.99" y="34.056" width="12.04" height="1.312" fill="#77ceba"/>
<rect x="82.99" y="35.318" width="12.04" height="1.312" fill="#71ccb8"/>
<rect x="82.99" y="36.580" width="12.04" height="1.312" fill="#80d1be"/>
<rect x="82.99" y="37.842" width="12.04" height="1.312" fill="#7cd0bc"/>
<rect x="82.99" y="39.104" width="12.04" height="1.312" fill="#5cc6ae"/>
<rect x="82.99" y="40.366" width="12.04" height="1.312" fill="#71ccb7"/>
<rect x="82.99" y="41.627" width="12.04" height="1.312" fill="#60c8b0"/>
<rect x="82.99" y="42.889" width="12.04" height="1.312" fill="#79cfbb"/>
<rect x="82.99" y="44.151" width="12.04" height="1.312" fill="#96d7c7"/>
<rect x="82.99" y="45.413" width="12.04" height="1.312" fill="#a2dacd"/>
<rect x="82.99" y="46.675" width="12.04" height="1.312" fill="#f2dfd6"/>
<rect x="82.99" y="47.937" width="12.04" height="1.312" fill="#f3dacf"/>
<rect x="82.99" y="49.198" width="12.04" height="1.312" fill="#f2e4dd"/>
<rect x="82.99" y="50.460" width="12.04" height="1.312" fill="#f2e3db"/>
<rect x="82.99" y="51.722" width="12.04" height="1.312" fill="#f3dbd0"/>
<rect x="82.99" y="52.984" width="12.04" height="1.312" fill="#b0ded3"/>
<rect x="82.99" y="54.246" width="12.04" height="1.312" fill="#99d8c9"/>
<rect x="82.99" y="55.508" width="12.04" height="1.312" fill="#afded2"/>
<rect x="82.99" y="56.769" width="12.04" height="1.312" fill="#added2"/>
<rect x="82.99" y="58.031" width="12.04" height="1.312" fill="#8cd4c3"/>
<rect x="82.99" y="59.293" width="12.04" height="1.312" fill="#b4dfd4"/>
<rect x="82.99" y="60.555" width="12.04" height="1.312" fill="#bce2d8"/>
<rect x="82.99" y="61.817" width="12.04" height="1.312" fill="#a7dccf"/>
<rect x="82.99" y="63.078" width="12.04" height="1.312" fill="#82d1bf"/>
<rect x="82.99" y="64.340" width="12.04" height="1.312" fill="#d6e9e3"/>
<rect x="82.99" y="65.602" width="12.04" height="1.312" fill="#f3d9cd"/>
<rect x="82.99" y="66.864" width="12.04" height="1.312" fill="#f2e0d8"/>
<rect x="82.99" y="68.126" width="12.04" height="1.312" fill="#f2dfd6"/>
<rect x="82.99" y="69.388" width="12.04" height="1.312" fill="#96d7c7"/>
<rect x="82.99" y="70.649" width="12.04" height="1.312" fill="#aeded2"/>
<rect x="82.99" y="71.911" width="12.04" height="1.312" fill="#67cab3"/>
<rect x="82.99" y="73.173" width="12.04" height="1.312" fill="#5fc7b0"/>
<rect x="82.99" y="74.435" width="12.04" height="1.312" fill="#68cab4"/>
<rect x="82.99" y="75.697" width="12.04" height="1.312" fill="#87d3c1"/>
<rect x="82.99" y="76.959" width="12.04" height="1.312" fill="#5dc7af"/>
<rect x="82.99" y="78.220" width="12.04" height="1.312" fill="#5dc7af"/>
<rect x="82.99" y="79.482" width="12.04" height="1.312" fill="#74cdb9"/>
<rect x="82.99" y="80.744" width="12.04" height="1.312" fill="#6acbb5"/>
<rect x="82.99" y="82.006" width="12.04" height="1.312" fill="#79cfbb"/>
<rect x="82.99" y="83.268" width="12.04" height="1.312" fill="#82d1bf"/>
<rect x="82.99" y="84.530" width="12.04" height="1.312" fill="#87d3c1"/>
<rect x="82.99" y="85.791" width="12.04" height="1.312" fill="#87d3c1"/>
<rect x="82.99" y="87.053" width="12.04" height="1.312" fill="#4bc2a7"/>
<rect x="82.99" y="88.315" width="12.04" height="1.312" fill="#34bb9d"/>
<rect x="82.99" y="89.577" width="12.04" height="1.312" fill="#1fb594"/>
<rect x="82.99" y="90.839" width="12.04" height="1.312" fill="#2ab899"/>
<rect x="82.99" y="92.101" width="12.04" height="1.312" fill="#1fb594"/>
<rect x="82.99" y="93.362" width="12.04" height="1.312" fill="#1fb594"/>
<rect x="82.99" y="94.624" width="12.04" height="1.312" fill="#3cbda1"/>
<rect x="82.99" y="95.886" width="12.04" height="1.312" fill="#36bc9e"/>
<rect x="82.99" y="97.148" width="12.04" height="1.312" fill="#1fb594"/>
<rect x="82.99" y="98.410" width="12.04" height="1.312" fill="#52c4aa"/>
<rect x="82.99" y="99.672" width="12.04" height="1.312" fill="#1fb594"/>
<rect x="82.99" y="100.933" width="12.04" height="1.312" fill="#1fb594"/>
<rect x="82.99" y="102.195" width="12.04" height="1.312" fill="#1fb594"/>
<rect x="82.99" y="103.457" width="12.04" height="1.312" fill="#52c4aa"/>
<rect x="82.99" y="104.719" width="12.04" height="1.312" fill="#31ba9c"/>
<rect x="82.99" y="105.981" width="12.04" height="1.312" fill="#48c1a6"/>
<rect x="82.99" y="107.242" width="12.04" height="1.312" fill="#21b695"/>
<rect x="82.99" y="108.504" width="12.04" height="1.312" fill="#f98d64"/>
<rect x="82.99" y="109.766" width="12.04" height="1.312" fill="#f8956f"/>
<rect x="82.99" y="111.028" width="12.04" height="1.312" fill="#f98d64"/>
<rect x="82.99" y="112.290" width="12.04" height="1.312" fill="#f98d64"/>
<rect x="82.99" y="113.552" width="12.04" height="1.312" fill="#f89772"/>
<rect x="82.99" y="114.813" width="12.04" height="1.312" fill="#f98d64"/>
<rect x="82.99" y="116.075" width="12.04" height="1.312" fill="#f98d64"/>
<rect x="82.99" y="117.337" width="12.04" height="1.312" fill="#f98d64"/>
<rect x="82.99" y="118.599" width="12.04" height="1.312" fill="#f98d64"/>
<rect x="82.99" y="119.861" width="12.04" height="1.312" fill="#f98d64"/>
<rect x="82.99" y="121.123" width="12.04" height="1.312" fill="#f98d64"/>
<rect x="82.99" y="122.384" width="12.04" height="1.312" fill="#f98d64"/>
<rect x="82.99" y="123.646" width="12.04" height="1.312" fill="#f5c4b0"/>
<rect x="82.99" y="124.908" width="12.04" height="1.312" fill="#f5c0ab"/>
<rect x="82.99" y="126.170" width="12.04" height="1.312" fill="#f5c1ad"/>
<rect x="82.99" y="127.432" width="12.04" height="1.312" fill="#f6b69d"/>
<rect x="82.99" y="128.694" width="12.04" height="1.312" fill="#f6b59c"/>
<rect x="82.99" y="129.955" width="12.04" height="1.312" fill="#f5b9a1"/>
<rect x="82.99" y="131.217" width="12.04" height="1.312" fill="#f4cbba"/>
<rect x="82.99" y="132.479" width="12.04" height="1.312" fill="#f5c5b1"/>
<rect x="82.99" y="133.741" width="12.04" height="1.312" fill="#f6b196"/>
<rect x="82.99" y="135.003" width="12.04" height="1.312" fill="#f7a383"/>
<rect x="82.99" y="136.265" width="12.04" height="1.312" fill="#f7a88a"/>
<rect x="82.99" y="137.526" width="12.04" height="1.312" fill="#f7a07e"/>
<rect x="82.99" y="138.788" width="12.04" height="1.312" fill="#f4cdbd"/>
<rect x="82.99" y="140.050" width="12.04" height="1.312" fill="#f89e7c"/>
<rect x="82.99" y="141.312" width="12.04" height="1.312" fill="#f7a281"/>
<rect x="82.99" y="142.574" width="12.04" height="1.312" fill="#f5bea8"/>
<rect x="82.99" y="143.835" width="12.04" height="1.312" fill="#f5bfa9"/>
<rect x="82.99" y="145.097" width="12.04" height="1.312" fill="#f89f7d"/>
<rect x="82.99" y="146.359" width="12.04" height="1.312" fill="#f6b79e"/>
<rect x="82.99" y="147.621" width="12.04" height="1.312" fill="#f6b69d"/>
<rect x="82.99" y="148.883" width="12.04" height="1.312" fill="#f6b195"/>
<rect x="82.99" y="150.145" width="12.04" height="1.312" fill="#f6b59c"/>
<rect x="82.99" y="151.406" width="12.04" height="1.312" fill="#f6b49a"/>
<rect x="82.99" y="152.668" width="12.04" height="1.312" fill="#f6b59b"/>
<rect x="82.99" y="153.930" width="12.04" height="1.312" fill="#f6b49a"/>
<rect x="82.99" y="155.192" width="12.04" height="1.312" fill="#f6b297"/>
<rect x="82.99" y="156.454" width="12.04" height="1.312" fill="#f4c6b3"/>
<rect x="82.99" y="157.716" width="12.04" height="1.312" fill="#f5c4b1"/>
<rect x="82.99" y="158.977" width="12.04" height="1.312" fill="#f5baa2"/>
<rect x="82.99" y="160.239" width="12.04" height="1.312" fill="#f4c8b5"/>
<rect x="82.99" y="161.501" width="12.04" height="1.312" fill="#f6b69d"/>
<rect x="82.99" y="162.763" width="12.04" height="1.312" fill="#f4c7b4"/>
<rect x="82.99" y="164.025" width="12.04" height="1.312" fill="#f6b8a0"/>
<rect x="82.99" y="165.287" width="12.04" height="1.312" fill="#f5b9a2"/>
<rect x="82.99" y="166.548" width="12.04" height="1.312" fill="#f4d0c1"/>
<rect x="82.99" y="167.810" width="12.04" height="1.312" fill="#f6b8a0"/>
<rect x="82.99" y="169.072" width="12.04" height="1.312" fill="#f6b59b"/>
<rect x="82.99" y="170.334" width="12.04" height="1.312" fill="#f4cbba"/>
<rect x="82.99" y="171.596" width="12.04" height="1.312" fill="#f5c2ae"/>
<rect x="82.99" y="172.858" width="12.04" height="1.312" fill="#f6b69d"/>
<rect x="82.99" y="174.119" width="12.04" height="1.312" fill="#f5c2ad"/>
<rect x="82.99" y="175.381" width="12.04" height="1.312" fill="#f6b197"/>
<rect x="82.99" y="176.643" width="12.04" height="1.312" fill="#f6b59b"/>
<rect x="82.99" y="177.905" width="12.04" height="1.312" fill="#f4cab9"/>
<rect x="82.99" y="179.167" width="12.04" height="1.312" fill="#f6b69d"/>
<rect x="82.99" y="180.428" width="12.04" height="1.312" fill="#f6b297"/>
<rect x="82.99" y="181.690" width="12.04" height="1.312" fill="#f5bca5"/>
<rect x="82.99" y="182.952" width="12.04" height="1.312" fill="#f5bba3"/>
<rect x="82.99" y="184.214" width="12.04" height="1.312" fill="#f6af94"/>
<rect x="82.99" y="185.476" width="12.04" height="1.312" fill="#f4c7b5"/>
<rect x="82.99" y="186.738" width="12.04" height="1.312" fill="#f6b095"/>
<rect x="82.99" y="187.999" width="12.04" height="1.312" fill="#f98d64"/>
<rect x="82.99" y="189.261" width="12.04" height="1.312" fill="#f98d64"/>
<rect x="82.99" y="190.523" width="12.04" height="1.312" fill="#f98d64"/>
<rect x="82.99" y="191.785" width="12.04" height="1.312" fill="#f8a07e"/>
<rect x="82.99" y="193.047" width="12.04" height="1.312" fill="#f98d64"/>
<rect x="82.99" y="194.309" width="12.04" height="1.312" fill="#f98d64"/>
<rect x="82.99" y="195.570" width="12.04" height="1.312" fill="#f98d64"/>
<rect x="82.99" y="196.832" width="12.04" height="1.312" fill="#f98d65"/>
<rect x="82.99" y="198.094" width="12.04" height="1.312" fill="#f98d64"/>
<rect x="82.99" y="199.356" width="12.04" height="1.312" fill="#f98d64"/>
<rect x="82.99" y="200.618" width="12.04" height="1.312" fill="#f98d64"/>
<rect x="82.99" y="201.880" width="12.04" height="1.312" fill="#f9916a"/>
<rect x="82.99" y="203.141" width="12.04" height="1.312" fill="#f98d64"/>
<rect x="82.99" y="204.403" width="12.04" height="1.312" fill="#f98d64"/>
<rect x="82.99" y="205.665" width="12.04" height="1.312" fill="#f98d64"/>
<rect x="82.99" y="206.927" width="12.04" height="1.312" fill="#f99169"/>
<rect x="82.99" y="208.189" width="12.04" height="1.312" fill="#f98d64"/>
<rect x="82.99" y="209.451" width="12.04" height="1.312" fill="#f98d64"/>
<rect x="82.99" y="210.712" width="12.04" height="1.312" fill="#f98d64"/>
<rect x="82.99" y="211.974" width="12.04" height="1.312" fill="#f98d64"/>
<rect x="82.99" y="213.236" width="12.04" height="1.312" fill="#f98d64"/>
<rect x="82.99" y="214.498" width="12.04" height="1.312" fill="#f89f7d"/>
<rect x="82.99" y="215.760" width="12.04" height="1.312" fill="#f7ac8f"/>
<rect x="82.99" y="217.022" width="12.04" height="1.312" fill="#f6b196"/>
<rect x="82.99" y="218.283" width="12.04" height="1.312" fill="#f7a788"/>
<rect x="82.99" y="219.545" width="12.04" height="1.312" fill="#f6ae92"/>
<rect x="82.99" y="220.807" width="12.04" height="1.312" fill="#f6af93"/>
<rect x="82.99" y="222.069" width="12.04" height="1.312" fill="#f7a889"/>
<rect x="82.99" y="223.331" width="12.04" height="1.312" fill="#f7a88a"/>
<rect x="82.99" y="224.592" width="12.04" height="1.312" fill="#f4c9b7"/>
<rect x="82.99" y="225.854" width="12.04" height="1.312" fill="#f89975"/>
<rect x="82.99" y="227.116" width="12.04" height="1.312" fill="#f89f7e"/>
<rect x="82.99" y="228.378" width="12.04" height="1.312" fill="#f6b095"/>
<rect x="82.99" y="229.640" width="12.04" height="1.312" fill="#f6b197"/>
<rect x="82.99" y="230.902" width="12.04" height="1.312" fill="#f7a687"/>
<rect x="82.99" y="232.163" width="12.04" height="1.312" fill="#f5c4b1"/>
<rect x="82.99" y="233.425" width="12.04" height="1.312" fill="#f5c5b2"/>
<rect x="82.99" y="234.687" width="12.04" height="1.312" fill="#f5bba4"/>
<rect x="82.99" y="235.949" width="12.04" height="1.312" fill="#f2e7e1"/>
<rect x="82.99" y="237.211" width="12.04" height="1.312" fill="#f2e6e0"/>
<rect x="82.99" y="238.473" width="12.04" height="1.312" fill="#f2e8e2"/>
<rect x="82.99" y="239.734" width="12.04" height="1.312" fill="#e4ede9"/>
<rect x="82.99" y="240.996" width="12.04" height="1.312" fill="#f3dbd1"/>
<rect x="82.99" y="242.258" width="12.04" height="1.312" fill="#f6b197"/>
<rect x="82.99" y="243.520" width="12.04" height="1.312" fill="#c6e5dc"/>
<rect x="82.99" y="244.782" width="12.04" height="1.312" fill="#deece7"/>
<rect x="82.99" y="246.044" width="12.04" height="1.312" fill="#e4ede9"/>
<rect x="82.99" y="247.305" width="12.04" height="1.312" fill="#c8e5dd"/>
<rect x="82.99" y="248.567" width="12.04" height="1.312" fill="#f5bda7"/>
<rect x="82.99" y="249.829" width="12.04" height="1.312" fill="#f7a788"/>
<rect x="82.99" y="251.091" width="12.04" height="1.312" fill="#f6b298"/>
<rect x="82.99" y="252.353" width="12.04" height="1.312" fill="#f5c4b1"/>
<rect x="82.99" y="253.615" width="12.04" height="1.312" fill="#f6b49a"/>
<rect x="82.99" y="254.876" width="12.04" height="1.312" fill="#f7a98b"/>
<rect x="82.99" y="256.138" width="12.04" height="1.312" fill="#f5c0ab"/>
<rect x="95.02" y="22.700" width="12.04" height="1.312" fill="#1fb594"/>
<rect x="95.02" y="23.962" width="12.04" height="1.312" fill="#1fb594"/>
<rect x="95.02" y="25.224" width="12.04" height="1.312" fill="#1fb594"/>
<rect x="95.02" y="26.485" width="12.04" height="1.312" fill="#1fb594"/>
<rect x="95.02" y="27.747" width="12.04" height="1.312" fill="#1fb594"/>
<rect x="95.02" y="29.009" width="12.04" height="1.312" fill="#72cdb8"/>
<rect x="95.02" y="30.271" width="12.04" height="1.312" fill="#5ec7af"/>
<rect x="95.02" y="31.533" width="12.04" height="1.312" fill="#83d2bf"/>
<rect x="95.02" y="32.795" width="12.04" height="1.312" fill="#78cebb"/>
<rect x="95.02" y="34.056" width="12.04" height="1.312" fill="#89d3c2"/>
<rect x="95.02" y="35.318" width="12.04" height="1.312" fill="#77ceba"/>
<rect x="95.02" y="36.580" width="12.04" height="1.312" fill="#7cd0bc"/>
<rect x="95.02" y="37.842" width="12.04" height="1.312" fill="#7acfbb"/>
<rect x="95.02" y="39.104" width="12.04" height="1.312" fill="#84d2c0"/>
<rect x="95.02" y="40.366" width="12.04" height="1.312" fill="#77ceba"/>
<rect x="95.02" y="41.627" width="12.04" height="1.312" fill="#8bd4c3"/>
<rect x="95.02" y="42.889" width="12.04" height="1.312" fill="#80d1be"/>
<rect x="95.02" y="44.151" width="12.04" height="1.312" fill="#85d2c0"/>
<rect x="95.02" y="45.413" width="12.04" height="1.312" fill="#90d5c5"/>
<rect x="95.02" y="46.675" width="12.04" height="1.312" fill="#98d8c8"/>
<rect x="95.02" y="47.937" width="12.04" height="1.312" fill="#85d2c0"/>
<rect x="95.02" y="49.198" width="12.04" height="1.312" fill="#77ceba"/>
<rect x="95.02" y="50.460" width="12.04" height="1.312" fill="#83d2bf"/>
<rect x="95.02" y="51.722" width="12.04" height="1.312" fill="#75ceb9"/>
<rect x="95.02" y="52.984" width="12.04" height="1.312" fill="#5dc7af"/>
<rect x="95.02" y="54.246" width="12.04" height="1.312" fill="#a1dacc"/>
<rect x="95.02" y="55.508" width="12.04" height="1.312" fill="#72cdb8"/>
<rect x="95.02" y="56.769" width="12.04" height="1.312" fill="#7fd0be"/>
<rect x="95.02" y="58.031" width="12.04" height="1.312" fill="#7ccfbc"/>
<rect x="95.02" y="59.293" width="12.04" height="1.312" fill="#71cdb8"/>
<rect x="95.02" y="60.555" width="12.04" height="1.312" fill="#76ceba"/>
<rect x="95.02" y="61.817" width="12.04" height="1.312" fill="#8ad4c2"/>
<rect x="95.02" y="63.078" width="12.04" height="1.312" fill="#86d3c1"/>
<rect x="95.02" y="64.340" width="12.04" height="1.312" fill="#79cfbb"/>
<rect x="95.02" y="65.602" width="12.04" height="1.312" fill="#7bcfbc"/>
<rect x="95.02" y="66.864" width="12.04" height="1.312" fill="#a0dacc"/>
<rect x="95.02" y="68.126" width="12.04" height="1.312" fill="#71ccb7"/>
<rect x="95.02" y="69.388" width="12.04" height="1.312" fill="#79cfbb"/>
<rect x="95.02" y="70.649" width="12.04" height="1.312" fill="#90d5c5"/>
<rect x="95.02" y="71.911" width="12.04" height="1.312" fill="#a1dacc"/>
<rect x="95.02" y="73.173" width="12.04" height="1.312" fill="#92d6c6"/>
<rect x="95.02" y="74.435" width="12.04" height="1.312" fill="#8fd5c5"/>
<rect x="95.02" y="75.697" width="12.04" height="1.312" fill="#7ed0bd"/>
<rect x="95.02" y="76.959" width="12.04" height="1.312" fill="#86d3c1"/>
<rect x="95.02" y="78.220" width="12.04" height="1.312" fill="#95d7c7"/>
<rect x="95.02" y="79.482" width="12.04" height="1.312" fill="#95d7c7"/>
<rect x="95.02" y="80.744" width="12.04" height="1.312" fill="#9bd8ca"/>
<rect x="95.02" y="82.006" width="12.04" height="1.312" fill="#6eccb6"/>
<rect x="95.02" y="83.268" width="12.04" height="1.312" fill="#c9e6de"/>
<rect x="95.02" y="84.530" width="12.04" height="1.312" fill="#8bd4c3"/>
<rect x="95.02" y="85.791" width="12.04" height="1.312" fill="#77ceba"/>
<rect x="95.02" y="87.053" width="12.04" height="1.312" fill="#71ccb7"/>
<rect x="95.02" y="88.315" width="12.04" height="1.312" fill="#7bcfbc"/>
<rect x="95.02" y="89.577" width="12.04" height="1.312" fill="#72cdb8"/>
<rect x="95.02" y="90.839" width="12.04" height="1.312" fill="#77ceba"/>
<rect x="95.02" y="92.101" width="12.04" height="1.312" fill="#77ceba"/>
<rect x="95.02" y="93.362" width="12.04" height="1.312" fill="#7dd0bd"/>
<rect x="95.02" y="94.624" width="12.04" height="1.312" fill="#3cbda1"/>
<rect x="95.02" y="95.886" width="12.04" height="1.312" fill="#60c8b0"/>
<rect x="95.02" y="97.148" width="12.04" height="1.312" fill="#64c9b2"/>
<rect x="95.02" y="98.410" width="12.04" height="1.312" fill="#6acab4"/>
<rect x="95.02" y="99.672" width="12.04" height="1.312" fill="#5ec7af"/>
<rect x="95.02" y="100.933" width="12.04" height="1.312" fill="#67cab3"/>
<rect x="95.02" y="102.195" width="12.04" height="1.312" fill="#45c0a4"/>
<rect x="95.02" y="103.457" width="12.04" height="1.312" fill="#3fbea2"/>
<rect x="95.02" y="104.719" width="12.04" height="1.312" fill="#a4dbce"/>
<rect x="95.02" y="105.981" width="12.04" height="1.312" fill="#6acbb5"/>
<rect x="95.02" y="107.242" width="12.04" height="1.312" fill="#3ebea1"/>
<rect x="95.02" y="108.504" width="12.04" height="1.312" fill="#f9936c"/>
<rect x="95.02" y="109.766" width="12.04" height="1.312" fill="#f7a484"/>
<rect x="95.02" y="111.028" width="12.04" height="1.312" fill="#f98e65"/>
<rect x="95.02" y="112.290" width="12.04" height="1.312" fill="#f99068"/>
<rect x="95.02" y="113.552" width="12.04" height="1.312" fill="#f6b399"/>
<rect x="95.02" y="114.813" width="12.04" height="1.312" fill="#f6b79f"/>
<rect x="95.02" y="116.075" width="12.04" height="1.312" fill="#f6b49a"/>
<rect x="95.02" y="117.337" width="12.04" height="1.312" fill="#f5c4b1"/>
<rect x="95.02" y="118.599" width="12.04" height="1.312" fill="#f7aa8d"/>
<rect x="95.02" y="119.861" width="12.04" height="1.312" fill="#f6b79e"/>
<rect x="95.02" y="121.123" width="12.04" height="1.312" fill="#f6b59b"/>
<rect x="95.02" y="122.384" width="12.04" height="1.312" fill="#f5c4b1"/>
<rect x="95.02" y="123.646" width="12.04" height="1.312" fill="#f7a687"/>
<rect x="95.02" y="124.908" width="12.04" height="1.312" fill="#f6af93"/>
<rect x="95.02" y="126.170" width="12.04" height="1.312" fill="#f6af93"/>
<rect x="95.02" y="127.432" width="12.04" height="1.312" fill="#f6b59c"/>
<rect x="95.02" y="128.694" width="12.04" height="1.312" fill="#f6b8a0"/>
<rect x="95.02" y="129.955" width="12.04" height="1.312" fill="#f5c3af"/>
<rect x="95.02" y="131.217" width="12.04" height="1.312" fill="#f7a788"/>
<rect x="95.02" y="132.479" width="12.04" height="1.312" fill="#f6b69d"/>
<rect x="95.02" y="133.741" width="12.04" height="1.312" fill="#f7ab8e"/>
<rect x="95.02" y="135.003" width="12.04" height="1.312" fill="#f6b095"/>
<rect x="95.02" y="136.265" width="12.04" height="1.312" fill="#f6b59c"/>
<rect x="95.02" y="137.526" width="12.04" height="1.312" fill="#f6af93"/>
<rect x="95.02" y="138.788" width="12.04" height="1.312" fill="#f6b399"/>
<rect x="95.02" y="140.050" width="12.04" height="1.312" fill="#f6ad90"/>
<rect x="95.02" y="141.312" width="12.04" height="1.312" fill="#f7ac8f"/>
<rect x="95.02" y="142.574" width="12.04" height="1.312" fill="#f6b79e"/>
<rect x="95.02" y="143.835" width="12.04" height="1.312" fill="#f7ac8f"/>
<rect x="95.02" y="145.097" width="12.04" height="1.312" fill="#f7aa8d"/>
<rect x="95.02" y="146.359" width="12.04" height="1.312" fill="#f5c2ae"/>
<rect x="95.02" y="147.621" width="12.04" height="1.312" fill="#f6b8a0"/>
<rect x="95.02" y="148.883" width="12.04" height="1.312" fill="#f5bca5"/>
<rect x="95.02" y="150.145" width="12.04" height="1.312" fill="#f5b9a1"/>
<rect x="95.02" y="151.406" width="12.04" height="1.312" fill="#f6ae92"/>
<rect x="95.02" y="152.668" width="12.04" height="1.312" fill="#f6ae93"/>
<rect x="95.02" y="153.930" width="12.04" height="1.312" fill="#f6ad90"/>
<rect x="95.02" y="155.192" width="12.04" height="1.312" fill="#f6b196"/>
<rect x="95.02" y="156.454" width="12.04" height="1.312" fill="#f6b89f"/>
<rect x="95.02" y="157.716" width="12.04" height="1.312" fill="#f4cbbb"/>
<rect x="95.02" y="158.977" width="12.04" height="1.312" fill="#f4d0c2"/>
<rect x="95.02" y="160.239" width="12.04" height="1.312" fill="#f2e7e1"/>
<rect x="95.02" y="161.501" width="12.04" height="1.312" fill="#f5bea8"/>
<rect x="95.02" y="162.763" width="12.04" height="1.312" fill="#f4cdbe"/>
<rect x="95.02" y="164.025" width="12.04" height="1.312" fill="#f5c1ad"/>
<rect x="95.02" y="165.287" width="12.04" height="1.312" fill="#f4cebf"/>
<rect x="95.02" y="166.548" width="12.04" height="1.312" fill="#f3d2c4"/>
<rect x="95.02" y="167.810" width="12.04" height="1.312" fill="#f2e8e3"/>
<rect x="95.02" y="169.072" width="12.04" height="1.312" fill="#f5c1ad"/>
<rect x="95.02" y="170.334" width="12.04" height="1.312" fill="#f3d3c5"/>
<rect x="95.02" y="171.596" width="12.04" height="1.312" fill="#f4d1c2"/>
<rect x="95.02" y="172.858" width="12.04" height="1.312" fill="#f3d2c4"/>
<rect x="95.02" y="174.119" width="12.04" height="1.312" fill="#f5bda7"/>
<rect x="95.02" y="175.381" width="12.04" height="1.312" fill="#f4cab9"/>
<rect x="95.02" y="176.643" width="12.04" height="1.312" fill="#f4c8b6"/>
<rect x="95.02" y="177.905" width="12.04" height="1.312" fill="#f5c1ac"/>
<rect x="95.02" y="179.167" width="12.04" height="1.312" fill="#f5c5b2"/>
<rect x="95.02" y="180.428" width="12.04" height="1.312" fill="#f5bfaa"/>
<rect x="95.02" y="181.690" width="12.04" height="1.312" fill="#f4cfc0"/>
<rect x="95.02" y="182.952" width="12.04" height="1.312" fill="#f4c8b6"/>
<rect x="95.02" y="184.214" width="12.04" height="1.312" fill="#f3d4c7"/>
<rect x="95.02" y="185.476" width="12.04" height="1.312" fill="#f5c4b1"/>
<rect x="95.02" y="186.738" width="12.04" height="1.312" fill="#f2eae5"/>
<rect x="95.02" y="187.999" width="12.04" height="1.312" fill="#f2e7e1"/>
<rect x="95.02" y="189.261" width="12.04" height="1.312" fill="#f2e4dd"/>
<rect x="95.02" y="190.523" width="12.04" height="1.312" fill="#e5eeea"/>
<rect x="95.02" y="191.785" width="12.04" height="1.312" fill="#eaefec"/>
<rect x="95.02" y="193.047" width="12.04" height="1.312" fill="#f2e9e4"/>
<rect x="95.02" y="194.309" width="12.04" height="1.312" fill="#f1ede9"/>
<rect x="95.02" y="195.570" width="12.04" height="1.312" fill="#f3ddd3"/>
<rect x="95.02" y="196.832" width="12.04" height="1.312" fill="#f0f1ee"/>
<rect x="95.02" y="198.094" width="12.04" height="1.312" fill="#f3d3c5"/>
<rect x="95.02" y="199.356" width="12.04" height="1.312" fill="#c7e5dd"/>
<rect x="95.02" y="200.618" width="12.04" height="1.312" fill="#f2dfd6"/>
<rect x="95.02" y="201.880" width="12.04" height="1.312" fill="#e7eeeb"/>
<rect x="95.02" y="203.141" width="12.04" height="1.312" fill="#f3d4c7"/>
<rect x="95.02" y="204.403" width="12.04" height="1.312" fill="#f4c8b6"/>
<rect x="95.02" y="205.665" width="12.04" height="1.312" fill="#f6b9a1"/>
<rect x="95.02" y="206.927" width="12.04" height="1.312" fill="#f4cbba"/>
<rect x="95.02" y="208.189" width="12.04" height="1.312" fill="#f5bda7"/>
<rect x="95.02" y="209.451" width="12.04" height="1.312" fill="#f5c1ac"/>
<rect x="95.02" y="210.712" width="12.04" height="1.312" fill="#f4c9b7"/>
<rect x="95.02" y="211.974" width="12.04" height="1.312" fill="#f4cdbd"/>
<rect x="95.02" y="213.236" width="12.04" height="1.312" fill="#f4c9b7"/>
<rect x="95.02" y="214.498" width="12.04" height="1.312" fill="#f4cab9"/>
<rect x="95.02" y="215.760" width="12.04" height="1.312" fill="#f5bda6"/>
<rect x="95.02" y="217.022" width="12.04" height="1.312" fill="#f6b59c"/>
<rect x="95.02" y="218.283" width="12.04" height="1.312" fill="#f3d8cc"/>
<rect x="95.02" y="219.545" width="12.04" height="1.312" fill="#f5c4b1"/>
<rect x="95.02" y="220.807" width="12.04" height="1.312" fill="#f4c8b7"/>
<rect x="95.02" y="222.069" width="12.04" height="1.312" fill="#f4c9b7"/>
<rect x="95.02" y="223.331" width="12.04" height="1.312" fill="#f5baa3"/>
<rect x="95.02" y="224.592" width="12.04" height="1.312" fill="#f4cab9"/>
<rect x="95.02" y="225.854" width="12.04" height="1.312" fill="#f4ccbb"/>
<rect x="95.02" y="227.116" width="12.04" height="1.312" fill="#f5c0ab"/>
<rect x="95.02" y="228.378" width="12.04" height="1.312" fill="#f2e9e4"/>
<rect x="95.02" y="229.640" width="12.04" height="1.312" fill="#f2ded5"/>
<rect x="95.02" y="230.902" width="12.04" height="1.312" fill="#f2e3dc"/>
<rect x="95.02" y="232.163" width="12.04" height="1.312" fill="#ecf0ed"/>
<rect x="95.02" y="233.425" width="12.04" height="1.312" fill="#f2e4dd"/>
<rect x="95.02" y="234.687" width="12.04" height="1.312" fill="#f2e5df"/>
<rect x="95.02" y="235.949" width="12.04" height="1.312" fill="#f2e6e0"/>
<rect x="95.02" y="237.211" width="12.04" height="1.312" fill="#f3dcd2"/>
<rect x="95.02" y="238.473" width="12.04" height="1.312" fill="#f3ded5"/>
<rect x="95.02" y="239.734" width="12.04" height="1.312" fill="#f1f0ee"/>
<rect x="95.02" y="240.996" width="12.04" height="1.312" fill="#f1ebe7"/>
<rect x="95.02" y="242.258" width="12.04" height="1.312" fill="#f4cbba"/>
<rect x="95.02" y="243.520" width="12.04" height="1.312" fill="#f5c1ac"/>
<rect x="95.02" y="244.782" width="12.04" height="1.312" fill="#f4d0c1"/>
<rect x="95.02" y="246.044" width="12.04" height="1.312" fill="#f4cfbf"/>
<rect x="95.02" y="247.305" width="12.04" height="1.312" fill="#f3ddd4"/>
<rect x="95.02" y="248.567" width="12.04" height="1.312" fill="#f4c6b3"/>
<rect x="95.02" y="249.829" width="12.04" height="1.312" fill="#f4cdbc"/>
<rect x="95.02" y="251.091" width="12.04" height="1.312" fill="#f4d1c3"/>
<rect x="95.02" y="252.353" width="12.04" height="1.312" fill="#f5bfaa"/>
<rect x="95.02" y="253.615" width="12.04" height="1.312" fill="#f5c3af"/>
<rect x="95.02" y="254.876" width="12.04" height="1.312" fill="#f5c2ad"/>
<rect x="95.02" y="256.138" width="12.04" height="1.312" fill="#f4d0c1"/>
<rect x="107.06" y="22.700" width="12.04" height="1.312" fill="#e5eeea"/>
<rect x="107.06" y="23.962" width="12.04" height="1.312" fill="#deece7"/>
<rect x="107.06" y="25.224" width="12.04" height="1.312" fill="#f1ebe7"/>
<rect x="107.06" y="26.485" width="12.04" height="1.312" fill="#e7eeeb"/>
<rect x="107.06" y="27.747" width="12.04" height="1.312" fill="#dfece7"/>
<rect x="107.06" y="29.009" width="12.04" height="1.312" fill="#d1e8e1"/>
<rect x="107.06" y="30.271" width="12.04" height="1.312" fill="#9dd9cb"/>
<rect x="107.06" y="31.533" width="12.04" height="1.312" fill="#7bcfbc"/>
<rect x="107.06" y="32.795" width="12.04" height="1.312" fill="#9cd9ca"/>
<rect x="107.06" y="34.056" width="12.04" height="1.312" fill="#a7dccf"/>
<rect x="107.06" y="35.318" width="12.04" height="1.312" fill="#7dd0bd"/>
<rect x="107.06" y="36.580" width="12.04" height="1.312" fill="#6ccbb5"/>
<rect x="107.06" y="37.842" width="12.04" height="1.312" fill="#89d3c2"/>
<rect x="107.06" y="39.104" width="12.04" height="1.312" fill="#5ec7af"/>
<rect x="107.06" y="40.366" width="12.04" height="1.312" fill="#85d2c0"/>
<rect x="107.06" y="41.627" width="12.04" height="1.312" fill="#87d3c1"/>
<rect x="107.06" y="42.889" width="12.04" height="1.312" fill="#added1"/>
<rect x="107.06" y="44.151" width="12.04" height="1.312" fill="#a8dccf"/>
<rect x="107.06" y="45.413" width="12.04" height="1.312" fill="#93d6c6"/>
<rect x="107.06" y="46.675" width="12.04" height="1.312" fill="#9fdacc"/>
<rect x="107.06" y="47.937" width="12.04" height="1.312" fill="#8fd5c5"/>
<rect x="107.06" y="49.198" width="12.04" height="1.312" fill="#8fd5c4"/>
<rect x="107.06" y="50.460" width="12.04" height="1.312" fill="#96d7c7"/>
<rect x="107.06" y="51.722" width="12.04" height="1.312" fill="#a2dbcd"/>
<rect x="107.06" y="52.984" width="12.04" height="1.312" fill="#84d2c0"/>
<rect x="107.06" y="54.246" width="12.04" height="1.312" fill="#93d6c6"/>
<rect x="107.06" y="55.508" width="12.04" height="1.312" fill="#7fd1be"/>
<rect x="107.06" y="56.769" width="12.04" height="1.312" fill="#abddd1"/>
<rect x="107.06" y="58.031" width="12.04" height="1.312" fill="#86d3c1"/>
<rect x="107.06" y="59.293" width="12.04" height="1.312" fill="#95d7c7"/>
<rect x="107.06" y="60.555" width="12.04" height="1.312" fill="#8ed5c4"/>
<rect x="107.06" y="61.817" width="12.04" height="1.312" fill="#87d3c1"/>
<rect x="107.06" y="63.078" width="12.04" height="1.312" fill="#84d2c0"/>
<rect x="107.06" y="64.340" width="12.04" height="1.312" fill="#7bcfbc"/>
<rect x="107.06" y="65.602" width="12.04" height="1.312" fill="#97d7c8"/>
<rect x="107.06" y="66.864" width="12.04" height="1.312" fill="#7dd0bd"/>
<rect x="107.06" y="68.126" width="12.04" height="1.312" fill="#9bd8ca"/>
<rect x="107.06" y="69.388" width="12.04" height="1.312" fill="#3cbda0"/>
<rect x="107.06" y="70.649" width="12.04" height="1.312" fill="#2fba9b"/>
<rect x="107.06" y="71.911" width="12.04" height="1.312" fill="#31ba9c"/>
<rect x="107.06" y="73.173" width="12.04" height="1.312" fill="#1fb594"/>
<rect x="107.06" y="74.435" width="12.04" height="1.312" fill="#39bc9f"/>
<rect x="107.06" y="75.697" width="12.04" height="1.312" fill="#4dc2a8"/>
<rect x="107.06" y="76.959" width="12.04" height="1.312" fill="#74cdb9"/>
<rect x="107.06" y="78.220" width="12.04" height="1.312" fill="#1fb594"/>
<rect x="107.06" y="79.482" width="12.04" height="1.312" fill="#42bfa3"/>
<rect x="107.06" y="80.744" width="12.04" height="1.312" fill="#2db99a"/>
<rect x="107.06" y="82.006" width="12.04" height="1.312" fill="#27b797"/>
<rect x="107.06" y="83.268" width="12.04" height="1.312" fill="#32ba9c"/>
<rect x="107.06" y="84.530" width="12.04" height="1.312" fill="#7fd0be"/>
<rect x="107.06" y="85.791" width="12.04" height="1.312" fill="#6bcbb5"/>
<rect x="107.06" y="87.053" width="12.04" height="1.312" fill="#66c9b3"/>
<rect x="107.06" y="88.315" width="12.04" height="1.312" fill="#7dd0bd"/>
<rect x="107.06" y="89.577" width="12.04" height="1.312" fill="#4fc3a9"/>
<rect x="107.06" y="90.839" width="12.04" height="1.312" fill="#5cc7af"/>
<rect x="107.06" y="92.101" width="12.04" height="1.312" fill="#72cdb8"/>
<rect x="107.06" y="93.362" width="12.04" height="1.312" fill="#81d1be"/>
<rect x="107.06" y="94.624" width="12.04" height="1.312" fill="#5cc6ae"/>
<rect x="107.06" y="95.886" width="12.04" height="1.312" fill="#8bd4c3"/>
<rect x="107.06" y="97.148" width="12.04" height="1.312" fill="#a8dccf"/>
<rect x="107.06" y="98.410" width="12.04" height="1.312" fill="#acddd1"/>
<rect x="107.06" y="99.672" width="12.04" height="1.312" fill="#b9e1d7"/>
<rect x="107.06" y="100.933" width="12.04" height="1.312" fill="#a6dbce"/>
<rect x="107.06" y="102.195" width="12.04" height="1.312" fill="#f1f1ef"/>
<rect x="107.06" y="103.457" width="12.04" height="1.312" fill="#bfe3d9"/>
<rect x="107.06" y="104.719" width="12.04" height="1.312" fill="#cce7df"/>
<rect x="107.06" y="105.981" width="12.04" height="1.312" fill="#e5eeea"/>
<rect x="107.06" y="107.242" width="12.04" height="1.312" fill="#8ed5c4"/>
<rect x="107.06" y="108.504" width="12.04" height="1.312" fill="#f7a889"/>
<rect x="107.06" y="109.766" width="12.04" height="1.312" fill="#f7a484"/>
<rect x="107.06" y="111.028" width="12.04" height="1.312" fill="#f7a383"/>
<rect x="107.06" y="112.290" width="12.04" height="1.312" fill="#f89a76"/>
<rect x="107.06" y="113.552" width="12.04" height="1.312" fill="#f89975"/>
<rect x="107.06" y="114.813" width="12.04" height="1.312" fill="#f7a484"/>
<rect x="107.06" y="116.075" width="12.04" height="1.312" fill="#f89c79"/>
<rect x="107.06" y="117.337" width="12.04" height="1.312" fill="#f89e7c"/>
<rect x="107.06" y="118.599" width="12.04" height="1.312" fill="#f4cbba"/>
<rect x="107.06" y="119.861" width="12.04" height="1.312" fill="#f6b59b"/>
<rect x="107.06" y="121.123" width="12.04" height="1.312" fill="#f6b89f"/>
<rect x="107.06" y="122.384" width="12.04" height="1.312" fill="#f5bda6"/>
<rect x="107.06" y="123.646" width="12.04" height="1.312" fill="#f5c1ac"/>
<rect x="107.06" y="124.908" width="12.04" height="1.312" fill="#f5bfaa"/>
<rect x="107.06" y="126.170" width="12.04" height="1.312" fill="#f5c3af"/>
<rect x="107.06" y="127.432" width="12.04" height="1.312" fill="#f4c7b5"/>
<rect x="107.06" y="128.694" width="12.04" height="1.312" fill="#f4cfc0"/>
<rect x="107.06" y="129.955" width="12.04" height="1.312" fill="#f4ccbb"/>
<rect x="107.06" y="131.217" width="12.04" height="1.312" fill="#f5c3b0"/>
<rect x="107.06" y="132.479" width="12.04" height="1.312" fill="#e2ede9"/>
<rect x="107.06" y="133.741" width="12.04" height="1.312" fill="#f3dacf"/>
<rect x="107.06" y="135.003" width="12.04" height="1.312" fill="#eff0ee"/>
<rect x="107.06" y="136.265" width="12.04" height="1.312" fill="#f3ddd3"/>
<rect x="107.06" y="137.526" width="12.04" height="1.312" fill="#f3d7ca"/>
<rect x="107.06" y="138.788" width="12.04" height="1.312" fill="#f3dbd1"/>
<rect x="107.06" y="140.050" width="12.04" height="1.312" fill="#f2e4dd"/>
<rect x="107.06" y="141.312" width="12.04" height="1.312" fill="#f6b69e"/>
<rect x="107.06" y="142.574" width="12.04" height="1.312" fill="#f6b8a0"/>
<rect x="107.06" y="143.835" width="12.04" height="1.312" fill="#f7a88a"/>
<rect x="107.06" y="145.097" width="12.04" height="1.312" fill="#f6ae91"/>
<rect x="107.06" y="146.359" width="12.04" height="1.312" fill="#f6b69d"/>
<rect x="107.06" y="147.621" width="12.04" height="1.312" fill="#f6b8a0"/>
<rect x="107.06" y="148.883" width="12.04" height="1.312" fill="#f5c2ae"/>
<rect x="107.06" y="150.145" width="12.04" height="1.312" fill="#f5c1ac"/>
<rect x="107.06" y="151.406" width="12.04" height="1.312" fill="#f5bea8"/>
<rect x="107.06" y="152.668" width="12.04" height="1.312" fill="#f5c1ad"/>
<rect x="107.06" y="153.930" width="12.04" height="1.312" fill="#f5c3af"/>
<rect x="107.06" y="155.192" width="12.04" height="1.312" fill="#f5bda7"/>
<rect x="107.06" y="156.454" width="12.04" height="1.312" fill="#f5c1ac"/>
<rect x="107.06" y="157.716" width="12.04" height="1.312" fill="#f5c5b2"/>
<rect x="107.06" y="158.977" width="12.04" height="1.312" fill="#f4cdbc"/>
<rect x="107.06" y="160.239" width="12.04" height="1.312" fill="#f5c4b0"/>
<rect x="107.06" y="161.501" width="12.04" height="1.312" fill="#f3d7cc"/>
<rect x="107.06" y="162.763" width="12.04" height="1.312" fill="#f3d6c9"/>
<rect x="107.06" y="164.025" width="12.04" height="1.312" fill="#f3d5c8"/>
<rect x="107.06" y="165.287" width="12.04" height="1.312" fill="#f2e0d7"/>
<rect x="107.06" y="166.548" width="12.04" height="1.312" fill="#f4cdbe"/>
<rect x="107.06" y="167.810" width="12.04" height="1.312" fill="#f2eae5"/>
<rect x="107.06" y="169.072" width="12.04" height="1.312" fill="#f2e6e0"/>
<rect x="107.06" y="170.334" width="12.04" height="1.312" fill="#eff0ee"/>
<rect x="107.06" y="171.596" width="12.04" height="1.312" fill="#f3ded5"/>
<rect x="107.06" y="172.858" width="12.04" height="1.312" fill="#f4cfc0"/>
<rect x="107.06" y="174.119" width="12.04" height="1.312" fill="#f4cbba"/>
<rect x="107.06" y="175.381" width="12.04" height="1.312" fill="#f4d1c3"/>
<rect x="107.06" y="176.643" width="12.04" height="1.312" fill="#f4ccbc"/>
<rect x="107.06" y="177.905" width="12.04" height="1.312" fill="#f4d0c1"/>
<rect x="107.06" y="179.167" width="12.04" height="1.312" fill="#f3d6ca"/>
<rect x="107.06" y="180.428" width="12.04" height="1.312" fill="#f3d3c5"/>
<rect x="107.06" y="181.690" width="12.04" height="1.312" fill="#f4cebe"/>
<rect x="107.06" y="182.952" width="12.04" height="1.312" fill="#f4ccbc"/>
<rect x="107.06" y="184.214" width="12.04" height="1.312" fill="#f4d0c1"/>
<rect x="107.06" y="185.476" width="12.04" height="1.312" fill="#f4cfc0"/>
<rect x="107.06" y="186.738" width="12.04" height="1.312" fill="#f4c6b4"/>
<rect x="107.06" y="187.999" width="12.04" height="1.312" fill="#f3d2c4"/>
<rect x="107.06" y="189.261" width="12.04" height="1.312" fill="#f4cebe"/>
<rect x="107.06" y="190.523" width="12.04" height="1.312" fill="#f3dad0"/>
<rect x="107.06" y="191.785" width="12.04" height="1.312" fill="#f4c6b3"/>
<rect x="107.06" y="193.047" width="12.04" height="1.312" fill="#f4c8b6"/>
<rect x="107.06" y="194.309" width="12.04" height="1.312" fill="#f2e0d7"/>
<rect x="107.06" y="195.570" width="12.04" height="1.312" fill="#f4c7b4"/>
<rect x="107.06" y="196.832" width="12.04" height="1.312" fill="#f2e2da"/>
<rect x="107.06" y="198.094" width="12.04" height="1.312" fill="#f4c6b3"/>
<rect x="107.06" y="199.356" width="12.04" height="1.312" fill="#f4d0c1"/>
<rect x="107.06" y="200.618" width="12.04" height="1.312" fill="#f4cab9"/>
<rect x="107.06" y="201.880" width="12.04" height="1.312" fill="#f2e8e3"/>
<rect x="107.06" y="203.141" width="12.04" height="1.312" fill="#f2e3dc"/>
<rect x="107.06" y="204.403" width="12.04" height="1.312" fill="#f0f1ee"/>
<rect x="107.06" y="205.665" width="12.04" height="1.312" fill="#f4cdbe"/>
<rect x="107.06" y="206.927" width="12.04" height="1.312" fill="#f5bfaa"/>
<rect x="107.06" y="208.189" width="12.04" height="1.312" fill="#f5baa3"/>
<rect x="107.06" y="209.451" width="12.04" height="1.312" fill="#f4c9b7"/>
<rect x="107.06" y="210.712" width="12.04" height="1.312" fill="#f3dacf"/>
<rect x="107.06" y="211.974" width="12.04" height="1.312" fill="#f3dcd2"/>
<rect x="107.06" y="213.236" width="12.04" height="1.312" fill="#f4c7b5"/>
<rect x="107.06" y="214.498" width="12.04" height="1.312" fill="#f4d1c3"/>
<rect x="107.06" y="215.760" width="12.04" height="1.312" fill="#f4cfbf"/>
<rect x="107.06" y="217.022" width="12.04" height="1.312" fill="#f5c4b1"/>
<rect x="107.06" y="218.283" width="12.04" height="1.312" fill="#f6b79e"/>
<rect x="107.06" y="219.545" width="12.04" height="1.312" fill="#f4c5b2"/>
<rect x="107.06" y="220.807" width="12.04" height="1.312" fill="#f4cdbd"/>
<rect x="107.06" y="222.069" width="12.04" height="1.312" fill="#f4cab8"/>
<rect x="107.06" y="223.331" width="12.04" height="1.312" fill="#f4c7b5"/>
<rect x="107.06" y="224.592" width="12.04" height="1.312" fill="#f6b59c"/>
<rect x="107.06" y="225.854" width="12.04" height="1.312" fill="#f4c8b6"/>
<rect x="107.06" y="227.116" width="12.04" height="1.312" fill="#f5c5b1"/>
<rect x="107.06" y="228.378" width="12.04" height="1.312" fill="#f2e6e0"/>
<rect x="107.06" y="229.640" width="12.04" height="1.312" fill="#ebefec"/>
<rect x="107.06" y="230.902" width="12.04" height="1.312" fill="#f3d8cc"/>
<rect x="107.06" y="232.163" width="12.04" height="1.312" fill="#f2e7e1"/>
<rect x="107.06" y="233.425" width="12.04" height="1.312" fill="#f4c9b8"/>
<rect x="107.06" y="234.687" width="12.04" height="1.312" fill="#f4cab9"/>
<rect x="107.06" y="235.949" width="12.04" height="1.312" fill="#f4cbbb"/>
<rect x="107.06" y="237.211" width="12.04" height="1.312" fill="#f1ebe6"/>
<rect x="107.06" y="238.473" width="12.04" height="1.312" fill="#f4c7b5"/>
<rect x="107.06" y="239.734" width="12.04" height="1.312" fill="#f4d0c2"/>
<rect x="107.06" y="240.996" width="12.04" height="1.312" fill="#f6b8a0"/>
<rect x="107.06" y="242.258" width="12.04" height="1.312" fill="#f5c3af"/>
<rect x="107.06" y="243.520" width="12.04" height="1.312" fill="#f7a281"/>
<rect x="107.06" y="244.782" width="12.04" height="1.312" fill="#f7a07f"/>
<rect x="107.06" y="246.044" width="12.04" height="1.312" fill="#f89d7b"/>
<rect x="107.06" y="247.305" width="12.04" height="1.312" fill="#f6af94"/>
<rect x="107.06" y="248.567" width="12.04" height="1.312" fill="#f7a17f"/>
<rect x="107.06" y="249.829" width="12.04" height="1.312" fill="#f98d64"/>
<rect x="107.06" y="251.091" width="12.04" height="1.312" fill="#f98d64"/>
<rect x="107.06" y="252.353" width="12.04" height="1.312" fill="#f98d64"/>
<rect x="107.06" y="253.615" width="12.04" height="1.312" fill="#f98d64"/>
<rect x="107.06" y="254.876" width="12.04" height="1.312" fill="#f98d64"/>
<rect x="107.06" y="256.138" width="12.04" height="1.312" fill="#f98d64"/>
</g>
<line x1="34.84" y1="22.7" x2="34.84" y2="257.4" stroke="#eee" stroke-width="0.5" opacity="0.8"/>
<line x1="46.88" y1="22.7" x2="46.88" y2="257.4" stroke="#eee" stroke-width="0.5" opacity="0.8"/>
<line x1="58.91" y1="22.7" x2="58.91" y2="257.4" stroke="#eee" stroke-width="0.5" opacity="0.8"/>
<line x1="70.95" y1="22.7" x2="70.95" y2="257.4" stroke="#eee" stroke-width="0.5" opacity="0.8"/>
<line x1="82.99" y1="22.7" x2="82.99" y2="257.4" stroke="#eee" stroke-width="0.5" opacity="0.8"/>
<line x1="95.02" y1="22.7" x2="95.02" y2="257.4" stroke="#eee" stroke-width="0.5" opacity="0.8"/>
<line x1="107.06" y1="22.7" x2="107.06" y2="257.4" stroke="#eee" stroke-width="0.5" opacity="0.8"/>
<defs><linearGradient id="hb" x1="0" y1="0" x2="0" y2="1"><stop offset="0" stop-color="#f98d64"/><stop offset="0.5" stop-color="#f3f3f2"/><stop offset="1" stop-color="#1fb594"/></linearGradient></defs>
<rect x="121" y="22.9" width="3.3" height="53" fill="url(#hb)"/>
<text x="127.40" y="25.40" font-size="4.8" font-weight="bold" text-anchor="start" fill="#111" stroke="#111" stroke-width="0.15">2</text>
<text x="127.40" y="38.20" font-size="4.8" font-weight="bold" text-anchor="start" fill="#111" stroke="#111" stroke-width="0.15">1</text>
<text x="127.40" y="51.30" font-size="4.8" font-weight="bold" text-anchor="start" fill="#111" stroke="#111" stroke-width="0.15">0</text>
<text x="125.70" y="64.50" font-size="4.8" font-weight="bold" text-anchor="start" fill="#111" stroke="#111" stroke-width="0.15">-1</text>
<text x="125.70" y="77.60" font-size="4.8" font-weight="bold" text-anchor="start" fill="#111" stroke="#111" stroke-width="0.15">-2</text>
<text font-size="5.8" font-weight="bold" text-anchor="start" fill="#111" transform="translate(26.30 259.90) rotate(90) scale(0.885 1)">srm_bks1</text>
<text font-size="5.8" font-weight="bold" text-anchor="start" fill="#111" transform="translate(38.45 259.90) rotate(90) scale(0.885 1)">srm_bks2</text>
<text font-size="5.8" font-weight="bold" text-anchor="start" fill="#111" transform="translate(50.60 259.90) rotate(90) scale(0.885 1)">srm_bks3</text>
<text font-size="5.8" font-weight="bold" text-anchor="start" fill="#111" transform="translate(62.75 259.90) rotate(90) scale(0.885 1)">srm_bks4</text>
<text font-size="5.8" font-weight="bold" text-anchor="start" fill="#111" transform="translate(74.90 259.90) rotate(90) scale(0.885 1)">srm_db1</text>
<text font-size="5.8" font-weight="bold" text-anchor="start" fill="#111" transform="translate(87.05 259.90) rotate(90) scale(0.885 1)">srm_db2</text>
<text font-size="5.8" font-weight="bold" text-anchor="start" fill="#111" transform="translate(99.20 259.90) rotate(90) scale(0.885 1)">srm_db3</text>
<text font-size="5.8" font-weight="bold" text-anchor="start" fill="#111" transform="translate(111.35 259.90) rotate(90) scale(0.885 1)">srm_db4</text>
<g fill="none" stroke="#222" stroke-width="0.42">
<path d="M22.60 23.33H20.62V24.59H22.60" />
<path d="M22.60 25.85H20.71V27.12H22.60" />
<path d="M20.62 23.96H19.29V26.49H20.71" />
<path d="M22.60 29.64H20.71V30.90H22.60" />
<path d="M20.71 30.27H20.03V32.16H22.60" />
<path d="M22.60 28.38H19.44V31.22H20.03" />
<path d="M19.29 25.22H17.68V29.80H19.44" />
<path d="M22.60 34.69H20.75V35.95H22.60" />
<path d="M22.60 37.21H20.63V38.47H22.60" />
<path d="M20.75 35.32H19.46V37.84H20.63" />
<path d="M22.60 39.73H20.61V41.00H22.60" />
<path d="M19.46 36.58H18.65V40.37H20.61" />
<path d="M22.60 33.43H17.97V38.47H18.65" />
<path d="M22.60 44.78H20.79V46.04H22.60" />
<path d="M22.60 43.52H20.06V45.41H20.79" />
<path d="M22.60 42.26H19.32V44.47H20.06" />
<path d="M22.60 47.31H20.65V48.57H22.60" />
<path d="M20.65 47.94H20.09V49.83H22.60" />
<path d="M22.60 52.35H20.69V53.61H22.60" />
<path d="M22.60 51.09H19.91V52.98H20.69" />
<path d="M20.09 48.88H18.38V52.04H19.91" />
<path d="M22.60 54.88H20.67V56.14H22.60" />
<path d="M22.60 57.40H20.74V58.66H22.60" />
<path d="M20.67 55.51H19.30V58.03H20.74" />
<path d="M18.38 50.46H16.70V56.77H19.30" />
<path d="M19.32 43.36H15.86V53.61H16.70" />
<path d="M17.97 35.95H14.00V48.49H15.86" />
<path d="M17.68 27.51H13.43V42.22H14.00" />
<path d="M22.60 61.19H20.69V62.45H22.60" />
<path d="M22.60 59.92H19.82V61.82H20.69" />
<path d="M22.60 63.71H20.75V64.97H22.60" />
<path d="M22.60 67.49H20.63V68.76H22.60" />
<path d="M22.60 66.23H20.00V68.13H20.63" />
<path d="M20.75 64.34H18.68V67.18H20.00" />
<path d="M19.82 60.87H18.00V65.76H18.68" />
<path d="M22.60 72.54H20.76V73.80H22.60" />
<path d="M22.60 71.28H19.87V73.17H20.76" />
<path d="M22.60 70.02H19.37V72.23H19.87" />
<path d="M22.60 75.07H20.77V76.33H22.60" />
<path d="M19.37 71.12H18.16V75.70H20.77" />
<path d="M18.00 63.32H16.11V73.41H18.16" />
<path d="M22.60 78.85H20.71V80.11H22.60" />
<path d="M22.60 77.59H20.00V79.48H20.71" />
<path d="M22.60 81.38H20.70V82.64H22.60" />
<path d="M22.60 83.90H20.64V85.16H22.60" />
<path d="M20.70 82.01H19.29V84.53H20.64" />
<path d="M20.00 78.54H17.80V83.27H19.29" />
<path d="M16.11 68.36H14.93V80.90H17.80" />
<path d="M22.60 86.42H20.72V87.68H22.60" />
<path d="M22.60 91.47H20.78V92.73H22.60" />
<path d="M22.60 90.21H20.10V92.10H20.78" />
<path d="M22.60 88.95H19.46V91.15H20.10" />
<path d="M20.72 87.05H18.44V90.05H19.46" />
<path d="M22.60 96.52H20.67V97.78H22.60" />
<path d="M22.60 95.26H19.86V97.15H20.67" />
<path d="M22.60 93.99H19.36V96.20H19.86" />
<path d="M22.60 99.04H20.72V100.30H22.60" />
<path d="M22.60 102.83H20.65V104.09H22.60" />
<path d="M22.60 101.56H20.01V103.46H20.65" />
<path d="M20.72 99.67H18.70V102.51H20.01" />
<path d="M22.60 106.61H20.63V107.87H22.60" />
<path d="M22.60 105.35H20.02V107.24H20.63" />
<path d="M18.70 101.09H18.02V106.30H20.02" />
<path d="M19.36 95.10H16.31V103.69H18.02" />
<path d="M18.44 88.55H15.08V99.40H16.31" />
<path d="M14.93 74.63H13.34V93.97H15.08" />
<path d="M13.43 34.86H9.90V84.30H13.34" />
<path d="M22.60 111.66H20.84V112.92H22.60" />
<path d="M22.60 110.40H20.32V112.29H20.84" />
<path d="M22.60 109.14H19.82V111.34H20.32" />
<path d="M22.60 116.71H20.85V117.97H22.60" />
<path d="M22.60 115.44H20.30V117.34H20.85" />
<path d="M22.60 114.18H19.78V116.39H20.30" />
<path d="M22.60 119.23H20.78V120.49H22.60" />
<path d="M19.78 115.29H18.92V119.86H20.78" />
<path d="M19.82 110.24H17.87V117.57H18.92" />
<path d="M22.60 121.75H20.79V123.02H22.60" />
<path d="M22.60 125.54H20.91V126.80H22.60" />
<path d="M22.60 124.28H20.21V126.17H20.91" />
<path d="M20.79 122.38H19.43V125.22H20.21" />
<path d="M17.87 113.91H16.84V123.80H19.43" />
<path d="M22.60 128.06H20.88V129.32H22.60" />
<path d="M22.60 130.59H20.79V131.85H22.60" />
<path d="M20.88 128.69H19.71V131.22H20.79" />
<path d="M22.60 134.37H20.83V135.63H22.60" />
<path d="M22.60 133.11H20.33V135.00H20.83" />
<path d="M19.71 129.96H18.74V134.06H20.33" />
<path d="M16.84 118.86H16.34V132.01H18.74" />
<path d="M22.60 139.42H20.79V140.68H22.60" />
<path d="M22.60 138.16H20.26V140.05H20.79" />
<path d="M22.60 136.90H19.74V139.10H20.26" />
<path d="M22.60 141.94H20.84V143.20H22.60" />
<path d="M22.60 144.47H20.77V145.73H22.60" />
<path d="M20.84 142.57H19.97V145.10H20.77" />
<path d="M19.74 138.00H18.51V143.84H19.97" />
<path d="M22.60 148.25H20.85V149.51H22.60" />
<path d="M22.60 146.99H20.27V148.88H20.85" />
<path d="M22.60 152.04H20.88V153.30H22.60" />
<path d="M22.60 154.56H20.91V155.82H22.60" />
<path d="M20.88 152.67H19.69V155.19H20.91" />
<path d="M22.60 150.78H19.19V153.93H19.69" />
<path d="M20.27 147.94H18.69V152.35H19.19" />
<path d="M22.60 157.08H20.86V158.35H22.60" />
<path d="M22.60 159.61H20.83V160.87H22.60" />
<path d="M22.60 162.13H20.87V163.39H22.60" />
<path d="M20.83 160.24H19.95V162.76H20.87" />
<path d="M20.86 157.72H19.09V161.50H19.95" />
<path d="M22.60 165.92H20.80V167.18H22.60" />
<path d="M22.60 164.66H20.30V166.55H20.80" />
<path d="M22.60 170.96H20.78V172.23H22.60" />
<path d="M22.60 169.70H20.26V171.60H20.78" />
<path d="M22.60 168.44H19.73V170.65H20.26" />
<path d="M20.30 165.60H18.84V169.55H19.73" />
<path d="M19.09 159.61H17.56V167.57H18.84" />
<path d="M18.69 150.14H16.59V163.59H17.56" />
<path d="M18.51 140.92H15.13V156.87H16.59" />
<path d="M16.34 125.43H13.70V148.89H15.13" />
<path d="M22.60 174.75H20.83V176.01H22.60" />
<path d="M22.60 173.49H20.33V175.38H20.83" />
<path d="M22.60 177.27H20.84V178.54H22.60" />
<path d="M20.33 174.43H19.65V177.90H20.84" />
<path d="M22.60 179.80H20.89V181.06H22.60" />
<path d="M22.60 182.32H20.90V183.58H22.60" />
<path d="M20.89 180.43H19.75V182.95H20.90" />
<path d="M19.65 176.17H18.63V181.69H19.75" />
<path d="M22.60 184.84H20.82V186.11H22.60" />
<path d="M22.60 187.37H20.78V188.63H22.60" />
<path d="M20.82 185.48H19.63V188.00H20.78" />
<path d="M22.60 194.94H20.89V196.20H22.60" />
<path d="M22.60 193.68H20.34V195.57H20.89" />
<path d="M22.60 192.42H19.84V194.62H20.34" />
<path d="M22.60 191.15H19.24V193.52H19.84" />
<path d="M22.60 189.89H18.74V192.34H19.24" />
<path d="M22.60 198.72H20.77V199.99H22.60" />
<path d="M22.60 197.46H20.27V199.36H20.77" />
<path d="M22.60 201.25H20.91V202.51H22.60" />
<path d="M20.27 198.41H19.52V201.88H20.91" />
<path d="M18.74 191.11H18.14V200.14H19.52" />
<path d="M19.63 186.74H17.56V195.63H18.14" />
<path d="M22.60 205.03H20.85V206.30H22.60" />
<path d="M22.60 203.77H20.27V205.67H20.85" />
<path d="M22.60 207.56H20.90V208.82H22.60" />
<path d="M22.60 210.08H20.90V211.34H22.60" />
<path d="M20.90 208.19H19.85V210.71H20.90" />
<path d="M20.27 204.72H18.67V209.45H19.85" />
<path d="M17.56 191.18H16.56V207.08H18.67" />
<path d="M18.63 178.93H15.35V199.13H16.56" />
<path d="M22.60 212.61H20.79V213.87H22.60" />
<path d="M20.79 213.24H20.29V215.13H22.60" />
<path d="M22.60 217.65H20.90V218.91H22.60" />
<path d="M22.60 216.39H20.27V218.28H20.90" />
<path d="M20.29 214.18H19.08V217.34H20.27" />
<path d="M22.60 221.44H20.91V222.70H22.60" />
<path d="M22.60 220.18H20.37V222.07H20.91" />
<path d="M22.60 225.22H20.91V226.49H22.60" />
<path d="M22.60 223.96H20.15V225.85H20.91" />
<path d="M22.60 230.27H20.80V231.53H22.60" />
<path d="M22.60 229.01H20.21V230.90H20.80" />
<path d="M22.60 227.75H19.71V229.96H20.21" />
<path d="M20.15 224.91H18.44V228.85H19.71" />
<path d="M20.37 221.12H17.66V226.88H18.44" />
<path d="M19.08 215.76H17.12V224.00H17.66" />
<path d="M22.60 234.06H20.80V235.32H22.60" />
<path d="M22.60 232.79H20.30V234.69H20.80" />
<path d="M22.60 236.58H20.84V237.84H22.60" />
<path d="M22.60 240.37H20.83V241.63H22.60" />
<path d="M22.60 239.10H20.24V241.00H20.83" />
<path d="M20.84 237.21H19.44V240.05H20.24" />
<path d="M20.30 233.74H18.84V238.63H19.44" />
<path d="M17.12 219.88H15.88V236.19H18.84" />
<path d="M22.60 242.89H20.77V244.15H22.60" />
<path d="M22.60 246.67H20.84V247.94H22.60" />
<path d="M22.60 245.41H20.18V247.31H20.84" />
<path d="M20.77 243.52H19.60V246.36H20.18" />
<path d="M22.60 249.20H20.90V250.46H22.60" />
<path d="M22.60 251.72H20.85V252.98H22.60" />
<path d="M22.60 255.51H20.86V256.77H22.60" />
<path d="M22.60 254.25H20.28V256.14H20.86" />
<path d="M20.85 252.35H19.41V255.19H20.28" />
<path d="M20.90 249.83H18.91V253.77H19.41" />
<path d="M19.60 244.94H17.74V251.80H18.91" />
<path d="M15.88 228.03H13.96V248.37H17.74" />
<path d="M15.35 189.03H12.21V238.20H13.96" />
<path d="M13.70 137.16H10.50V213.62H12.21" />
<path d="M9.90 68.2H4.3V166.5H10.50"/>
</g>
<path d="M146.8 30V136.5H226" fill="none" stroke="#888" stroke-width="0.6"/>
<line x1="145" x2="146.4" y1="131.0" y2="131.0" stroke="#666" stroke-width="0.5"/>
<text font-size="4.7" font-weight="bold" text-anchor="end" fill="#111" transform="translate(143.50 132.60) scale(0.9 1)">0</text>
<line x1="145" x2="146.4" y1="103.0" y2="103.0" stroke="#666" stroke-width="0.5"/>
<text font-size="4.7" font-weight="bold" text-anchor="end" fill="#111" transform="translate(143.50 104.60) scale(0.9 1)">2</text>
<line x1="145" x2="146.4" y1="75.0" y2="75.0" stroke="#666" stroke-width="0.5"/>
<text font-size="4.7" font-weight="bold" text-anchor="end" fill="#111" transform="translate(143.50 76.60) scale(0.9 1)">4</text>
<line x1="145" x2="146.4" y1="47.0" y2="47.0" stroke="#666" stroke-width="0.5"/>
<text font-size="4.7" font-weight="bold" text-anchor="end" fill="#111" transform="translate(143.50 48.60) scale(0.9 1)">6</text>
<line x1="165.4" x2="165.4" y1="136.5" y2="138" stroke="#666" stroke-width="0.5"/>
<text font-size="4.7" font-weight="bold" text-anchor="middle" fill="#111" transform="translate(166.00 143.30) scale(0.9 1)">-2.5</text>
<line x1="186.9" x2="186.9" y1="136.5" y2="138" stroke="#666" stroke-width="0.5"/>
<text font-size="4.7" font-weight="bold" text-anchor="middle" fill="#111" transform="translate(186.90 143.30) scale(0.9 1)">0</text>
<line x1="208.4" x2="208.4" y1="136.5" y2="138" stroke="#666" stroke-width="0.5"/>
<text font-size="4.7" font-weight="bold" text-anchor="middle" fill="#111" transform="translate(208.40 143.30) scale(0.9 1)">2.5</text>
<text font-size="5.7" font-weight="bold" text-anchor="middle" fill="#111" transform="translate(191.20 150.30) scale(0.875 1)">log2 srm_db vs srm_bks</text>
<text font-size="5.1" font-weight="bold" text-anchor="middle" fill="#111" transform="translate(139.20 85.00) rotate(-90) scale(0.88 1)">-log10 P value</text>
<text font-size="5.5" font-weight="bold" text-anchor="start" fill="#111" transform="translate(216.80 69.90) scale(0.9 1)">Regulated Type</text>
<text font-size="4.5" font-weight="bold" text-anchor="start" fill="#111" transform="translate(239.50 77.70) scale(0.92 1)">Down</text>
<text font-size="4.5" font-weight="bold" text-anchor="start" fill="#111" transform="translate(239.50 84.50) scale(0.92 1)">None</text>
<text font-size="4.5" font-weight="bold" text-anchor="start" fill="#111" transform="translate(239.50 90.60) scale(0.92 1)">Up</text>
<circle cx="189.1" cy="124.1" r="0.55" fill="#c6c6c6"/>
<circle cx="195.6" cy="116.2" r="0.55" fill="#c6c6c6"/>
<circle cx="187.1" cy="130.7" r="0.55" fill="#c6c6c6"/>
<circle cx="187.1" cy="114.6" r="0.55" fill="#c6c6c6"/>
<circle cx="188.3" cy="110.1" r="0.55" fill="#c6c6c6"/>
<circle cx="192.7" cy="119.9" r="0.55" fill="#c6c6c6"/>
<circle cx="191.9" cy="117.4" r="0.55" fill="#c6c6c6"/>
<circle cx="184.0" cy="126.8" r="0.55" fill="#c6c6c6"/>
<circle cx="182.5" cy="119.8" r="0.55" fill="#c6c6c6"/>
<circle cx="181.7" cy="115.4" r="0.55" fill="#c6c6c6"/>
<circle cx="187.6" cy="116.5" r="0.55" fill="#c6c6c6"/>
<circle cx="186.8" cy="120.9" r="0.55" fill="#c6c6c6"/>
<circle cx="188.1" cy="113.6" r="0.55" fill="#c6c6c6"/>
<circle cx="189.9" cy="121.7" r="0.55" fill="#c6c6c6"/>
<circle cx="186.5" cy="117.7" r="0.55" fill="#c6c6c6"/>
<circle cx="182.1" cy="121.0" r="0.55" fill="#c6c6c6"/>
<circle cx="190.4" cy="126.4" r="0.55" fill="#c6c6c6"/>
<circle cx="186.8" cy="128.5" r="0.55" fill="#c6c6c6"/>
<circle cx="194.4" cy="116.4" r="0.55" fill="#c6c6c6"/>
<circle cx="187.3" cy="126.8" r="0.55" fill="#c6c6c6"/>
<circle cx="183.9" cy="123.9" r="0.55" fill="#c6c6c6"/>
<circle cx="188.3" cy="120.3" r="0.55" fill="#c6c6c6"/>
<circle cx="180.2" cy="115.9" r="0.55" fill="#c6c6c6"/>
<circle cx="183.5" cy="111.7" r="0.55" fill="#c6c6c6"/>
<circle cx="199.2" cy="113.7" r="0.55" fill="#c6c6c6"/>
<circle cx="177.8" cy="120.9" r="0.55" fill="#c6c6c6"/>
<circle cx="179.7" cy="117.5" r="0.55" fill="#c6c6c6"/>
<circle cx="187.7" cy="114.6" r="0.55" fill="#c6c6c6"/>
<circle cx="185.3" cy="120.5" r="0.55" fill="#c6c6c6"/>
<circle cx="188.1" cy="113.9" r="0.55" fill="#c6c6c6"/>
<circle cx="197.1" cy="117.6" r="0.55" fill="#c6c6c6"/>
<circle cx="193.9" cy="123.0" r="0.55" fill="#c6c6c6"/>
<circle cx="186.2" cy="113.5" r="0.55" fill="#c6c6c6"/>
<circle cx="197.8" cy="119.9" r="0.55" fill="#c6c6c6"/>
<circle cx="187.3" cy="117.6" r="0.55" fill="#c6c6c6"/>
<circle cx="187.5" cy="126.1" r="0.55" fill="#c6c6c6"/>
<circle cx="200.1" cy="114.7" r="0.55" fill="#c6c6c6"/>
<circle cx="187.8" cy="120.3" r="0.55" fill="#c6c6c6"/>
<circle cx="190.7" cy="127.1" r="0.55" fill="#c6c6c6"/>
<circle cx="190.4" cy="118.7" r="0.55" fill="#c6c6c6"/>
<circle cx="194.0" cy="122.8" r="0.55" fill="#c6c6c6"/>
<circle cx="199.4" cy="116.7" r="0.55" fill="#c6c6c6"/>
<circle cx="192.9" cy="119.9" r="0.55" fill="#c6c6c6"/>
<circle cx="185.7" cy="121.8" r="0.55" fill="#c6c6c6"/>
<circle cx="184.6" cy="120.4" r="0.55" fill="#c6c6c6"/>
<circle cx="183.6" cy="118.6" r="0.55" fill="#c6c6c6"/>
<circle cx="194.8" cy="119.0" r="0.55" fill="#c6c6c6"/>
<circle cx="186.3" cy="117.5" r="0.55" fill="#c6c6c6"/>
<circle cx="188.9" cy="110.6" r="0.55" fill="#c6c6c6"/>
<circle cx="193.3" cy="118.7" r="0.55" fill="#c6c6c6"/>
<circle cx="187.8" cy="124.2" r="0.55" fill="#c6c6c6"/>
<circle cx="188.3" cy="120.4" r="0.55" fill="#c6c6c6"/>
<circle cx="196.2" cy="115.5" r="0.55" fill="#c6c6c6"/>
<circle cx="189.5" cy="128.0" r="0.55" fill="#c6c6c6"/>
<circle cx="184.8" cy="117.9" r="0.55" fill="#c6c6c6"/>
<circle cx="184.7" cy="124.4" r="0.55" fill="#c6c6c6"/>
<circle cx="186.3" cy="130.3" r="0.55" fill="#c6c6c6"/>
<circle cx="181.4" cy="125.2" r="0.55" fill="#c6c6c6"/>
<circle cx="183.2" cy="124.8" r="0.55" fill="#c6c6c6"/>
<circle cx="178.3" cy="118.2" r="0.55" fill="#c6c6c6"/>
<circle cx="185.0" cy="124.5" r="0.55" fill="#c6c6c6"/>
<circle cx="186.1" cy="126.2" r="0.55" fill="#c6c6c6"/>
<circle cx="184.3" cy="124.9" r="0.55" fill="#c6c6c6"/>
<circle cx="194.1" cy="120.2" r="0.55" fill="#c6c6c6"/>
<circle cx="188.8" cy="120.4" r="0.55" fill="#c6c6c6"/>
<circle cx="187.3" cy="117.2" r="0.55" fill="#c6c6c6"/>
<circle cx="187.1" cy="115.5" r="0.55" fill="#c6c6c6"/>
<circle cx="192.3" cy="123.5" r="0.55" fill="#c6c6c6"/>
<circle cx="190.9" cy="116.7" r="0.55" fill="#c6c6c6"/>
<circle cx="194.1" cy="123.2" r="0.55" fill="#c6c6c6"/>
<circle cx="186.5" cy="114.6" r="0.55" fill="#c6c6c6"/>
<circle cx="193.1" cy="120.1" r="0.55" fill="#c6c6c6"/>
<circle cx="190.7" cy="123.4" r="0.55" fill="#c6c6c6"/>
<circle cx="186.1" cy="119.2" r="0.55" fill="#c6c6c6"/>
<circle cx="193.2" cy="122.9" r="0.55" fill="#c6c6c6"/>
<circle cx="185.1" cy="128.2" r="0.55" fill="#c6c6c6"/>
<circle cx="185.4" cy="115.1" r="0.55" fill="#c6c6c6"/>
<circle cx="187.9" cy="114.4" r="0.55" fill="#c6c6c6"/>
<circle cx="190.4" cy="114.5" r="0.55" fill="#c6c6c6"/>
<circle cx="192.7" cy="117.0" r="0.55" fill="#c6c6c6"/>
<circle cx="190.4" cy="126.5" r="0.55" fill="#c6c6c6"/>
<circle cx="184.5" cy="125.2" r="0.55" fill="#c6c6c6"/>
<circle cx="189.8" cy="124.0" r="0.55" fill="#c6c6c6"/>
<circle cx="184.9" cy="123.4" r="0.55" fill="#c6c6c6"/>
<circle cx="184.3" cy="112.0" r="0.55" fill="#c6c6c6"/>
<circle cx="191.3" cy="125.3" r="0.55" fill="#c6c6c6"/>
<circle cx="189.0" cy="110.3" r="0.55" fill="#c6c6c6"/>
<circle cx="194.1" cy="122.1" r="0.55" fill="#c6c6c6"/>
<circle cx="188.3" cy="118.6" r="0.55" fill="#c6c6c6"/>
<circle cx="180.0" cy="118.4" r="0.55" fill="#c6c6c6"/>
<circle cx="187.3" cy="128.0" r="0.55" fill="#c6c6c6"/>
<circle cx="193.5" cy="124.0" r="0.55" fill="#c6c6c6"/>
<circle cx="185.2" cy="114.9" r="0.55" fill="#c6c6c6"/>
<circle cx="186.3" cy="130.1" r="0.55" fill="#c6c6c6"/>
<circle cx="184.4" cy="112.6" r="0.55" fill="#c6c6c6"/>
<circle cx="194.5" cy="123.3" r="0.55" fill="#c6c6c6"/>
<circle cx="184.9" cy="116.4" r="0.55" fill="#c6c6c6"/>
<circle cx="190.8" cy="117.5" r="0.55" fill="#c6c6c6"/>
<circle cx="192.7" cy="119.0" r="0.55" fill="#c6c6c6"/>
<circle cx="179.5" cy="116.7" r="0.55" fill="#c6c6c6"/>
<circle cx="195.4" cy="119.7" r="0.55" fill="#c6c6c6"/>
<circle cx="188.4" cy="122.6" r="0.55" fill="#c6c6c6"/>
<circle cx="186.5" cy="122.0" r="0.55" fill="#c6c6c6"/>
<circle cx="191.6" cy="114.0" r="0.55" fill="#c6c6c6"/>
<circle cx="188.9" cy="119.1" r="0.55" fill="#c6c6c6"/>
<circle cx="188.0" cy="113.7" r="0.55" fill="#c6c6c6"/>
<circle cx="192.8" cy="122.6" r="0.55" fill="#c6c6c6"/>
<circle cx="189.9" cy="120.6" r="0.55" fill="#c6c6c6"/>
<circle cx="183.9" cy="115.4" r="0.55" fill="#c6c6c6"/>
<circle cx="191.5" cy="126.3" r="0.55" fill="#c6c6c6"/>
<circle cx="191.3" cy="125.6" r="0.55" fill="#c6c6c6"/>
<circle cx="189.6" cy="127.9" r="0.55" fill="#c6c6c6"/>
<circle cx="199.4" cy="118.1" r="0.55" fill="#c6c6c6"/>
<circle cx="186.9" cy="123.0" r="0.55" fill="#c6c6c6"/>
<circle cx="186.7" cy="126.0" r="0.55" fill="#c6c6c6"/>
<circle cx="193.0" cy="116.8" r="0.55" fill="#c6c6c6"/>
<circle cx="184.7" cy="126.9" r="0.55" fill="#c6c6c6"/>
<circle cx="186.1" cy="125.9" r="0.55" fill="#c6c6c6"/>
<circle cx="193.6" cy="115.3" r="0.55" fill="#c6c6c6"/>
<circle cx="193.6" cy="120.6" r="0.55" fill="#c6c6c6"/>
<circle cx="191.7" cy="122.1" r="0.55" fill="#c6c6c6"/>
<circle cx="190.3" cy="118.9" r="0.55" fill="#c6c6c6"/>
<circle cx="189.7" cy="114.9" r="0.55" fill="#c6c6c6"/>
<circle cx="184.1" cy="118.8" r="0.55" fill="#c6c6c6"/>
<circle cx="184.4" cy="121.6" r="0.55" fill="#c6c6c6"/>
<circle cx="190.8" cy="116.6" r="0.55" fill="#c6c6c6"/>
<circle cx="182.4" cy="120.9" r="0.55" fill="#c6c6c6"/>
<circle cx="192.7" cy="123.0" r="0.55" fill="#c6c6c6"/>
<circle cx="181.7" cy="125.4" r="0.55" fill="#c6c6c6"/>
<circle cx="186.7" cy="124.5" r="0.55" fill="#c6c6c6"/>
<circle cx="193.7" cy="120.5" r="0.55" fill="#c6c6c6"/>
<circle cx="196.5" cy="119.6" r="0.55" fill="#c6c6c6"/>
<circle cx="183.6" cy="121.7" r="0.55" fill="#c6c6c6"/>
<circle cx="195.9" cy="115.2" r="0.55" fill="#c6c6c6"/>
<circle cx="190.8" cy="116.0" r="0.55" fill="#c6c6c6"/>
<circle cx="182.0" cy="118.9" r="0.55" fill="#c6c6c6"/>
<circle cx="194.5" cy="123.3" r="0.55" fill="#c6c6c6"/>
<circle cx="193.1" cy="123.8" r="0.55" fill="#c6c6c6"/>
<circle cx="188.8" cy="128.4" r="0.55" fill="#c6c6c6"/>
<circle cx="186.9" cy="130.2" r="0.55" fill="#c6c6c6"/>
<circle cx="191.1" cy="126.6" r="0.55" fill="#c6c6c6"/>
<circle cx="186.3" cy="114.4" r="0.55" fill="#c6c6c6"/>
<circle cx="196.4" cy="114.9" r="0.55" fill="#c6c6c6"/>
<circle cx="195.6" cy="113.3" r="0.55" fill="#c6c6c6"/>
<circle cx="186.5" cy="130.4" r="0.55" fill="#c6c6c6"/>
<circle cx="189.3" cy="117.0" r="0.55" fill="#c6c6c6"/>
<circle cx="183.1" cy="126.4" r="0.55" fill="#c6c6c6"/>
<circle cx="188.5" cy="129.0" r="0.55" fill="#c6c6c6"/>
<circle cx="178.1" cy="119.7" r="0.55" fill="#c6c6c6"/>
<circle cx="180.8" cy="122.8" r="0.55" fill="#c6c6c6"/>
<circle cx="185.0" cy="127.4" r="0.55" fill="#c6c6c6"/>
<circle cx="188.6" cy="116.3" r="0.55" fill="#c6c6c6"/>
<circle cx="196.3" cy="118.4" r="0.55" fill="#c6c6c6"/>
<circle cx="185.3" cy="124.9" r="0.55" fill="#c6c6c6"/>
<circle cx="192.7" cy="120.7" r="0.55" fill="#c6c6c6"/>
<circle cx="191.9" cy="121.4" r="0.55" fill="#c6c6c6"/>
<circle cx="188.5" cy="117.8" r="0.55" fill="#c6c6c6"/>
<circle cx="185.6" cy="116.4" r="0.55" fill="#c6c6c6"/>
<circle cx="185.8" cy="122.7" r="0.55" fill="#c6c6c6"/>
<circle cx="183.6" cy="118.1" r="0.55" fill="#c6c6c6"/>
<circle cx="191.1" cy="126.1" r="0.55" fill="#c6c6c6"/>
<circle cx="186.7" cy="116.9" r="0.55" fill="#c6c6c6"/>
<circle cx="194.4" cy="119.1" r="0.55" fill="#c6c6c6"/>
<circle cx="185.6" cy="117.3" r="0.55" fill="#c6c6c6"/>
<circle cx="190.3" cy="125.7" r="0.55" fill="#c6c6c6"/>
<circle cx="192.6" cy="118.0" r="0.55" fill="#c6c6c6"/>
<circle cx="187.0" cy="118.5" r="0.55" fill="#c6c6c6"/>
<circle cx="186.3" cy="124.5" r="0.55" fill="#c6c6c6"/>
<circle cx="185.3" cy="127.1" r="0.55" fill="#c6c6c6"/>
<circle cx="186.5" cy="130.5" r="0.55" fill="#c6c6c6"/>
<circle cx="184.0" cy="126.5" r="0.55" fill="#c6c6c6"/>
<circle cx="189.3" cy="124.1" r="0.55" fill="#c6c6c6"/>
<circle cx="184.9" cy="127.8" r="0.55" fill="#c6c6c6"/>
<circle cx="182.4" cy="120.8" r="0.55" fill="#c6c6c6"/>
<circle cx="189.5" cy="114.1" r="0.55" fill="#c6c6c6"/>
<circle cx="191.7" cy="120.4" r="0.55" fill="#c6c6c6"/>
<circle cx="183.2" cy="116.4" r="0.55" fill="#c6c6c6"/>
<circle cx="192.1" cy="115.5" r="0.55" fill="#c6c6c6"/>
<circle cx="184.8" cy="111.0" r="0.55" fill="#c6c6c6"/>
<circle cx="185.1" cy="126.7" r="0.55" fill="#c6c6c6"/>
<circle cx="189.4" cy="116.9" r="0.55" fill="#c6c6c6"/>
<circle cx="183.3" cy="113.4" r="0.55" fill="#c6c6c6"/>
<circle cx="178.5" cy="120.8" r="0.55" fill="#c6c6c6"/>
<circle cx="190.2" cy="126.0" r="0.55" fill="#c6c6c6"/>
<circle cx="192.6" cy="115.9" r="0.55" fill="#c6c6c6"/>
<circle cx="196.1" cy="120.0" r="0.55" fill="#c6c6c6"/>
<circle cx="186.4" cy="117.3" r="0.55" fill="#c6c6c6"/>
<circle cx="194.0" cy="123.4" r="0.55" fill="#c6c6c6"/>
<circle cx="197.4" cy="118.5" r="0.55" fill="#c6c6c6"/>
<circle cx="194.4" cy="120.3" r="0.55" fill="#c6c6c6"/>
<circle cx="182.5" cy="126.6" r="0.55" fill="#c6c6c6"/>
<circle cx="185.1" cy="125.0" r="0.55" fill="#c6c6c6"/>
<circle cx="183.6" cy="125.7" r="0.55" fill="#c6c6c6"/>
<circle cx="191.1" cy="118.9" r="0.55" fill="#c6c6c6"/>
<circle cx="193.9" cy="118.0" r="0.55" fill="#c6c6c6"/>
<circle cx="187.0" cy="129.8" r="0.55" fill="#c6c6c6"/>
<circle cx="187.3" cy="129.6" r="0.55" fill="#c6c6c6"/>
<circle cx="187.2" cy="125.5" r="0.55" fill="#c6c6c6"/>
<circle cx="189.9" cy="124.7" r="0.55" fill="#c6c6c6"/>
<circle cx="181.0" cy="116.4" r="0.55" fill="#c6c6c6"/>
<circle cx="183.8" cy="125.1" r="0.55" fill="#c6c6c6"/>
<circle cx="181.8" cy="115.2" r="0.55" fill="#c6c6c6"/>
<circle cx="196.7" cy="116.5" r="0.55" fill="#c6c6c6"/>
<circle cx="186.6" cy="129.8" r="0.55" fill="#c6c6c6"/>
<circle cx="184.2" cy="116.8" r="0.55" fill="#c6c6c6"/>
<circle cx="188.8" cy="118.0" r="0.55" fill="#c6c6c6"/>
<circle cx="185.7" cy="119.1" r="0.55" fill="#c6c6c6"/>
<circle cx="187.1" cy="119.9" r="0.55" fill="#c6c6c6"/>
<circle cx="193.6" cy="116.3" r="0.55" fill="#c6c6c6"/>
<circle cx="199.2" cy="118.2" r="0.55" fill="#c6c6c6"/>
<circle cx="191.4" cy="123.0" r="0.55" fill="#c6c6c6"/>
<circle cx="187.3" cy="117.6" r="0.55" fill="#c6c6c6"/>
<circle cx="183.7" cy="118.1" r="0.55" fill="#c6c6c6"/>
<circle cx="185.0" cy="122.7" r="0.55" fill="#c6c6c6"/>
<circle cx="187.2" cy="130.2" r="0.55" fill="#c6c6c6"/>
<circle cx="191.8" cy="116.0" r="0.55" fill="#c6c6c6"/>
<circle cx="188.8" cy="116.6" r="0.55" fill="#c6c6c6"/>
<circle cx="182.8" cy="122.8" r="0.55" fill="#c6c6c6"/>
<circle cx="188.0" cy="113.5" r="0.55" fill="#c6c6c6"/>
<circle cx="194.0" cy="123.6" r="0.55" fill="#c6c6c6"/>
<circle cx="185.0" cy="115.9" r="0.55" fill="#c6c6c6"/>
<circle cx="188.5" cy="124.9" r="0.55" fill="#c6c6c6"/>
<circle cx="186.0" cy="121.6" r="0.55" fill="#c6c6c6"/>
<circle cx="193.5" cy="114.4" r="0.55" fill="#c6c6c6"/>
<circle cx="183.2" cy="126.4" r="0.55" fill="#c6c6c6"/>
<circle cx="197.2" cy="118.9" r="0.55" fill="#c6c6c6"/>
<circle cx="190.8" cy="115.0" r="0.55" fill="#c6c6c6"/>
<circle cx="190.2" cy="116.4" r="0.55" fill="#c6c6c6"/>
<circle cx="190.0" cy="122.6" r="0.55" fill="#c6c6c6"/>
<circle cx="191.9" cy="115.4" r="0.55" fill="#c6c6c6"/>
<circle cx="192.3" cy="118.1" r="0.55" fill="#c6c6c6"/>
<circle cx="181.6" cy="124.6" r="0.55" fill="#c6c6c6"/>
<circle cx="185.9" cy="121.8" r="0.55" fill="#c6c6c6"/>
<circle cx="190.8" cy="119.3" r="0.55" fill="#c6c6c6"/>
<circle cx="189.8" cy="115.3" r="0.55" fill="#c6c6c6"/>
<circle cx="192.6" cy="125.1" r="0.55" fill="#c6c6c6"/>
<circle cx="179.6" cy="120.1" r="0.55" fill="#c6c6c6"/>
<circle cx="182.8" cy="118.0" r="0.55" fill="#c6c6c6"/>
<circle cx="186.3" cy="110.7" r="0.55" fill="#c6c6c6"/>
<circle cx="186.8" cy="114.0" r="0.55" fill="#c6c6c6"/>
<circle cx="184.8" cy="122.1" r="0.55" fill="#c6c6c6"/>
<circle cx="182.6" cy="126.7" r="0.55" fill="#c6c6c6"/>
<circle cx="184.1" cy="115.5" r="0.55" fill="#c6c6c6"/>
<circle cx="185.6" cy="121.7" r="0.55" fill="#c6c6c6"/>
<circle cx="183.9" cy="121.9" r="0.55" fill="#c6c6c6"/>
<circle cx="191.0" cy="126.7" r="0.55" fill="#c6c6c6"/>
<circle cx="195.0" cy="118.0" r="0.55" fill="#c6c6c6"/>
<circle cx="185.4" cy="120.7" r="0.55" fill="#c6c6c6"/>
<circle cx="184.5" cy="111.1" r="0.55" fill="#c6c6c6"/>
<circle cx="190.9" cy="114.7" r="0.55" fill="#c6c6c6"/>
<circle cx="186.7" cy="120.1" r="0.55" fill="#c6c6c6"/>
<circle cx="193.6" cy="122.4" r="0.55" fill="#c6c6c6"/>
<circle cx="190.2" cy="127.1" r="0.55" fill="#c6c6c6"/>
<circle cx="178.6" cy="120.0" r="0.55" fill="#c6c6c6"/>
<circle cx="185.8" cy="113.5" r="0.55" fill="#c6c6c6"/>
<circle cx="187.6" cy="113.9" r="0.55" fill="#c6c6c6"/>
<circle cx="186.0" cy="120.2" r="0.55" fill="#c6c6c6"/>
<circle cx="196.5" cy="113.9" r="0.55" fill="#c6c6c6"/>
<circle cx="185.2" cy="124.9" r="0.55" fill="#c6c6c6"/>
<circle cx="178.9" cy="118.8" r="0.55" fill="#c6c6c6"/>
<circle cx="188.9" cy="128.2" r="0.55" fill="#c6c6c6"/>
<circle cx="183.2" cy="127.1" r="0.55" fill="#c6c6c6"/>
<circle cx="191.9" cy="124.7" r="0.55" fill="#c6c6c6"/>
<circle cx="190.3" cy="120.9" r="0.55" fill="#c6c6c6"/>
<circle cx="186.5" cy="124.5" r="0.55" fill="#c6c6c6"/>
<circle cx="183.1" cy="117.8" r="0.55" fill="#c6c6c6"/>
<circle cx="186.6" cy="116.7" r="0.55" fill="#c6c6c6"/>
<circle cx="194.5" cy="119.6" r="0.55" fill="#c6c6c6"/>
<circle cx="193.6" cy="115.2" r="0.55" fill="#c6c6c6"/>
<circle cx="199.4" cy="116.3" r="0.55" fill="#c6c6c6"/>
<circle cx="184.6" cy="119.6" r="0.55" fill="#c6c6c6"/>
<circle cx="193.6" cy="122.5" r="0.55" fill="#c6c6c6"/>
<circle cx="192.4" cy="114.5" r="0.55" fill="#c6c6c6"/>
<circle cx="188.6" cy="128.0" r="0.55" fill="#c6c6c6"/>
<circle cx="185.4" cy="127.3" r="0.55" fill="#c6c6c6"/>
<circle cx="189.5" cy="126.8" r="0.55" fill="#c6c6c6"/>
<circle cx="186.0" cy="130.0" r="0.55" fill="#c6c6c6"/>
<circle cx="190.5" cy="126.6" r="0.55" fill="#c6c6c6"/>
<circle cx="191.8" cy="125.8" r="0.55" fill="#c6c6c6"/>
<circle cx="194.2" cy="123.5" r="0.55" fill="#c6c6c6"/>
<circle cx="184.0" cy="117.0" r="0.55" fill="#c6c6c6"/>
<circle cx="190.4" cy="127.2" r="0.55" fill="#c6c6c6"/>
<circle cx="184.6" cy="128.6" r="0.55" fill="#c6c6c6"/>
<circle cx="189.1" cy="122.2" r="0.55" fill="#c6c6c6"/>
<circle cx="191.0" cy="125.5" r="0.55" fill="#c6c6c6"/>
<circle cx="185.3" cy="128.4" r="0.55" fill="#c6c6c6"/>
<circle cx="185.4" cy="129.2" r="0.55" fill="#c6c6c6"/>
<circle cx="188.0" cy="115.7" r="0.55" fill="#c6c6c6"/>
<circle cx="184.8" cy="122.4" r="0.55" fill="#c6c6c6"/>
<circle cx="192.9" cy="122.8" r="0.55" fill="#c6c6c6"/>
<circle cx="186.7" cy="127.5" r="0.55" fill="#c6c6c6"/>
<circle cx="191.7" cy="122.5" r="0.55" fill="#c6c6c6"/>
<circle cx="182.6" cy="126.1" r="0.55" fill="#c6c6c6"/>
<circle cx="183.5" cy="119.1" r="0.55" fill="#c6c6c6"/>
<circle cx="177.9" cy="121.9" r="0.55" fill="#c6c6c6"/>
<circle cx="191.0" cy="125.5" r="0.55" fill="#c6c6c6"/>
<circle cx="189.0" cy="128.7" r="0.55" fill="#c6c6c6"/>
<circle cx="191.3" cy="124.8" r="0.55" fill="#c6c6c6"/>
<circle cx="194.9" cy="113.4" r="0.55" fill="#c6c6c6"/>
<circle cx="187.5" cy="112.3" r="0.55" fill="#c6c6c6"/>
<circle cx="189.9" cy="124.5" r="0.55" fill="#c6c6c6"/>
<circle cx="188.0" cy="120.0" r="0.55" fill="#c6c6c6"/>
<circle cx="190.8" cy="124.0" r="0.55" fill="#c6c6c6"/>
<circle cx="187.8" cy="114.1" r="0.55" fill="#c6c6c6"/>
<circle cx="192.8" cy="121.8" r="0.55" fill="#c6c6c6"/>
<circle cx="192.2" cy="116.5" r="0.55" fill="#c6c6c6"/>
<circle cx="191.7" cy="115.6" r="0.55" fill="#c6c6c6"/>
<circle cx="187.1" cy="117.3" r="0.55" fill="#c6c6c6"/>
<circle cx="183.5" cy="123.3" r="0.55" fill="#c6c6c6"/>
<circle cx="185.5" cy="115.8" r="0.55" fill="#c6c6c6"/>
<circle cx="190.6" cy="121.1" r="0.55" fill="#c6c6c6"/>
<circle cx="188.2" cy="117.3" r="0.55" fill="#c6c6c6"/>
<circle cx="192.0" cy="118.0" r="0.55" fill="#c6c6c6"/>
<circle cx="187.2" cy="123.1" r="0.55" fill="#c6c6c6"/>
<circle cx="184.1" cy="126.8" r="0.55" fill="#c6c6c6"/>
<circle cx="188.3" cy="122.9" r="0.55" fill="#c6c6c6"/>
<circle cx="187.4" cy="116.6" r="0.55" fill="#c6c6c6"/>
<circle cx="187.5" cy="127.7" r="0.55" fill="#c6c6c6"/>
<circle cx="186.4" cy="114.4" r="0.55" fill="#c6c6c6"/>
<circle cx="182.7" cy="112.9" r="0.55" fill="#c6c6c6"/>
<circle cx="181.3" cy="120.3" r="0.55" fill="#c6c6c6"/>
<circle cx="195.8" cy="119.4" r="0.55" fill="#c6c6c6"/>
<circle cx="184.0" cy="123.6" r="0.55" fill="#c6c6c6"/>
<circle cx="191.0" cy="126.1" r="0.55" fill="#c6c6c6"/>
<circle cx="186.3" cy="129.8" r="0.55" fill="#c6c6c6"/>
<circle cx="187.4" cy="119.3" r="0.55" fill="#c6c6c6"/>
<circle cx="188.7" cy="127.8" r="0.55" fill="#c6c6c6"/>
<circle cx="190.3" cy="118.0" r="0.55" fill="#c6c6c6"/>
<circle cx="187.8" cy="127.5" r="0.55" fill="#c6c6c6"/>
<circle cx="188.1" cy="110.9" r="0.55" fill="#c6c6c6"/>
<circle cx="189.9" cy="122.6" r="0.55" fill="#c6c6c6"/>
<circle cx="195.6" cy="113.6" r="0.55" fill="#c6c6c6"/>
<circle cx="182.2" cy="119.5" r="0.55" fill="#c6c6c6"/>
<circle cx="183.6" cy="125.9" r="0.55" fill="#c6c6c6"/>
<circle cx="189.6" cy="114.3" r="0.55" fill="#c6c6c6"/>
<circle cx="190.6" cy="126.4" r="0.55" fill="#c6c6c6"/>
<circle cx="203.0" cy="114.3" r="0.55" fill="#c6c6c6"/>
<circle cx="193.9" cy="122.2" r="0.55" fill="#c6c6c6"/>
<circle cx="191.8" cy="113.7" r="0.55" fill="#c6c6c6"/>
<circle cx="183.6" cy="115.6" r="0.55" fill="#c6c6c6"/>
<circle cx="184.1" cy="113.2" r="0.55" fill="#c6c6c6"/>
<circle cx="184.9" cy="122.8" r="0.55" fill="#c6c6c6"/>
<circle cx="194.8" cy="122.4" r="0.55" fill="#c6c6c6"/>
<circle cx="192.4" cy="113.8" r="0.55" fill="#c6c6c6"/>
<circle cx="183.2" cy="125.4" r="0.55" fill="#c6c6c6"/>
<circle cx="183.5" cy="116.3" r="0.55" fill="#c6c6c6"/>
<circle cx="187.1" cy="130.3" r="0.55" fill="#c6c6c6"/>
<circle cx="185.4" cy="129.0" r="0.55" fill="#c6c6c6"/>
<circle cx="193.9" cy="117.9" r="0.55" fill="#c6c6c6"/>
<circle cx="188.0" cy="119.0" r="0.55" fill="#c6c6c6"/>
<circle cx="183.7" cy="119.0" r="0.55" fill="#c6c6c6"/>
<circle cx="193.6" cy="121.1" r="0.55" fill="#c6c6c6"/>
<circle cx="186.6" cy="128.2" r="0.55" fill="#c6c6c6"/>
<circle cx="189.6" cy="126.8" r="0.55" fill="#c6c6c6"/>
<circle cx="185.3" cy="110.4" r="0.55" fill="#c6c6c6"/>
<circle cx="180.6" cy="118.5" r="0.55" fill="#c6c6c6"/>
<circle cx="181.7" cy="121.1" r="0.55" fill="#c6c6c6"/>
<circle cx="185.2" cy="122.3" r="0.55" fill="#c6c6c6"/>
<circle cx="189.4" cy="110.1" r="0.55" fill="#c6c6c6"/>
<circle cx="183.8" cy="112.0" r="0.55" fill="#c6c6c6"/>
<circle cx="185.6" cy="127.8" r="0.55" fill="#c6c6c6"/>
<circle cx="201.2" cy="116.4" r="0.55" fill="#c6c6c6"/>
<circle cx="187.8" cy="122.1" r="0.55" fill="#c6c6c6"/>
<circle cx="184.7" cy="118.7" r="0.55" fill="#c6c6c6"/>
<circle cx="197.5" cy="118.6" r="0.55" fill="#c6c6c6"/>
<circle cx="190.9" cy="121.7" r="0.55" fill="#c6c6c6"/>
<circle cx="184.2" cy="116.1" r="0.55" fill="#c6c6c6"/>
<circle cx="196.2" cy="119.6" r="0.55" fill="#c6c6c6"/>
<circle cx="192.3" cy="121.0" r="0.55" fill="#c6c6c6"/>
<circle cx="191.4" cy="126.0" r="0.55" fill="#c6c6c6"/>
<circle cx="194.0" cy="115.4" r="0.55" fill="#c6c6c6"/>
<circle cx="199.9" cy="115.9" r="0.55" fill="#c6c6c6"/>
<circle cx="187.1" cy="129.2" r="0.55" fill="#c6c6c6"/>
<circle cx="186.4" cy="122.1" r="0.55" fill="#c6c6c6"/>
<circle cx="194.3" cy="117.8" r="0.55" fill="#c6c6c6"/>
<circle cx="182.8" cy="124.0" r="0.55" fill="#c6c6c6"/>
<circle cx="197.0" cy="117.1" r="0.55" fill="#c6c6c6"/>
<circle cx="196.3" cy="119.4" r="0.55" fill="#c6c6c6"/>
<circle cx="183.1" cy="124.8" r="0.55" fill="#c6c6c6"/>
<circle cx="188.9" cy="127.9" r="0.55" fill="#c6c6c6"/>
<circle cx="187.8" cy="121.8" r="0.55" fill="#c6c6c6"/>
<circle cx="185.7" cy="129.5" r="0.55" fill="#c6c6c6"/>
<circle cx="187.8" cy="127.9" r="0.55" fill="#c6c6c6"/>
<circle cx="189.4" cy="110.5" r="0.55" fill="#c6c6c6"/>
<circle cx="183.4" cy="115.0" r="0.55" fill="#c6c6c6"/>
<circle cx="190.1" cy="126.1" r="0.55" fill="#c6c6c6"/>
<circle cx="188.4" cy="129.5" r="0.55" fill="#c6c6c6"/>
<circle cx="184.6" cy="128.4" r="0.55" fill="#c6c6c6"/>
<circle cx="190.7" cy="119.8" r="0.55" fill="#c6c6c6"/>
<circle cx="192.6" cy="123.1" r="0.55" fill="#c6c6c6"/>
<circle cx="191.3" cy="114.4" r="0.55" fill="#c6c6c6"/>
<circle cx="185.3" cy="129.1" r="0.55" fill="#c6c6c6"/>
<circle cx="190.7" cy="121.9" r="0.55" fill="#c6c6c6"/>
<circle cx="183.7" cy="112.1" r="0.55" fill="#c6c6c6"/>
<circle cx="183.6" cy="114.5" r="0.55" fill="#c6c6c6"/>
<circle cx="188.6" cy="116.2" r="0.55" fill="#c6c6c6"/>
<circle cx="191.6" cy="114.6" r="0.55" fill="#c6c6c6"/>
<circle cx="180.1" cy="118.0" r="0.55" fill="#c6c6c6"/>
<circle cx="188.0" cy="126.6" r="0.55" fill="#c6c6c6"/>
<circle cx="189.1" cy="118.7" r="0.55" fill="#c6c6c6"/>
<circle cx="193.8" cy="116.1" r="0.55" fill="#c6c6c6"/>
<circle cx="185.5" cy="111.9" r="0.55" fill="#c6c6c6"/>
<circle cx="191.5" cy="121.6" r="0.55" fill="#c6c6c6"/>
<circle cx="182.8" cy="120.1" r="0.55" fill="#c6c6c6"/>
<circle cx="190.3" cy="117.3" r="0.55" fill="#c6c6c6"/>
<circle cx="184.0" cy="123.9" r="0.55" fill="#c6c6c6"/>
<circle cx="186.9" cy="124.0" r="0.55" fill="#c6c6c6"/>
<circle cx="183.7" cy="126.5" r="0.55" fill="#c6c6c6"/>
<circle cx="186.1" cy="124.4" r="0.55" fill="#c6c6c6"/>
<circle cx="194.6" cy="116.6" r="0.55" fill="#c6c6c6"/>
<circle cx="179.4" cy="123.3" r="0.55" fill="#c6c6c6"/>
<circle cx="183.3" cy="121.0" r="0.55" fill="#c6c6c6"/>
<circle cx="185.7" cy="126.5" r="0.55" fill="#c6c6c6"/>
<circle cx="185.8" cy="129.1" r="0.55" fill="#c6c6c6"/>
<circle cx="179.0" cy="115.6" r="0.55" fill="#c6c6c6"/>
<circle cx="184.6" cy="112.7" r="0.55" fill="#c6c6c6"/>
<circle cx="186.4" cy="112.2" r="0.55" fill="#c6c6c6"/>
<circle cx="186.0" cy="128.2" r="0.55" fill="#c6c6c6"/>
<circle cx="182.2" cy="123.0" r="0.55" fill="#c6c6c6"/>
<circle cx="195.6" cy="120.3" r="0.55" fill="#c6c6c6"/>
<circle cx="201.3" cy="115.1" r="0.55" fill="#c6c6c6"/>
<circle cx="185.0" cy="123.9" r="0.55" fill="#c6c6c6"/>
<circle cx="188.0" cy="127.0" r="0.55" fill="#c6c6c6"/>
<circle cx="192.1" cy="124.1" r="0.55" fill="#c6c6c6"/>
<circle cx="190.5" cy="126.9" r="0.55" fill="#c6c6c6"/>
<circle cx="181.2" cy="113.3" r="0.55" fill="#c6c6c6"/>
<circle cx="187.1" cy="119.9" r="0.55" fill="#c6c6c6"/>
<circle cx="188.8" cy="125.8" r="0.55" fill="#c6c6c6"/>
<circle cx="188.0" cy="111.1" r="0.55" fill="#c6c6c6"/>
<circle cx="192.6" cy="119.8" r="0.55" fill="#c6c6c6"/>
<circle cx="190.4" cy="124.7" r="0.55" fill="#c6c6c6"/>
<circle cx="186.9" cy="128.2" r="0.55" fill="#c6c6c6"/>
<circle cx="188.1" cy="111.2" r="0.55" fill="#c6c6c6"/>
<circle cx="196.1" cy="120.7" r="0.55" fill="#c6c6c6"/>
<circle cx="185.4" cy="128.2" r="0.55" fill="#c6c6c6"/>
<circle cx="182.7" cy="126.4" r="0.55" fill="#c6c6c6"/>
<circle cx="188.8" cy="127.2" r="0.55" fill="#c6c6c6"/>
<circle cx="185.5" cy="114.7" r="0.55" fill="#c6c6c6"/>
<circle cx="187.3" cy="122.0" r="0.55" fill="#c6c6c6"/>
<circle cx="186.7" cy="125.2" r="0.55" fill="#c6c6c6"/>
<circle cx="188.0" cy="128.5" r="0.55" fill="#c6c6c6"/>
<circle cx="191.5" cy="125.5" r="0.55" fill="#c6c6c6"/>
<circle cx="182.5" cy="126.1" r="0.55" fill="#c6c6c6"/>
<circle cx="198.5" cy="118.4" r="0.55" fill="#c6c6c6"/>
<circle cx="182.8" cy="124.5" r="0.55" fill="#c6c6c6"/>
<circle cx="181.8" cy="120.1" r="0.55" fill="#c6c6c6"/>
<circle cx="199.5" cy="113.2" r="0.55" fill="#c6c6c6"/>
<circle cx="188.1" cy="125.3" r="0.55" fill="#c6c6c6"/>
<circle cx="189.6" cy="116.1" r="0.55" fill="#c6c6c6"/>
<circle cx="190.0" cy="121.8" r="0.55" fill="#c6c6c6"/>
<circle cx="182.7" cy="119.7" r="0.55" fill="#c6c6c6"/>
<circle cx="183.2" cy="113.9" r="0.55" fill="#c6c6c6"/>
<circle cx="191.0" cy="125.1" r="0.55" fill="#c6c6c6"/>
<circle cx="179.9" cy="112.9" r="0.55" fill="#c6c6c6"/>
<circle cx="182.6" cy="125.2" r="0.55" fill="#c6c6c6"/>
<circle cx="199.0" cy="118.1" r="0.55" fill="#c6c6c6"/>
<circle cx="186.3" cy="127.2" r="0.55" fill="#c6c6c6"/>
<circle cx="189.1" cy="110.6" r="0.55" fill="#c6c6c6"/>
<circle cx="190.3" cy="122.5" r="0.55" fill="#c6c6c6"/>
<circle cx="190.5" cy="127.3" r="0.55" fill="#c6c6c6"/>
<circle cx="186.7" cy="113.7" r="0.55" fill="#c6c6c6"/>
<circle cx="193.3" cy="116.0" r="0.55" fill="#c6c6c6"/>
<circle cx="188.8" cy="121.0" r="0.55" fill="#c6c6c6"/>
<circle cx="186.3" cy="123.9" r="0.55" fill="#c6c6c6"/>
<circle cx="193.2" cy="121.7" r="0.55" fill="#c6c6c6"/>
<circle cx="194.6" cy="118.1" r="0.55" fill="#c6c6c6"/>
<circle cx="185.6" cy="125.0" r="0.55" fill="#c6c6c6"/>
<circle cx="192.1" cy="118.0" r="0.55" fill="#c6c6c6"/>
<circle cx="187.0" cy="114.7" r="0.55" fill="#c6c6c6"/>
<circle cx="185.5" cy="126.4" r="0.55" fill="#c6c6c6"/>
<circle cx="203.5" cy="114.0" r="0.55" fill="#c6c6c6"/>
<circle cx="181.2" cy="121.9" r="0.55" fill="#c6c6c6"/>
<circle cx="188.5" cy="118.9" r="0.55" fill="#c6c6c6"/>
<circle cx="185.9" cy="123.4" r="0.55" fill="#c6c6c6"/>
<circle cx="202.9" cy="113.1" r="0.55" fill="#c6c6c6"/>
<circle cx="186.5" cy="122.1" r="0.55" fill="#c6c6c6"/>
<circle cx="182.6" cy="126.3" r="0.55" fill="#c6c6c6"/>
<circle cx="191.4" cy="121.5" r="0.55" fill="#c6c6c6"/>
<circle cx="194.1" cy="123.4" r="0.55" fill="#c6c6c6"/>
<circle cx="182.1" cy="113.2" r="0.55" fill="#c6c6c6"/>
<circle cx="179.1" cy="119.9" r="0.55" fill="#c6c6c6"/>
<circle cx="199.1" cy="117.7" r="0.55" fill="#c6c6c6"/>
<circle cx="179.7" cy="119.5" r="0.55" fill="#c6c6c6"/>
<circle cx="185.5" cy="113.5" r="0.55" fill="#c6c6c6"/>
<circle cx="187.3" cy="126.8" r="0.55" fill="#c6c6c6"/>
<circle cx="184.2" cy="121.3" r="0.55" fill="#c6c6c6"/>
<circle cx="184.8" cy="118.5" r="0.55" fill="#c6c6c6"/>
<circle cx="186.1" cy="127.8" r="0.55" fill="#c6c6c6"/>
<circle cx="187.0" cy="125.7" r="0.55" fill="#c6c6c6"/>
<circle cx="186.4" cy="129.9" r="0.55" fill="#c6c6c6"/>
<circle cx="186.6" cy="126.5" r="0.55" fill="#c6c6c6"/>
<circle cx="188.3" cy="121.3" r="0.55" fill="#c6c6c6"/>
<circle cx="181.3" cy="113.6" r="0.55" fill="#c6c6c6"/>
<circle cx="186.7" cy="114.6" r="0.55" fill="#c6c6c6"/>
<circle cx="193.7" cy="115.8" r="0.55" fill="#c6c6c6"/>
<circle cx="185.8" cy="128.8" r="0.55" fill="#c6c6c6"/>
<circle cx="192.5" cy="119.9" r="0.55" fill="#c6c6c6"/>
<circle cx="185.3" cy="112.9" r="0.55" fill="#c6c6c6"/>
<circle cx="187.7" cy="114.8" r="0.55" fill="#c6c6c6"/>
<circle cx="192.1" cy="118.1" r="0.55" fill="#c6c6c6"/>
<circle cx="189.7" cy="124.0" r="0.55" fill="#c6c6c6"/>
<circle cx="189.3" cy="128.6" r="0.55" fill="#c6c6c6"/>
<circle cx="190.3" cy="124.7" r="0.55" fill="#c6c6c6"/>
<circle cx="185.8" cy="124.6" r="0.55" fill="#c6c6c6"/>
<circle cx="183.6" cy="118.5" r="0.55" fill="#c6c6c6"/>
<circle cx="188.1" cy="118.7" r="0.55" fill="#c6c6c6"/>
<circle cx="186.4" cy="110.6" r="0.55" fill="#c6c6c6"/>
<circle cx="189.6" cy="117.4" r="0.55" fill="#c6c6c6"/>
<circle cx="193.8" cy="114.6" r="0.55" fill="#c6c6c6"/>
<circle cx="189.3" cy="121.9" r="0.55" fill="#c6c6c6"/>
<circle cx="188.9" cy="123.3" r="0.55" fill="#c6c6c6"/>
<circle cx="196.8" cy="118.6" r="0.55" fill="#c6c6c6"/>
<circle cx="183.2" cy="122.2" r="0.55" fill="#c6c6c6"/>
<circle cx="180.4" cy="122.9" r="0.55" fill="#c6c6c6"/>
<circle cx="183.7" cy="123.0" r="0.55" fill="#c6c6c6"/>
<circle cx="195.4" cy="122.4" r="0.55" fill="#c6c6c6"/>
<circle cx="182.6" cy="126.2" r="0.55" fill="#c6c6c6"/>
<circle cx="187.5" cy="127.8" r="0.55" fill="#c6c6c6"/>
<circle cx="179.9" cy="118.0" r="0.55" fill="#c6c6c6"/>
<circle cx="190.7" cy="124.2" r="0.55" fill="#c6c6c6"/>
<circle cx="196.8" cy="116.5" r="0.55" fill="#c6c6c6"/>
<circle cx="187.7" cy="128.1" r="0.55" fill="#c6c6c6"/>
<circle cx="185.4" cy="128.3" r="0.55" fill="#c6c6c6"/>
<circle cx="200.0" cy="114.6" r="0.55" fill="#c6c6c6"/>
<circle cx="185.3" cy="116.0" r="0.55" fill="#c6c6c6"/>
<circle cx="185.4" cy="112.4" r="0.55" fill="#c6c6c6"/>
<circle cx="194.3" cy="122.1" r="0.55" fill="#c6c6c6"/>
<circle cx="182.7" cy="126.4" r="0.55" fill="#c6c6c6"/>
<circle cx="184.8" cy="127.0" r="0.55" fill="#c6c6c6"/>
<circle cx="190.6" cy="113.0" r="0.55" fill="#c6c6c6"/>
<circle cx="198.7" cy="118.6" r="0.55" fill="#c6c6c6"/>
<circle cx="193.4" cy="122.8" r="0.55" fill="#c6c6c6"/>
<circle cx="186.0" cy="128.1" r="0.55" fill="#c6c6c6"/>
<circle cx="195.0" cy="119.5" r="0.55" fill="#c6c6c6"/>
<circle cx="190.1" cy="113.6" r="0.55" fill="#c6c6c6"/>
<circle cx="189.5" cy="123.2" r="0.55" fill="#c6c6c6"/>
<circle cx="186.9" cy="125.4" r="0.55" fill="#c6c6c6"/>
<circle cx="190.4" cy="124.7" r="0.55" fill="#c6c6c6"/>
<circle cx="192.4" cy="116.2" r="0.55" fill="#c6c6c6"/>
<circle cx="187.1" cy="128.3" r="0.55" fill="#c6c6c6"/>
<circle cx="190.9" cy="121.6" r="0.55" fill="#c6c6c6"/>
<circle cx="185.2" cy="117.6" r="0.55" fill="#c6c6c6"/>
<circle cx="186.9" cy="128.5" r="0.55" fill="#c6c6c6"/>
<circle cx="185.4" cy="127.8" r="0.55" fill="#c6c6c6"/>
<circle cx="183.0" cy="115.6" r="0.55" fill="#c6c6c6"/>
<circle cx="184.0" cy="119.3" r="0.55" fill="#c6c6c6"/>
<circle cx="192.9" cy="117.2" r="0.55" fill="#c6c6c6"/>
<circle cx="186.8" cy="116.0" r="0.55" fill="#c6c6c6"/>
<circle cx="189.2" cy="113.6" r="0.55" fill="#c6c6c6"/>
<circle cx="182.5" cy="124.0" r="0.55" fill="#c6c6c6"/>
<circle cx="189.0" cy="112.6" r="0.55" fill="#c6c6c6"/>
<circle cx="187.0" cy="115.1" r="0.55" fill="#c6c6c6"/>
<circle cx="185.4" cy="110.4" r="0.55" fill="#c6c6c6"/>
<circle cx="180.2" cy="119.1" r="0.55" fill="#c6c6c6"/>
<circle cx="203.7" cy="113.7" r="0.55" fill="#c6c6c6"/>
<circle cx="187.5" cy="117.2" r="0.55" fill="#c6c6c6"/>
<circle cx="184.4" cy="119.8" r="0.55" fill="#c6c6c6"/>
<circle cx="193.9" cy="112.8" r="0.55" fill="#c6c6c6"/>
<circle cx="192.9" cy="119.7" r="0.55" fill="#c6c6c6"/>
<circle cx="179.9" cy="119.4" r="0.55" fill="#c6c6c6"/>
<circle cx="186.1" cy="122.7" r="0.55" fill="#c6c6c6"/>
<circle cx="181.2" cy="123.6" r="0.55" fill="#c6c6c6"/>
<circle cx="184.2" cy="127.6" r="0.55" fill="#c6c6c6"/>
<circle cx="189.1" cy="125.3" r="0.55" fill="#c6c6c6"/>
<circle cx="184.6" cy="114.2" r="0.55" fill="#c6c6c6"/>
<circle cx="188.5" cy="129.3" r="0.55" fill="#c6c6c6"/>
<circle cx="184.6" cy="117.8" r="0.55" fill="#c6c6c6"/>
<circle cx="188.1" cy="122.7" r="0.55" fill="#c6c6c6"/>
<circle cx="184.2" cy="120.0" r="0.55" fill="#c6c6c6"/>
<circle cx="188.6" cy="120.7" r="0.55" fill="#c6c6c6"/>
<circle cx="197.2" cy="117.8" r="0.55" fill="#c6c6c6"/>
<circle cx="194.1" cy="121.0" r="0.55" fill="#c6c6c6"/>
<circle cx="193.1" cy="115.3" r="0.55" fill="#c6c6c6"/>
<circle cx="191.2" cy="125.0" r="0.55" fill="#c6c6c6"/>
<circle cx="193.5" cy="120.2" r="0.55" fill="#c6c6c6"/>
<circle cx="186.4" cy="130.1" r="0.55" fill="#c6c6c6"/>
<circle cx="187.3" cy="123.1" r="0.55" fill="#c6c6c6"/>
<circle cx="190.6" cy="125.9" r="0.55" fill="#c6c6c6"/>
<circle cx="194.9" cy="122.4" r="0.55" fill="#c6c6c6"/>
<circle cx="185.9" cy="122.1" r="0.55" fill="#c6c6c6"/>
<circle cx="186.9" cy="127.5" r="0.55" fill="#c6c6c6"/>
<circle cx="189.8" cy="124.5" r="0.55" fill="#c6c6c6"/>
<circle cx="187.6" cy="123.1" r="0.55" fill="#c6c6c6"/>
<circle cx="185.1" cy="111.0" r="0.55" fill="#c6c6c6"/>
<circle cx="190.3" cy="125.9" r="0.55" fill="#c6c6c6"/>
<circle cx="183.6" cy="125.8" r="0.55" fill="#c6c6c6"/>
<circle cx="186.0" cy="127.6" r="0.55" fill="#c6c6c6"/>
<circle cx="198.4" cy="113.3" r="0.55" fill="#c6c6c6"/>
<circle cx="187.7" cy="112.7" r="0.55" fill="#c6c6c6"/>
<circle cx="195.7" cy="114.0" r="0.55" fill="#c6c6c6"/>
<circle cx="193.6" cy="122.4" r="0.55" fill="#c6c6c6"/>
<circle cx="177.0" cy="118.7" r="0.55" fill="#c6c6c6"/>
<circle cx="192.6" cy="114.8" r="0.55" fill="#c6c6c6"/>
<circle cx="192.8" cy="122.7" r="0.55" fill="#c6c6c6"/>
<circle cx="195.7" cy="117.4" r="0.55" fill="#c6c6c6"/>
<circle cx="206.4" cy="115.2" r="0.55" fill="#cacaca"/>
<circle cx="212.2" cy="121.3" r="0.55" fill="#cacaca"/>
<circle cx="211.3" cy="122.5" r="0.55" fill="#cacaca"/>
<circle cx="213.1" cy="125.3" r="0.55" fill="#cacaca"/>
<circle cx="209.1" cy="119.9" r="0.55" fill="#cacaca"/>
<circle cx="206.7" cy="128.8" r="0.55" fill="#cacaca"/>
<circle cx="203.3" cy="120.6" r="0.55" fill="#cacaca"/>
<circle cx="203.9" cy="118.5" r="0.55" fill="#cacaca"/>
<circle cx="208.5" cy="113.9" r="0.55" fill="#cacaca"/>
<circle cx="213.8" cy="117.6" r="0.55" fill="#cacaca"/>
<circle cx="206.4" cy="128.9" r="0.55" fill="#cacaca"/>
<circle cx="209.3" cy="117.3" r="0.55" fill="#cacaca"/>
<circle cx="214.9" cy="126.3" r="0.55" fill="#cacaca"/>
<circle cx="203.1" cy="115.9" r="0.55" fill="#cacaca"/>
<circle cx="212.1" cy="121.6" r="0.55" fill="#cacaca"/>
<circle cx="212.1" cy="127.1" r="0.55" fill="#cacaca"/>
<circle cx="209.1" cy="118.6" r="0.55" fill="#cacaca"/>
<circle cx="210.0" cy="126.9" r="0.55" fill="#cacaca"/>
<circle cx="202.8" cy="121.2" r="0.55" fill="#cacaca"/>
<circle cx="214.3" cy="127.3" r="0.55" fill="#cacaca"/>
<circle cx="200.8" cy="129.0" r="0.55" fill="#cacaca"/>
<circle cx="212.8" cy="123.1" r="0.55" fill="#cacaca"/>
<circle cx="161.1" cy="44.9" r="0.6" fill="#2bb89b"/>
<circle cx="176.6" cy="41.4" r="0.6" fill="#2bb89b"/>
<circle cx="156.8" cy="68.0" r="0.6" fill="#2bb89b"/>
<circle cx="159.8" cy="68.0" r="0.6" fill="#2bb89b"/>
<circle cx="178.7" cy="62.4" r="0.6" fill="#2bb89b"/>
<circle cx="178.3" cy="69.4" r="0.6" fill="#2bb89b"/>
<circle cx="173.1" cy="72.2" r="0.6" fill="#2bb89b"/>
<circle cx="175.7" cy="76.4" r="0.6" fill="#2bb89b"/>
<circle cx="180.0" cy="77.8" r="0.6" fill="#2bb89b"/>
<circle cx="172.3" cy="83.4" r="0.6" fill="#2bb89b"/>
<circle cx="181.7" cy="84.8" r="0.6" fill="#2bb89b"/>
<circle cx="162.8" cy="109.3" r="0.6" fill="#2bb89b"/>
<circle cx="165.4" cy="103.0" r="0.6" fill="#2bb89b"/>
<circle cx="170.6" cy="110.0" r="0.6" fill="#2bb89b"/>
<circle cx="178.5" cy="108.3" r="0.6" fill="#2bb89b"/>
<circle cx="182.9" cy="107.9" r="0.6" fill="#2bb89b"/>
<circle cx="182.7" cy="95.1" r="0.6" fill="#2bb89b"/>
<circle cx="182.4" cy="102.0" r="0.6" fill="#2bb89b"/>
<circle cx="181.9" cy="106.9" r="0.6" fill="#2bb89b"/>
<circle cx="180.7" cy="88.9" r="0.6" fill="#2bb89b"/>
<circle cx="182.6" cy="105.6" r="0.6" fill="#2bb89b"/>
<circle cx="181.1" cy="96.6" r="0.6" fill="#2bb89b"/>
<circle cx="177.8" cy="107.0" r="0.6" fill="#2bb89b"/>
<circle cx="182.1" cy="89.1" r="0.6" fill="#2bb89b"/>
<circle cx="177.4" cy="106.6" r="0.6" fill="#2bb89b"/>
<circle cx="182.4" cy="111.3" r="0.6" fill="#2bb89b"/>
<circle cx="177.7" cy="107.2" r="0.6" fill="#2bb89b"/>
<circle cx="177.2" cy="99.4" r="0.6" fill="#2bb89b"/>
<circle cx="180.2" cy="107.8" r="0.6" fill="#2bb89b"/>
<circle cx="181.8" cy="106.7" r="0.6" fill="#2bb89b"/>
<circle cx="182.8" cy="109.6" r="0.6" fill="#2bb89b"/>
<circle cx="179.4" cy="91.7" r="0.6" fill="#2bb89b"/>
<circle cx="181.3" cy="99.2" r="0.6" fill="#2bb89b"/>
<circle cx="178.6" cy="101.9" r="0.6" fill="#2bb89b"/>
<circle cx="175.9" cy="104.6" r="0.6" fill="#2bb89b"/>
<circle cx="182.4" cy="89.5" r="0.6" fill="#2bb89b"/>
<circle cx="181.3" cy="102.6" r="0.6" fill="#2bb89b"/>
<circle cx="173.5" cy="99.9" r="0.6" fill="#2bb89b"/>
<circle cx="176.1" cy="98.4" r="0.6" fill="#2bb89b"/>
<circle cx="182.0" cy="110.1" r="0.6" fill="#2bb89b"/>
<circle cx="169.9" cy="110.9" r="0.6" fill="#2bb89b"/>
<circle cx="168.3" cy="102.6" r="0.6" fill="#2bb89b"/>
<circle cx="182.5" cy="104.9" r="0.6" fill="#2bb89b"/>
<circle cx="177.2" cy="112.7" r="0.6" fill="#2bb89b"/>
<circle cx="182.6" cy="94.6" r="0.6" fill="#2bb89b"/>
<circle cx="175.4" cy="112.1" r="0.6" fill="#2bb89b"/>
<circle cx="174.8" cy="96.2" r="0.6" fill="#2bb89b"/>
<circle cx="181.1" cy="107.5" r="0.6" fill="#2bb89b"/>
<circle cx="177.5" cy="107.4" r="0.6" fill="#2bb89b"/>
<circle cx="178.2" cy="111.4" r="0.6" fill="#2bb89b"/>
<circle cx="170.2" cy="109.7" r="0.6" fill="#2bb89b"/>
<circle cx="179.4" cy="111.5" r="0.6" fill="#2bb89b"/>
<circle cx="182.8" cy="91.2" r="0.6" fill="#2bb89b"/>
<circle cx="176.7" cy="102.3" r="0.6" fill="#2bb89b"/>
<circle cx="181.6" cy="96.3" r="0.6" fill="#2bb89b"/>
<circle cx="181.5" cy="102.2" r="0.6" fill="#2bb89b"/>
<circle cx="182.5" cy="111.8" r="0.6" fill="#2bb89b"/>
<circle cx="182.9" cy="96.2" r="0.6" fill="#2bb89b"/>
<circle cx="178.2" cy="94.5" r="0.6" fill="#2bb89b"/>
<circle cx="180.6" cy="100.7" r="0.6" fill="#2bb89b"/>
<circle cx="178.6" cy="99.2" r="0.6" fill="#2bb89b"/>
<circle cx="179.4" cy="112.4" r="0.6" fill="#2bb89b"/>
<circle cx="180.1" cy="108.4" r="0.6" fill="#2bb89b"/>
<circle cx="175.1" cy="103.4" r="0.6" fill="#2bb89b"/>
<circle cx="182.8" cy="97.3" r="0.6" fill="#2bb89b"/>
<circle cx="178.2" cy="92.7" r="0.6" fill="#2bb89b"/>
<circle cx="177.4" cy="109.5" r="0.6" fill="#2bb89b"/>
<circle cx="181.5" cy="106.7" r="0.6" fill="#2bb89b"/>
<circle cx="198.1" cy="49.8" r="0.6" fill="#f58a5e"/>
<circle cx="199.8" cy="51.2" r="0.6" fill="#f58a5e"/>
<circle cx="195.1" cy="63.8" r="0.6" fill="#f58a5e"/>
<circle cx="195.5" cy="66.6" r="0.6" fill="#f58a5e"/>
<circle cx="194.6" cy="69.4" r="0.6" fill="#f58a5e"/>
<circle cx="195.9" cy="72.2" r="0.6" fill="#f58a5e"/>
<circle cx="194.2" cy="75.0" r="0.6" fill="#f58a5e"/>
<circle cx="197.2" cy="76.4" r="0.6" fill="#f58a5e"/>
<circle cx="215.3" cy="105.8" r="0.6" fill="#f58a5e"/>
<circle cx="205.8" cy="103.0" r="0.6" fill="#f58a5e"/>
<circle cx="204.1" cy="108.6" r="0.6" fill="#f58a5e"/>
<circle cx="203.2" cy="98.8" r="0.6" fill="#f58a5e"/>
<circle cx="207.5" cy="110.0" r="0.6" fill="#f58a5e"/>
<circle cx="193.0" cy="99.1" r="0.6" fill="#f58a5e"/>
<circle cx="191.0" cy="98.1" r="0.6" fill="#f58a5e"/>
<circle cx="189.9" cy="111.2" r="0.6" fill="#f58a5e"/>
<circle cx="192.7" cy="109.7" r="0.6" fill="#f58a5e"/>
<circle cx="193.4" cy="79.3" r="0.6" fill="#f58a5e"/>
<circle cx="189.8" cy="99.9" r="0.6" fill="#f58a5e"/>
<circle cx="192.4" cy="112.2" r="0.6" fill="#f58a5e"/>
<circle cx="194.0" cy="92.3" r="0.6" fill="#f58a5e"/>
<circle cx="189.8" cy="92.7" r="0.6" fill="#f58a5e"/>
<circle cx="194.2" cy="107.9" r="0.6" fill="#f58a5e"/>
<circle cx="190.4" cy="109.4" r="0.6" fill="#f58a5e"/>
<circle cx="193.1" cy="98.3" r="0.6" fill="#f58a5e"/>
<circle cx="194.5" cy="111.1" r="0.6" fill="#f58a5e"/>
<circle cx="195.7" cy="90.2" r="0.6" fill="#f58a5e"/>
<circle cx="194.3" cy="101.9" r="0.6" fill="#f58a5e"/>
<circle cx="190.4" cy="104.0" r="0.6" fill="#f58a5e"/>
<circle cx="191.2" cy="96.6" r="0.6" fill="#f58a5e"/>
<circle cx="194.2" cy="93.3" r="0.6" fill="#f58a5e"/>
<circle cx="192.4" cy="78.3" r="0.6" fill="#f58a5e"/>
<circle cx="191.3" cy="87.7" r="0.6" fill="#f58a5e"/>
<circle cx="192.8" cy="110.5" r="0.6" fill="#f58a5e"/>
<circle cx="202.6" cy="89.5" r="0.6" fill="#f58a5e"/>
<circle cx="191.7" cy="98.8" r="0.6" fill="#f58a5e"/>
<circle cx="198.7" cy="103.9" r="0.6" fill="#f58a5e"/>
<circle cx="191.8" cy="85.3" r="0.6" fill="#f58a5e"/>
<circle cx="192.3" cy="104.3" r="0.6" fill="#f58a5e"/>
<circle cx="194.4" cy="108.2" r="0.6" fill="#f58a5e"/>
<circle cx="201.2" cy="106.9" r="0.6" fill="#f58a5e"/>
<circle cx="191.1" cy="105.2" r="0.6" fill="#f58a5e"/>
<circle cx="193.5" cy="111.4" r="0.6" fill="#f58a5e"/>
<circle cx="190.3" cy="78.8" r="0.6" fill="#f58a5e"/>
<circle cx="193.1" cy="108.7" r="0.6" fill="#f58a5e"/>
<circle cx="193.2" cy="107.2" r="0.6" fill="#f58a5e"/>
<circle cx="192.2" cy="109.0" r="0.6" fill="#f58a5e"/>
<circle cx="195.6" cy="104.9" r="0.6" fill="#f58a5e"/>
<circle cx="191.3" cy="101.8" r="0.6" fill="#f58a5e"/>
<circle cx="198.3" cy="91.0" r="0.6" fill="#f58a5e"/>
<circle cx="190.5" cy="108.3" r="0.6" fill="#f58a5e"/>
<circle cx="191.4" cy="109.3" r="0.6" fill="#f58a5e"/>
<circle cx="191.9" cy="104.1" r="0.6" fill="#f58a5e"/>
<circle cx="190.6" cy="111.9" r="0.6" fill="#f58a5e"/>
<circle cx="192.8" cy="107.5" r="0.6" fill="#f58a5e"/>
<circle cx="193.0" cy="107.0" r="0.6" fill="#f58a5e"/>
<circle cx="199.9" cy="95.8" r="0.6" fill="#f58a5e"/>
<circle cx="197.7" cy="104.9" r="0.6" fill="#f58a5e"/>
<circle cx="196.0" cy="106.2" r="0.6" fill="#f58a5e"/>
<circle cx="193.3" cy="108.3" r="0.6" fill="#f58a5e"/>
<circle cx="195.0" cy="110.7" r="0.6" fill="#f58a5e"/>
<circle cx="190.7" cy="80.9" r="0.6" fill="#f58a5e"/>
<circle cx="190.2" cy="106.2" r="0.6" fill="#f58a5e"/>
<circle cx="191.8" cy="110.9" r="0.6" fill="#f58a5e"/>
<circle cx="193.4" cy="106.9" r="0.6" fill="#f58a5e"/>
<circle cx="194.4" cy="106.5" r="0.6" fill="#f58a5e"/>
<circle cx="191.0" cy="107.5" r="0.6" fill="#f58a5e"/>
<circle cx="197.9" cy="103.8" r="0.6" fill="#f58a5e"/>
<circle cx="190.4" cy="90.1" r="0.6" fill="#f58a5e"/>
<circle cx="192.1" cy="109.9" r="0.6" fill="#f58a5e"/>
<circle cx="190.0" cy="83.5" r="0.6" fill="#f58a5e"/>
<circle cx="194.3" cy="101.5" r="0.6" fill="#f58a5e"/>
<circle cx="190.3" cy="83.7" r="0.6" fill="#f58a5e"/>
<circle cx="192.9" cy="105.7" r="0.6" fill="#f58a5e"/>
<circle cx="192.9" cy="112.6" r="0.6" fill="#f58a5e"/>
<circle cx="194.9" cy="102.1" r="0.6" fill="#f58a5e"/>
<circle cx="191.2" cy="103.5" r="0.6" fill="#f58a5e"/>
<circle cx="197.1" cy="109.6" r="0.6" fill="#f58a5e"/>
<circle cx="196.9" cy="109.8" r="0.6" fill="#f58a5e"/>
<circle cx="196.0" cy="88.1" r="0.6" fill="#f58a5e"/>
<circle cx="189.9" cy="100.7" r="0.6" fill="#f58a5e"/>
<circle cx="191.6" cy="84.4" r="0.6" fill="#f58a5e"/>
<circle cx="197.7" cy="112.0" r="0.6" fill="#f58a5e"/>
<circle cx="191.4" cy="90.9" r="0.6" fill="#f58a5e"/>
<circle cx="191.3" cy="103.5" r="0.6" fill="#f58a5e"/>
<circle cx="198.2" cy="95.2" r="0.6" fill="#f58a5e"/>
<circle cx="194.0" cy="111.5" r="0.6" fill="#f58a5e"/>
<circle cx="194.0" cy="78.3" r="0.6" fill="#f58a5e"/>
<circle cx="191.4" cy="85.2" r="0.6" fill="#f58a5e"/>
<circle cx="190.8" cy="107.7" r="0.6" fill="#f58a5e"/>
<circle cx="190.3" cy="109.1" r="0.6" fill="#f58a5e"/>
<circle cx="190.7" cy="93.2" r="0.6" fill="#f58a5e"/>
<circle cx="191.1" cy="109.0" r="0.6" fill="#f58a5e"/>
<circle cx="191.9" cy="97.7" r="0.6" fill="#f58a5e"/>
<circle cx="197.2" cy="90.2" r="0.6" fill="#f58a5e"/>
<circle cx="190.0" cy="109.5" r="0.6" fill="#f58a5e"/>
<circle cx="190.5" cy="100.8" r="0.6" fill="#f58a5e"/>
<circle cx="193.0" cy="99.0" r="0.6" fill="#f58a5e"/>
<circle cx="190.4" cy="110.7" r="0.6" fill="#f58a5e"/>
<circle cx="192.7" cy="101.3" r="0.6" fill="#f58a5e"/>
<circle cx="194.0" cy="95.6" r="0.6" fill="#f58a5e"/>
<circle cx="194.7" cy="87.8" r="0.6" fill="#f58a5e"/>
<circle cx="195.5" cy="82.3" r="0.6" fill="#f58a5e"/>
<circle cx="190.4" cy="110.0" r="0.6" fill="#f58a5e"/>
<circle cx="193.1" cy="77.1" r="0.6" fill="#f58a5e"/>
<circle cx="194.1" cy="101.4" r="0.6" fill="#f58a5e"/>
<circle cx="191.5" cy="94.1" r="0.6" fill="#f58a5e"/>
<circle cx="191.5" cy="90.2" r="0.6" fill="#f58a5e"/>
<circle cx="193.6" cy="89.5" r="0.6" fill="#f58a5e"/>
<circle cx="191.5" cy="92.4" r="0.6" fill="#f58a5e"/>
<circle cx="192.4" cy="104.0" r="0.6" fill="#f58a5e"/>
<circle cx="190.2" cy="106.1" r="0.6" fill="#f58a5e"/>
<circle cx="191.9" cy="98.5" r="0.6" fill="#f58a5e"/>
<circle cx="197.3" cy="96.5" r="0.6" fill="#f58a5e"/>
<circle cx="198.4" cy="103.3" r="0.6" fill="#f58a5e"/>
<circle cx="193.2" cy="97.8" r="0.6" fill="#f58a5e"/>
<circle cx="195.2" cy="102.2" r="0.6" fill="#f58a5e"/>
<circle cx="195.2" cy="85.1" r="0.6" fill="#f58a5e"/>
<path d="M153.5 166V261.7H202.5" fill="none" stroke="#222" stroke-width="0.6"/>
<line x1="152" x2="153.3" y1="257.2" y2="257.2" stroke="#222" stroke-width="0.5"/>
<text font-size="4.3" font-weight="bold" text-anchor="end" fill="#111" transform="translate(151.20 258.70) scale(0.9 1)">0</text>
<line x1="152" x2="153.3" y1="235.0" y2="235.0" stroke="#222" stroke-width="0.5"/>
<text font-size="4.3" font-weight="bold" text-anchor="end" fill="#111" transform="translate(151.20 236.50) scale(0.9 1)">30</text>
<line x1="152" x2="153.3" y1="212.8" y2="212.8" stroke="#222" stroke-width="0.5"/>
<text font-size="4.3" font-weight="bold" text-anchor="end" fill="#111" transform="translate(151.20 214.30) scale(0.9 1)">60</text>
<line x1="152" x2="153.3" y1="190.6" y2="190.6" stroke="#222" stroke-width="0.5"/>
<text font-size="4.3" font-weight="bold" text-anchor="end" fill="#111" transform="translate(151.20 192.10) scale(0.9 1)">90</text>
<line x1="152" x2="153.3" y1="168.4" y2="168.4" stroke="#222" stroke-width="0.5"/>
<text font-size="4.3" font-weight="bold" text-anchor="end" fill="#111" transform="translate(151.20 169.90) scale(0.9 1)">120</text>
<rect x="163.7" y="206.9" width="14.6" height="50.3" fill="#0f9d78" stroke="#222" stroke-width="0.4"/>
<rect x="178.3" y="169.9" width="14.5" height="87.3" fill="#fa600a" stroke="#222" stroke-width="0.4"/>
<text font-size="4.6" font-weight="bold" text-anchor="middle" fill="#111" transform="translate(171.00 204.98) scale(0.9 1)">68</text>
<text font-size="4.6" font-weight="bold" text-anchor="middle" fill="#111" transform="translate(185.50 167.98) scale(0.9 1)">118</text>
<text font-size="5.6" font-weight="bold" text-anchor="middle" fill="#111" transform="translate(143.00 209.30) rotate(-90) scale(0.93 1)">Number</text>
<text font-size="4.6" font-weight="bold" text-anchor="middle" fill="#111" transform="translate(178.60 269.40) scale(0.865 1)">srm_db vs srm_bks</text>
<text font-size="4.6" font-weight="bold" text-anchor="middle" fill="#111" transform="translate(179.40 276.80) scale(0.865 1)">Compare group</text>
<text font-size="5.6" font-weight="bold" text-anchor="start" fill="#111" transform="translate(209.60 207.20) scale(0.88 1)">Type</text>
<rect x="209.3" y="211.7" width="5.2" height="5.3" fill="#0f9d78" stroke="#222" stroke-width="0.4"/>
<rect x="209.3" y="217" width="5.2" height="5.3" fill="#fa600a" stroke="#222" stroke-width="0.4"/>
<text font-size="5.3" font-weight="bold" text-anchor="start" fill="#111" transform="translate(215.80 216.10) scale(0.84 1)">Down-regulated</text>
<text font-size="5.3" font-weight="bold" text-anchor="start" fill="#111" transform="translate(215.80 221.60) scale(0.84 1)">Up-regulated</text>
<rect x="361.6" y="43.80" width="83.44" height="6.4" fill="#0f9d78"/>
<text font-size="6.5" font-weight="normal" text-anchor="end" fill="#111" stroke="#111" stroke-width="0.3" transform="translate(354.00 49.15) scale(0.915 1)">cellular process</text>
<text font-size="4.9" font-weight="bold" text-anchor="start" fill="#111" transform="translate(446.04 48.76) scale(0.95 1)">102</text>
<rect x="361.6" y="52.91" width="62.17" height="6.4" fill="#0f9d78"/>
<text font-size="6.5" font-weight="normal" text-anchor="end" fill="#111" stroke="#111" stroke-width="0.3" transform="translate(354.00 58.26) scale(0.915 1)">metabolic process</text>
<text font-size="4.9" font-weight="bold" text-anchor="start" fill="#111" transform="translate(424.77 57.87) scale(0.95 1)">76</text>
<rect x="361.6" y="62.02" width="61.35" height="6.4" fill="#0f9d78"/>
<text font-size="6.5" font-weight="normal" text-anchor="end" fill="#111" stroke="#111" stroke-width="0.3" transform="translate(354.00 67.36) scale(0.915 1)">response to stimulus</text>
<text font-size="4.9" font-weight="bold" text-anchor="start" fill="#111" transform="translate(423.95 66.98) scale(0.95 1)">75</text>
<rect x="361.6" y="71.13" width="59.71" height="6.4" fill="#0f9d78"/>
<text font-size="6.5" font-weight="normal" text-anchor="end" fill="#111" stroke="#111" stroke-width="0.3" transform="translate(354.00 76.47) scale(0.915 1)">biological regulation</text>
<text font-size="4.9" font-weight="bold" text-anchor="start" fill="#111" transform="translate(422.31 76.09) scale(0.95 1)">73</text>
<rect x="361.6" y="80.24" width="41.72" height="6.4" fill="#0f9d78"/>
<text font-size="6.5" font-weight="normal" text-anchor="end" fill="#111" stroke="#111" stroke-width="0.3" transform="translate(354.00 85.58) scale(0.915 1)">localization</text>
<text font-size="4.9" font-weight="bold" text-anchor="start" fill="#111" transform="translate(404.32 85.20) scale(0.95 1)">51</text>
<rect x="361.6" y="89.35" width="39.26" height="6.4" fill="#0f9d78"/>
<text font-size="6.5" font-weight="normal" text-anchor="end" fill="#111" stroke="#111" stroke-width="0.3" transform="translate(354.00 94.69) scale(0.915 1)">multicellular organismal process</text>
<text font-size="4.9" font-weight="bold" text-anchor="start" fill="#111" transform="translate(401.86 94.31) scale(0.95 1)">48</text>
<rect x="361.6" y="98.46" width="39.26" height="6.4" fill="#0f9d78"/>
<text font-size="6.5" font-weight="normal" text-anchor="end" fill="#111" stroke="#111" stroke-width="0.3" transform="translate(354.00 103.80) scale(0.915 1)">developmental process</text>
<text font-size="4.9" font-weight="bold" text-anchor="start" fill="#111" transform="translate(401.86 103.42) scale(0.95 1)">48</text>
<rect x="361.6" y="107.57" width="26.18" height="6.4" fill="#0f9d78"/>
<text font-size="6.5" font-weight="normal" text-anchor="end" fill="#111" stroke="#111" stroke-width="0.3" transform="translate(354.00 112.91) scale(0.915 1)">immune system process</text>
<text font-size="4.9" font-weight="bold" text-anchor="start" fill="#111" transform="translate(388.78 112.53) scale(0.95 1)">32</text>
<rect x="361.6" y="116.68" width="25.36" height="6.4" fill="#0f9d78"/>
<text font-size="6.5" font-weight="normal" text-anchor="end" fill="#111" stroke="#111" stroke-width="0.3" transform="translate(354.00 122.02) scale(0.915 1)">signaling</text>
<text font-size="4.9" font-weight="bold" text-anchor="start" fill="#111" transform="translate(387.96 121.64) scale(0.95 1)">31</text>
<rect x="361.6" y="125.79" width="13.91" height="6.4" fill="#0f9d78"/>
<text font-size="6.5" font-weight="normal" text-anchor="end" fill="#111" stroke="#111" stroke-width="0.3" transform="translate(354.00 131.14) scale(0.915 1)">multi-organism process</text>
<text font-size="4.9" font-weight="bold" text-anchor="start" fill="#111" transform="translate(376.51 130.75) scale(0.95 1)">17</text>
<rect x="361.6" y="134.90" width="20.45" height="6.4" fill="#0f9d78"/>
<text font-size="6.5" font-weight="normal" text-anchor="end" fill="#111" stroke="#111" stroke-width="0.3" transform="translate(354.00 140.25) scale(0.915 1)">other</text>
<text font-size="4.9" font-weight="bold" text-anchor="start" fill="#111" transform="translate(383.05 139.86) scale(0.95 1)">25</text>
<rect x="361.6" y="144.01" width="11.45" height="6.4" fill="#0f9d78"/>
<text font-size="6.5" font-weight="normal" text-anchor="end" fill="#111" stroke="#111" stroke-width="0.3" transform="translate(354.00 149.36) scale(0.915 1)">biological adhesion</text>
<text font-size="4.9" font-weight="bold" text-anchor="start" fill="#111" transform="translate(374.05 148.97) scale(0.95 1)">14</text>
<rect x="361.6" y="156.90" width="89.98" height="6.4" fill="#fa600a"/>
<text font-size="6.5" font-weight="normal" text-anchor="end" fill="#111" stroke="#111" stroke-width="0.3" transform="translate(354.00 162.25) scale(0.915 1)">cell</text>
<text font-size="4.9" font-weight="bold" text-anchor="start" fill="#111" transform="translate(452.58 161.86) scale(0.95 1)">110</text>
<rect x="361.6" y="166.05" width="82.62" height="6.4" fill="#fa600a"/>
<text font-size="6.5" font-weight="normal" text-anchor="end" fill="#111" stroke="#111" stroke-width="0.3" transform="translate(354.00 171.40) scale(0.915 1)">intracellular</text>
<text font-size="4.9" font-weight="bold" text-anchor="start" fill="#111" transform="translate(445.22 171.01) scale(0.95 1)">101</text>
<rect x="361.6" y="175.20" width="34.36" height="6.4" fill="#fa600a"/>
<text font-size="6.5" font-weight="normal" text-anchor="end" fill="#111" stroke="#111" stroke-width="0.3" transform="translate(354.00 180.55) scale(0.915 1)">protein-containing complex</text>
<text font-size="4.9" font-weight="bold" text-anchor="start" fill="#111" transform="translate(396.96 180.16) scale(0.95 1)">42</text>
<rect x="361.6" y="187.90" width="60.53" height="6.4" fill="#7068c4"/>
<text font-size="6.5" font-weight="normal" text-anchor="end" fill="#111" stroke="#111" stroke-width="0.3" transform="translate(354.00 193.25) scale(0.915 1)">binding</text>
<text font-size="4.9" font-weight="bold" text-anchor="start" fill="#111" transform="translate(423.13 192.86) scale(0.95 1)">74</text>
<rect x="361.6" y="197.01" width="43.35" height="6.4" fill="#7068c4"/>
<text font-size="6.5" font-weight="normal" text-anchor="end" fill="#111" stroke="#111" stroke-width="0.3" transform="translate(354.00 202.36) scale(0.915 1)">catalytic activity</text>
<text font-size="4.9" font-weight="bold" text-anchor="start" fill="#111" transform="translate(405.95 201.97) scale(0.95 1)">53</text>
<rect x="361.6" y="206.12" width="3.27" height="6.4" fill="#7068c4"/>
<text font-size="6.5" font-weight="normal" text-anchor="end" fill="#111" stroke="#111" stroke-width="0.3" transform="translate(354.00 211.47) scale(0.915 1)">other</text>
<text font-size="4.9" font-weight="bold" text-anchor="start" fill="#111" transform="translate(365.87 211.08) scale(0.95 1)">4</text>
<rect x="361.6" y="215.23" width="9.82" height="6.4" fill="#7068c4"/>
<text font-size="6.5" font-weight="normal" text-anchor="end" fill="#111" stroke="#111" stroke-width="0.3" transform="translate(354.00 220.58) scale(0.915 1)">molecular function regulator</text>
<text font-size="4.9" font-weight="bold" text-anchor="start" fill="#111" transform="translate(372.42 220.19) scale(0.95 1)">12</text>
<rect x="361.6" y="224.34" width="7.36" height="6.4" fill="#7068c4"/>
<text font-size="6.5" font-weight="normal" text-anchor="end" fill="#111" stroke="#111" stroke-width="0.3" transform="translate(354.00 229.69) scale(0.915 1)">molecular transducer activity</text>
<text font-size="4.9" font-weight="bold" text-anchor="start" fill="#111" transform="translate(369.96 229.30) scale(0.95 1)">9</text>
<rect x="361.6" y="233.45" width="5.73" height="6.4" fill="#7068c4"/>
<text font-size="6.5" font-weight="normal" text-anchor="end" fill="#111" stroke="#111" stroke-width="0.3" transform="translate(354.00 238.80) scale(0.915 1)">transporter activity</text>
<text font-size="4.9" font-weight="bold" text-anchor="start" fill="#111" transform="translate(368.33 238.41) scale(0.95 1)">7</text>
<rect x="361.6" y="242.56" width="4.91" height="6.4" fill="#7068c4"/>
<text font-size="6.5" font-weight="normal" text-anchor="end" fill="#111" stroke="#111" stroke-width="0.3" transform="translate(354.00 247.91) scale(0.915 1)">structural molecule activity</text>
<text font-size="4.9" font-weight="bold" text-anchor="start" fill="#111" transform="translate(367.51 247.52) scale(0.95 1)">6</text>
<rect x="361.6" y="251.67" width="2.45" height="6.4" fill="#7068c4"/>
<text font-size="6.5" font-weight="normal" text-anchor="end" fill="#111" stroke="#111" stroke-width="0.3" transform="translate(354.00 257.01) scale(0.915 1)">antioxidant activity</text>
<text font-size="4.9" font-weight="bold" text-anchor="start" fill="#111" transform="translate(365.05 256.63) scale(0.95 1)">3</text>
<rect x="356" y="42" width="4.60" height="110.30" fill="#fff" stroke="#777" stroke-width="0.5" rx="0.8"/>
<text font-size="3.2" font-weight="bold" text-anchor="middle" fill="#222" transform="translate(359.20 97.15) rotate(-90)">BP</text>
<rect x="356" y="155" width="4.60" height="28.00" fill="#fff" stroke="#777" stroke-width="0.5" rx="0.8"/>
<text font-size="3.2" font-weight="bold" text-anchor="middle" fill="#222" transform="translate(359.20 169.00) rotate(-90)">CC</text>
<rect x="356" y="186" width="4.60" height="73.20" fill="#fff" stroke="#777" stroke-width="0.5" rx="0.8"/>
<text font-size="3.2" font-weight="bold" text-anchor="middle" fill="#222" transform="translate(359.20 222.60) rotate(-90)">MF</text>
<path d="M355.9 259.8H462" fill="none" stroke="#222" stroke-width="0.6"/>
<line x1="354.7" x2="355.9" y1="47.00" y2="47.00" stroke="#333" stroke-width="0.4"/>
<line x1="354.7" x2="355.9" y1="56.11" y2="56.11" stroke="#333" stroke-width="0.4"/>
<line x1="354.7" x2="355.9" y1="65.22" y2="65.22" stroke="#333" stroke-width="0.4"/>
<line x1="354.7" x2="355.9" y1="74.33" y2="74.33" stroke="#333" stroke-width="0.4"/>
<line x1="354.7" x2="355.9" y1="83.44" y2="83.44" stroke="#333" stroke-width="0.4"/>
<line x1="354.7" x2="355.9" y1="92.55" y2="92.55" stroke="#333" stroke-width="0.4"/>
<line x1="354.7" x2="355.9" y1="101.66" y2="101.66" stroke="#333" stroke-width="0.4"/>
<line x1="354.7" x2="355.9" y1="110.77" y2="110.77" stroke="#333" stroke-width="0.4"/>
<line x1="354.7" x2="355.9" y1="119.88" y2="119.88" stroke="#333" stroke-width="0.4"/>
<line x1="354.7" x2="355.9" y1="128.99" y2="128.99" stroke="#333" stroke-width="0.4"/>
<line x1="354.7" x2="355.9" y1="138.10" y2="138.10" stroke="#333" stroke-width="0.4"/>
<line x1="354.7" x2="355.9" y1="147.21" y2="147.21" stroke="#333" stroke-width="0.4"/>
<line x1="354.7" x2="355.9" y1="160.10" y2="160.10" stroke="#333" stroke-width="0.4"/>
<line x1="354.7" x2="355.9" y1="169.25" y2="169.25" stroke="#333" stroke-width="0.4"/>
<line x1="354.7" x2="355.9" y1="178.40" y2="178.40" stroke="#333" stroke-width="0.4"/>
<line x1="354.7" x2="355.9" y1="191.10" y2="191.10" stroke="#333" stroke-width="0.4"/>
<line x1="354.7" x2="355.9" y1="200.21" y2="200.21" stroke="#333" stroke-width="0.4"/>
<line x1="354.7" x2="355.9" y1="209.32" y2="209.32" stroke="#333" stroke-width="0.4"/>
<line x1="354.7" x2="355.9" y1="218.43" y2="218.43" stroke="#333" stroke-width="0.4"/>
<line x1="354.7" x2="355.9" y1="227.54" y2="227.54" stroke="#333" stroke-width="0.4"/>
<line x1="354.7" x2="355.9" y1="236.65" y2="236.65" stroke="#333" stroke-width="0.4"/>
<line x1="354.7" x2="355.9" y1="245.76" y2="245.76" stroke="#333" stroke-width="0.4"/>
<line x1="354.7" x2="355.9" y1="254.87" y2="254.87" stroke="#333" stroke-width="0.4"/>
<line x1="361.6" x2="361.6" y1="259.8" y2="261.1" stroke="#222" stroke-width="0.5"/>
<text font-size="4.8" font-weight="bold" text-anchor="middle" fill="#111" transform="translate(361.60 266.60) scale(0.9 1)">0</text>
<line x1="386.1" x2="386.1" y1="259.8" y2="261.1" stroke="#222" stroke-width="0.5"/>
<text font-size="4.8" font-weight="bold" text-anchor="middle" fill="#111" transform="translate(386.14 266.60) scale(0.9 1)">30</text>
<line x1="410.7" x2="410.7" y1="259.8" y2="261.1" stroke="#222" stroke-width="0.5"/>
<text font-size="4.8" font-weight="bold" text-anchor="middle" fill="#111" transform="translate(410.68 266.60) scale(0.9 1)">60</text>
<line x1="435.2" x2="435.2" y1="259.8" y2="261.1" stroke="#222" stroke-width="0.5"/>
<text font-size="4.8" font-weight="bold" text-anchor="middle" fill="#111" transform="translate(435.22 266.60) scale(0.9 1)">90</text>
<line x1="459.8" x2="459.8" y1="259.8" y2="261.1" stroke="#222" stroke-width="0.5"/>
<text font-size="4.8" font-weight="bold" text-anchor="middle" fill="#111" transform="translate(459.76 266.60) scale(0.9 1)">120</text>
<text x="416.50" y="276.00" font-size="5.8" font-weight="bold" text-anchor="middle" fill="#111">Number of proteins</text>
<text font-size="7" font-weight="bold" text-anchor="middle" fill="#111" transform="translate(268.20 175.70) rotate(-90) scale(0.95 1)">GO terms name</text>
<rect x="99.8" y="316.30" width="88.20" height="6.4" fill="#0f9d78"/>
<text font-size="6.3" font-weight="normal" text-anchor="end" fill="#111" stroke="#111" stroke-width="0.3" transform="translate(92.20 321.58) scale(0.93 1)">cellular process</text>
<text font-size="4.7" font-weight="bold" text-anchor="start" fill="#111" transform="translate(189.00 321.19) scale(0.95 1)">56</text>
<rect x="99.8" y="324.87" width="86.62" height="6.4" fill="#0f9d78"/>
<text font-size="6.3" font-weight="normal" text-anchor="end" fill="#111" stroke="#111" stroke-width="0.3" transform="translate(92.20 330.15) scale(0.93 1)">response to stimulus</text>
<text font-size="4.7" font-weight="bold" text-anchor="start" fill="#111" transform="translate(187.43 329.76) scale(0.95 1)">55</text>
<rect x="99.8" y="333.44" width="64.58" height="6.4" fill="#0f9d78"/>
<text font-size="6.3" font-weight="normal" text-anchor="end" fill="#111" stroke="#111" stroke-width="0.3" transform="translate(92.20 338.72) scale(0.93 1)">multicellular organismal process</text>
<text font-size="4.7" font-weight="bold" text-anchor="start" fill="#111" transform="translate(165.38 338.33) scale(0.95 1)">41</text>
<rect x="99.8" y="342.01" width="63.00" height="6.4" fill="#0f9d78"/>
<text font-size="6.3" font-weight="normal" text-anchor="end" fill="#111" stroke="#111" stroke-width="0.3" transform="translate(92.20 347.29) scale(0.93 1)">metabolic process</text>
<text font-size="4.7" font-weight="bold" text-anchor="start" fill="#111" transform="translate(163.80 346.90) scale(0.95 1)">40</text>
<rect x="99.8" y="350.58" width="58.27" height="6.4" fill="#0f9d78"/>
<text font-size="6.3" font-weight="normal" text-anchor="end" fill="#111" stroke="#111" stroke-width="0.3" transform="translate(92.20 355.86) scale(0.93 1)">developmental process</text>
<text font-size="4.7" font-weight="bold" text-anchor="start" fill="#111" transform="translate(159.07 355.47) scale(0.95 1)">37</text>
<rect x="99.8" y="359.15" width="51.98" height="6.4" fill="#0f9d78"/>
<text font-size="6.3" font-weight="normal" text-anchor="end" fill="#111" stroke="#111" stroke-width="0.3" transform="translate(92.20 364.43) scale(0.93 1)">localization</text>
<text font-size="4.7" font-weight="bold" text-anchor="start" fill="#111" transform="translate(152.78 364.04) scale(0.95 1)">33</text>
<rect x="99.8" y="367.72" width="37.80" height="6.4" fill="#0f9d78"/>
<text font-size="6.3" font-weight="normal" text-anchor="end" fill="#111" stroke="#111" stroke-width="0.3" transform="translate(92.20 373.00) scale(0.93 1)">signaling</text>
<text font-size="4.7" font-weight="bold" text-anchor="start" fill="#111" transform="translate(138.60 372.61) scale(0.95 1)">24</text>
<rect x="99.8" y="376.29" width="34.65" height="6.4" fill="#0f9d78"/>
<text font-size="6.3" font-weight="normal" text-anchor="end" fill="#111" stroke="#111" stroke-width="0.3" transform="translate(92.20 381.57) scale(0.93 1)">immune system process</text>
<text font-size="4.7" font-weight="bold" text-anchor="start" fill="#111" transform="translate(135.45 381.18) scale(0.95 1)">22</text>
<rect x="99.8" y="384.86" width="25.20" height="6.4" fill="#0f9d78"/>
<text font-size="6.3" font-weight="normal" text-anchor="end" fill="#111" stroke="#111" stroke-width="0.3" transform="translate(92.20 390.14) scale(0.93 1)">multi-organism process</text>
<text font-size="4.7" font-weight="bold" text-anchor="start" fill="#111" transform="translate(126.00 389.75) scale(0.95 1)">16</text>
<rect x="99.8" y="393.43" width="23.62" height="6.4" fill="#0f9d78"/>
<text font-size="6.3" font-weight="normal" text-anchor="end" fill="#111" stroke="#111" stroke-width="0.3" transform="translate(92.20 398.71) scale(0.93 1)">reproduction</text>
<text font-size="4.7" font-weight="bold" text-anchor="start" fill="#111" transform="translate(124.42 398.32) scale(0.95 1)">15</text>
<rect x="99.8" y="402.00" width="18.90" height="6.4" fill="#0f9d78"/>
<text font-size="6.3" font-weight="normal" text-anchor="end" fill="#111" stroke="#111" stroke-width="0.3" transform="translate(92.20 407.28) scale(0.93 1)">biological adhesion</text>
<text font-size="4.7" font-weight="bold" text-anchor="start" fill="#111" transform="translate(119.70 406.89) scale(0.95 1)">12</text>
<rect x="99.8" y="410.57" width="14.17" height="6.4" fill="#0f9d78"/>
<text font-size="6.3" font-weight="normal" text-anchor="end" fill="#111" stroke="#111" stroke-width="0.3" transform="translate(92.20 415.85) scale(0.93 1)">locomotion</text>
<text font-size="4.7" font-weight="bold" text-anchor="start" fill="#111" transform="translate(114.97 415.46) scale(0.95 1)">9</text>
<rect x="99.8" y="419.14" width="12.60" height="6.4" fill="#0f9d78"/>
<text font-size="6.3" font-weight="normal" text-anchor="end" fill="#111" stroke="#111" stroke-width="0.3" transform="translate(92.20 424.42) scale(0.93 1)">other</text>
<text font-size="4.7" font-weight="bold" text-anchor="start" fill="#111" transform="translate(113.40 424.03) scale(0.95 1)">8</text>
<rect x="99.8" y="427.71" width="20.47" height="6.4" fill="#0f9d78"/>
<text font-size="6.3" font-weight="normal" text-anchor="end" fill="#111" stroke="#111" stroke-width="0.3" transform="translate(92.20 432.99) scale(0.93 1)">cell</text>
<text font-size="4.7" font-weight="bold" text-anchor="start" fill="#111" transform="translate(121.27 432.60) scale(0.95 1)">13</text>
<rect x="99.8" y="440.80" width="88.20" height="6.4" fill="#fa600a"/>
<text font-size="6.3" font-weight="normal" text-anchor="end" fill="#111" stroke="#111" stroke-width="0.3" transform="translate(92.20 446.08) scale(0.93 1)">cell</text>
<text font-size="4.7" font-weight="bold" text-anchor="start" fill="#111" transform="translate(189.00 445.69) scale(0.95 1)">56</text>
<rect x="99.8" y="449.40" width="78.75" height="6.4" fill="#fa600a"/>
<text font-size="6.3" font-weight="normal" text-anchor="end" fill="#111" stroke="#111" stroke-width="0.3" transform="translate(92.20 454.68) scale(0.93 1)">intracellular</text>
<text font-size="4.7" font-weight="bold" text-anchor="start" fill="#111" transform="translate(179.55 454.29) scale(0.95 1)">50</text>
<rect x="99.8" y="457.80" width="37.80" height="6.4" fill="#fa600a"/>
<text font-size="6.3" font-weight="normal" text-anchor="end" fill="#111" stroke="#111" stroke-width="0.3" transform="translate(92.20 463.08) scale(0.93 1)">protein-containing complex</text>
<text font-size="4.7" font-weight="bold" text-anchor="start" fill="#111" transform="translate(138.60 462.69) scale(0.95 1)">24</text>
<rect x="99.8" y="470.60" width="78.75" height="6.4" fill="#7068c4"/>
<text font-size="6.3" font-weight="normal" text-anchor="end" fill="#111" stroke="#111" stroke-width="0.3" transform="translate(92.20 475.88) scale(0.93 1)">binding</text>
<text font-size="4.7" font-weight="bold" text-anchor="start" fill="#111" transform="translate(179.55 475.49) scale(0.95 1)">50</text>
<rect x="99.8" y="479.10" width="28.35" height="6.4" fill="#7068c4"/>
<text font-size="6.3" font-weight="normal" text-anchor="end" fill="#111" stroke="#111" stroke-width="0.3" transform="translate(92.20 484.38) scale(0.93 1)">catalytic activity</text>
<text font-size="4.7" font-weight="bold" text-anchor="start" fill="#111" transform="translate(129.15 483.99) scale(0.95 1)">18</text>
<rect x="99.8" y="487.70" width="20.47" height="6.4" fill="#7068c4"/>
<text font-size="6.3" font-weight="normal" text-anchor="end" fill="#111" stroke="#111" stroke-width="0.3" transform="translate(92.20 492.98) scale(0.93 1)">molecular function regulator</text>
<text font-size="4.7" font-weight="bold" text-anchor="start" fill="#111" transform="translate(121.27 492.59) scale(0.95 1)">13</text>
<rect x="99.8" y="495.80" width="14.17" height="6.4" fill="#7068c4"/>
<text font-size="6.3" font-weight="normal" text-anchor="end" fill="#111" stroke="#111" stroke-width="0.3" transform="translate(92.20 501.08) scale(0.93 1)">molecular transducer activity</text>
<text font-size="4.7" font-weight="bold" text-anchor="start" fill="#111" transform="translate(114.97 500.69) scale(0.95 1)">9</text>
<rect x="99.8" y="504.70" width="3.15" height="6.4" fill="#7068c4"/>
<text font-size="6.3" font-weight="normal" text-anchor="end" fill="#111" stroke="#111" stroke-width="0.3" transform="translate(92.20 509.98) scale(0.93 1)">other</text>
<text font-size="4.7" font-weight="bold" text-anchor="start" fill="#111" transform="translate(103.95 509.59) scale(0.95 1)">2</text>
<rect x="99.8" y="513.20" width="7.88" height="6.4" fill="#7068c4"/>
<text font-size="6.3" font-weight="normal" text-anchor="end" fill="#111" stroke="#111" stroke-width="0.3" transform="translate(92.20 518.48) scale(0.93 1)">structural molecule activity</text>
<text font-size="4.7" font-weight="bold" text-anchor="start" fill="#111" transform="translate(108.67 518.09) scale(0.95 1)">5</text>
<rect x="99.8" y="521.70" width="3.15" height="6.4" fill="#7068c4"/>
<text font-size="6.3" font-weight="normal" text-anchor="end" fill="#111" stroke="#111" stroke-width="0.3" transform="translate(92.20 526.98) scale(0.93 1)">transporter activity</text>
<text font-size="4.7" font-weight="bold" text-anchor="start" fill="#111" transform="translate(103.95 526.59) scale(0.95 1)">2</text>
<rect x="94.5" y="314.5" width="3.80" height="121.50" fill="#fff" stroke="#333" stroke-width="0.5" rx="0.8"/>
<text font-size="3.2" font-weight="bold" text-anchor="middle" fill="#222" transform="translate(97.30 375.25) rotate(-90)">BP</text>
<rect x="94.5" y="439" width="3.80" height="27.00" fill="#fff" stroke="#333" stroke-width="0.5" rx="0.8"/>
<text font-size="3.2" font-weight="bold" text-anchor="middle" fill="#222" transform="translate(97.30 452.50) rotate(-90)">CC</text>
<rect x="94.5" y="469" width="3.80" height="61.00" fill="#fff" stroke="#333" stroke-width="0.5" rx="0.8"/>
<text font-size="3.2" font-weight="bold" text-anchor="middle" fill="#222" transform="translate(97.30 499.50) rotate(-90)">MF</text>
<path d="M94.4 314.5V530.4" fill="none" stroke="#222" stroke-width="0.6"/>
<path d="M94.4 530.4H197" fill="none" stroke="#222" stroke-width="0.6"/>
<line x1="93.2" x2="94.4" y1="319.50" y2="319.50" stroke="#333" stroke-width="0.4"/>
<line x1="93.2" x2="94.4" y1="328.07" y2="328.07" stroke="#333" stroke-width="0.4"/>
<line x1="93.2" x2="94.4" y1="336.64" y2="336.64" stroke="#333" stroke-width="0.4"/>
<line x1="93.2" x2="94.4" y1="345.21" y2="345.21" stroke="#333" stroke-width="0.4"/>
<line x1="93.2" x2="94.4" y1="353.78" y2="353.78" stroke="#333" stroke-width="0.4"/>
<line x1="93.2" x2="94.4" y1="362.35" y2="362.35" stroke="#333" stroke-width="0.4"/>
<line x1="93.2" x2="94.4" y1="370.92" y2="370.92" stroke="#333" stroke-width="0.4"/>
<line x1="93.2" x2="94.4" y1="379.49" y2="379.49" stroke="#333" stroke-width="0.4"/>
<line x1="93.2" x2="94.4" y1="388.06" y2="388.06" stroke="#333" stroke-width="0.4"/>
<line x1="93.2" x2="94.4" y1="396.63" y2="396.63" stroke="#333" stroke-width="0.4"/>
<line x1="93.2" x2="94.4" y1="405.20" y2="405.20" stroke="#333" stroke-width="0.4"/>
<line x1="93.2" x2="94.4" y1="413.77" y2="413.77" stroke="#333" stroke-width="0.4"/>
<line x1="93.2" x2="94.4" y1="422.34" y2="422.34" stroke="#333" stroke-width="0.4"/>
<line x1="93.2" x2="94.4" y1="430.91" y2="430.91" stroke="#333" stroke-width="0.4"/>
<line x1="93.2" x2="94.4" y1="444.00" y2="444.00" stroke="#333" stroke-width="0.4"/>
<line x1="93.2" x2="94.4" y1="452.60" y2="452.60" stroke="#333" stroke-width="0.4"/>
<line x1="93.2" x2="94.4" y1="461.00" y2="461.00" stroke="#333" stroke-width="0.4"/>
<line x1="93.2" x2="94.4" y1="473.80" y2="473.80" stroke="#333" stroke-width="0.4"/>
<line x1="93.2" x2="94.4" y1="482.30" y2="482.30" stroke="#333" stroke-width="0.4"/>
<line x1="93.2" x2="94.4" y1="490.90" y2="490.90" stroke="#333" stroke-width="0.4"/>
<line x1="93.2" x2="94.4" y1="499.00" y2="499.00" stroke="#333" stroke-width="0.4"/>
<line x1="93.2" x2="94.4" y1="507.90" y2="507.90" stroke="#333" stroke-width="0.4"/>
<line x1="93.2" x2="94.4" y1="516.40" y2="516.40" stroke="#333" stroke-width="0.4"/>
<line x1="93.2" x2="94.4" y1="524.90" y2="524.90" stroke="#333" stroke-width="0.4"/>
<line x1="99.8" x2="99.8" y1="530.4" y2="531.6999999999999" stroke="#222" stroke-width="0.5"/>
<text font-size="4.4" font-weight="bold" text-anchor="middle" fill="#111" transform="translate(99.80 537.20) scale(0.9 1)">0</text>
<line x1="131.3" x2="131.3" y1="530.4" y2="531.6999999999999" stroke="#222" stroke-width="0.5"/>
<text font-size="4.4" font-weight="bold" text-anchor="middle" fill="#111" transform="translate(131.30 537.20) scale(0.9 1)">20</text>
<line x1="162.8" x2="162.8" y1="530.4" y2="531.6999999999999" stroke="#222" stroke-width="0.5"/>
<text font-size="4.4" font-weight="bold" text-anchor="middle" fill="#111" transform="translate(162.80 537.20) scale(0.9 1)">40</text>
<line x1="194.3" x2="194.3" y1="530.4" y2="531.6999999999999" stroke="#222" stroke-width="0.5"/>
<text font-size="4.4" font-weight="bold" text-anchor="middle" fill="#111" transform="translate(194.30 537.20) scale(0.9 1)">60</text>
<text font-size="5.0" font-weight="bold" text-anchor="middle" fill="#111" transform="translate(148.70 546.20) scale(0.87 1)">Number of proteins</text>
<text font-size="6.4" font-weight="normal" text-anchor="middle" fill="#111" stroke="#111" stroke-width="0.15" transform="translate(8.20 429.50) rotate(-90)">GO terms name</text>
<text font-size="6.2" font-weight="normal" text-anchor="end" fill="#111" stroke="#111" stroke-width="0.3" transform="translate(358.80 322.40) scale(0.968 1)">mmu04068 FoxO signaling pathway</text>
<text font-size="6.2" font-weight="normal" text-anchor="end" fill="#111" stroke="#111" stroke-width="0.3" transform="translate(358.80 329.90) scale(0.968 1)">mmu04550 Signaling pathways regulating pluripotency</text>
<text font-size="6.2" font-weight="normal" text-anchor="end" fill="#111" stroke="#111" stroke-width="0.3" transform="translate(358.80 335.10) scale(0.968 1)">of stem cells</text>
<text font-size="6.2" font-weight="normal" text-anchor="end" fill="#111" stroke="#111" stroke-width="0.3" transform="translate(358.80 340.70) scale(0.968 1)">mmu05322 Systemic lupus erythematosus</text>
<text font-size="6.2" font-weight="normal" text-anchor="end" fill="#111" stroke="#111" stroke-width="0.3" transform="translate(358.80 349.20) scale(0.968 1)">mmu04935 Growth hormone synthesis, secretion and action</text>
<text font-size="6.2" font-weight="normal" text-anchor="end" fill="#111" stroke="#111" stroke-width="0.3" transform="translate(358.80 356.70) scale(0.968 1)">mmu05214 Glioma</text>
<text font-size="6.2" font-weight="normal" text-anchor="end" fill="#111" stroke="#111" stroke-width="0.3" transform="translate(358.80 365.20) scale(0.968 1)">mmu05171 Coronavirus disease-COVID-19</text>
<text font-size="6.2" font-weight="normal" text-anchor="end" fill="#111" stroke="#111" stroke-width="0.3" transform="translate(358.80 371.60) scale(0.968 1)">mmu04630 JAK-STAT signaling pathway</text>
<text font-size="6.2" font-weight="normal" text-anchor="end" fill="#111" stroke="#111" stroke-width="0.3" transform="translate(358.80 379.80) scale(0.968 1)">mmu05146 Amoebiasis</text>
<text font-size="6.2" font-weight="normal" text-anchor="end" fill="#111" stroke="#111" stroke-width="0.3" transform="translate(358.80 387.90) scale(0.968 1)">mmu04060 Cytokine-cytokine receptor interaction</text>
<text font-size="6.2" font-weight="normal" text-anchor="end" fill="#111" stroke="#111" stroke-width="0.3" transform="translate(358.80 396.50) scale(0.968 1)">mmu04610 Complement and coagulation cascades</text>
<text font-size="6.2" font-weight="normal" text-anchor="end" fill="#111" stroke="#111" stroke-width="0.3" transform="translate(358.80 403.60) scale(0.968 1)">mmu05133 Pertussis</text>
<text font-size="6.2" font-weight="normal" text-anchor="end" fill="#111" stroke="#111" stroke-width="0.3" transform="translate(358.80 411.80) scale(0.968 1)">mmu05150 Staphylococcus aureus infection</text>
<rect x="360.7" y="319.8" width="72.30000000000001" height="93.39999999999998" fill="#fff" stroke="#aaa" stroke-width="0.5"/>
<line x1="360.7" x2="433" y1="323.6" y2="323.6" stroke="#ececec" stroke-width="0.4"/>
<line x1="360.7" x2="433" y1="331.3" y2="331.3" stroke="#ececec" stroke-width="0.4"/>
<line x1="360.7" x2="433" y1="338.9" y2="338.9" stroke="#ececec" stroke-width="0.4"/>
<line x1="360.7" x2="433" y1="346.8" y2="346.8" stroke="#ececec" stroke-width="0.4"/>
<line x1="360.7" x2="433" y1="354.5" y2="354.5" stroke="#ececec" stroke-width="0.4"/>
<line x1="360.7" x2="433" y1="362.4" y2="362.4" stroke="#ececec" stroke-width="0.4"/>
<line x1="360.7" x2="433" y1="370.1" y2="370.1" stroke="#ececec" stroke-width="0.4"/>
<line x1="360.7" x2="433" y1="378" y2="378" stroke="#ececec" stroke-width="0.4"/>
<line x1="360.7" x2="433" y1="385.6" y2="385.6" stroke="#ececec" stroke-width="0.4"/>
<line x1="360.7" x2="433" y1="393.5" y2="393.5" stroke="#ececec" stroke-width="0.4"/>
<line x1="360.7" x2="433" y1="401.2" y2="401.2" stroke="#ececec" stroke-width="0.4"/>
<line x1="360.7" x2="433" y1="409.1" y2="409.1" stroke="#ececec" stroke-width="0.4"/>
<line x1="379.9" x2="379.9" y1="319.8" y2="413.2" stroke="#ececec" stroke-width="0.4"/>
<line x1="398" x2="398" y1="319.8" y2="413.2" stroke="#ececec" stroke-width="0.4"/>
<line x1="416.9" x2="416.9" y1="319.8" y2="413.2" stroke="#ececec" stroke-width="0.4"/>
<line x1="370.8" x2="370.8" y1="319.8" y2="413.2" stroke="#f3f3f3" stroke-width="0.3"/>
<line x1="389" x2="389" y1="319.8" y2="413.2" stroke="#f3f3f3" stroke-width="0.3"/>
<line x1="407.5" x2="407.5" y1="319.8" y2="413.2" stroke="#f3f3f3" stroke-width="0.3"/>
<line x1="426" x2="426" y1="319.8" y2="413.2" stroke="#f3f3f3" stroke-width="0.3"/>
<circle cx="430.4" cy="323.6" r="0.8" fill="#e8302a" stroke="#000" stroke-opacity="0.18" stroke-width="0.4"/>
<circle cx="414.6" cy="331.3" r="1.0" fill="#b04a78" stroke="#000" stroke-opacity="0.18" stroke-width="0.4"/>
<circle cx="410.8" cy="338.9" r="2.5" fill="#f03030" stroke="#000" stroke-opacity="0.18" stroke-width="0.4"/>
<circle cx="406.2" cy="346.8" r="1.5" fill="#ee3535" stroke="#000" stroke-opacity="0.18" stroke-width="0.4"/>
<circle cx="402.1" cy="354.5" r="0.8" fill="#2a78d0" stroke="#000" stroke-opacity="0.18" stroke-width="0.4"/>
<circle cx="398" cy="362.4" r="3.3" fill="#f52d2d" stroke="#000" stroke-opacity="0.18" stroke-width="0.4"/>
<circle cx="387.8" cy="370.1" r="1.9" fill="#ef3333" stroke="#000" stroke-opacity="0.18" stroke-width="0.4"/>
<circle cx="382.2" cy="378" r="2.0" fill="#ee3333" stroke="#000" stroke-opacity="0.18" stroke-width="0.4"/>
<circle cx="379.9" cy="385.6" r="1.9" fill="#de3a48" stroke="#000" stroke-opacity="0.18" stroke-width="0.4"/>
<circle cx="376.3" cy="393.5" r="3.3" fill="#f52d2d" stroke="#000" stroke-opacity="0.18" stroke-width="0.4"/>
<circle cx="369.9" cy="401.2" r="1.9" fill="#a8508a" stroke="#000" stroke-opacity="0.18" stroke-width="0.4"/>
<circle cx="364" cy="409.1" r="2.3" fill="#ea3338" stroke="#000" stroke-opacity="0.18" stroke-width="0.4"/>
<line x1="379.9" x2="379.9" y1="413.2" y2="414.4" stroke="#444" stroke-width="0.4"/>
<text x="379.90" y="420.60" font-size="4.8" font-weight="bold" text-anchor="middle" fill="#333">2.0</text>
<line x1="398" x2="398" y1="413.2" y2="414.4" stroke="#444" stroke-width="0.4"/>
<text x="398.00" y="420.60" font-size="4.8" font-weight="bold" text-anchor="middle" fill="#333">2.5</text>
<line x1="416.9" x2="416.9" y1="413.2" y2="414.4" stroke="#444" stroke-width="0.4"/>
<text x="416.90" y="420.60" font-size="4.8" font-weight="bold" text-anchor="middle" fill="#333">3.0</text>
<text x="399.30" y="428.50" font-size="5.4" font-weight="bold" text-anchor="middle" fill="#111">Log2 Fold enrichment</text>
<text x="435.00" y="322.60" font-size="4.1" font-weight="bold" text-anchor="start" fill="#111">Protein number</text>
<circle cx="442.4" cy="331.3" r="0.8" fill="#000"/>
<text x="447.00" y="332.70" font-size="4.1" font-weight="bold" text-anchor="start" fill="#111">2</text>
<circle cx="442.4" cy="337.6" r="1.7" fill="#000"/>
<text x="447.00" y="339.00" font-size="4.1" font-weight="bold" text-anchor="start" fill="#111">5</text>
<circle cx="442.4" cy="344" r="2.2" fill="#000"/>
<text x="447.00" y="345.40" font-size="4.1" font-weight="bold" text-anchor="start" fill="#111">8</text>
<circle cx="442.4" cy="351.2" r="2.6" fill="#000"/>
<text x="447.00" y="352.60" font-size="4.1" font-weight="bold" text-anchor="start" fill="#111">11</text>
<circle cx="442.4" cy="359.6" r="3.3" fill="#000"/>
<text x="447.00" y="361.00" font-size="4.1" font-weight="bold" text-anchor="start" fill="#111">16</text>
<text x="438.50" y="373.00" font-size="4.2" font-weight="bold" text-anchor="start" fill="#111">P value</text>
<defs><linearGradient id="pv" x1="0" y1="0" x2="0" y2="1"><stop offset="0" stop-color="#2f7fd6"/><stop offset="0.5" stop-color="#a0508c"/><stop offset="1" stop-color="#ff2a2a"/></linearGradient></defs>
<rect x="439.4" y="377.2" width="5.8" height="32" fill="url(#pv)"/>
<text x="447.00" y="385.80" font-size="4.1" font-weight="bold" text-anchor="start" fill="#111">0.03</text>
<text x="447.00" y="393.90" font-size="4.1" font-weight="bold" text-anchor="start" fill="#111">0.02</text>
<text x="447.00" y="401.80" font-size="4.1" font-weight="bold" text-anchor="start" fill="#111">0.01</text>
<g stroke="#9263cc" stroke-width="0.9" opacity="0.7">
<line x1="252.1" y1="463" x2="233.9" y2="470.1"/>
<line x1="252.1" y1="463" x2="264.9" y2="472"/>
<line x1="252.1" y1="463" x2="247.1" y2="475.5"/>
<line x1="252.1" y1="463" x2="232.3" y2="485"/>
<line x1="252.1" y1="463" x2="256.3" y2="487.9"/>
<line x1="252.1" y1="463" x2="269.7" y2="485.8"/>
<line x1="252.1" y1="463" x2="203.6" y2="504.6"/>
<line x1="233.9" y1="470.1" x2="264.9" y2="472"/>
<line x1="233.9" y1="470.1" x2="247.1" y2="475.5"/>
<line x1="233.9" y1="470.1" x2="217.6" y2="479.3"/>
<line x1="233.9" y1="470.1" x2="232.3" y2="485"/>
<line x1="233.9" y1="470.1" x2="256.3" y2="487.9"/>
<line x1="233.9" y1="470.1" x2="236.2" y2="494"/>
<line x1="233.9" y1="470.1" x2="218.9" y2="498.8"/>
<line x1="233.9" y1="470.1" x2="229.1" y2="515.7"/>
<line x1="264.9" y1="472" x2="247.1" y2="475.5"/>
<line x1="264.9" y1="472" x2="256.3" y2="487.9"/>
<line x1="264.9" y1="472" x2="269.7" y2="485.8"/>
<line x1="264.9" y1="472" x2="218.9" y2="498.8"/>
<line x1="264.9" y1="472" x2="260.7" y2="500.4"/>
<line x1="264.9" y1="472" x2="203.6" y2="504.6"/>
<line x1="264.9" y1="472" x2="229.1" y2="515.7"/>
<line x1="247.1" y1="475.5" x2="217.6" y2="479.3"/>
<line x1="247.1" y1="475.5" x2="232.3" y2="485"/>
<line x1="247.1" y1="475.5" x2="256.3" y2="487.9"/>
<line x1="247.1" y1="475.5" x2="269.7" y2="485.8"/>
<line x1="247.1" y1="475.5" x2="206.5" y2="487.9"/>
<line x1="247.1" y1="475.5" x2="236.2" y2="494"/>
<line x1="247.1" y1="475.5" x2="241.5" y2="501.3"/>
<line x1="247.1" y1="475.5" x2="260.7" y2="500.4"/>
<line x1="217.6" y1="479.3" x2="232.3" y2="485"/>
<line x1="217.6" y1="479.3" x2="206.5" y2="487.9"/>
<line x1="217.6" y1="479.3" x2="236.2" y2="494"/>
<line x1="217.6" y1="479.3" x2="218.9" y2="498.8"/>
<line x1="217.6" y1="479.3" x2="203.6" y2="504.6"/>
<line x1="232.3" y1="485" x2="256.3" y2="487.9"/>
<line x1="232.3" y1="485" x2="206.5" y2="487.9"/>
<line x1="232.3" y1="485" x2="236.2" y2="494"/>
<line x1="232.3" y1="485" x2="218.9" y2="498.8"/>
<line x1="232.3" y1="485" x2="241.5" y2="501.3"/>
<line x1="232.3" y1="485" x2="229.1" y2="515.7"/>
<line x1="256.3" y1="487.9" x2="269.7" y2="485.8"/>
<line x1="256.3" y1="487.9" x2="236.2" y2="494"/>
<line x1="256.3" y1="487.9" x2="241.5" y2="501.3"/>
<line x1="256.3" y1="487.9" x2="260.7" y2="500.4"/>
<line x1="256.3" y1="487.9" x2="203.6" y2="504.6"/>
<line x1="256.3" y1="487.9" x2="214.7" y2="516.1"/>
<line x1="256.3" y1="487.9" x2="229.1" y2="515.7"/>
<line x1="269.7" y1="485.8" x2="218.9" y2="498.8"/>
<line x1="269.7" y1="485.8" x2="260.7" y2="500.4"/>
<line x1="206.5" y1="487.9" x2="236.2" y2="494"/>
<line x1="206.5" y1="487.9" x2="218.9" y2="498.8"/>
<line x1="206.5" y1="487.9" x2="203.6" y2="504.6"/>
<line x1="206.5" y1="487.9" x2="214.7" y2="516.1"/>
<line x1="236.2" y1="494" x2="218.9" y2="498.8"/>
<line x1="236.2" y1="494" x2="241.5" y2="501.3"/>
<line x1="236.2" y1="494" x2="260.7" y2="500.4"/>
<line x1="236.2" y1="494" x2="214.7" y2="516.1"/>
<line x1="236.2" y1="494" x2="229.1" y2="515.7"/>
<line x1="218.9" y1="498.8" x2="241.5" y2="501.3"/>
<line x1="218.9" y1="498.8" x2="260.7" y2="500.4"/>
<line x1="218.9" y1="498.8" x2="203.6" y2="504.6"/>
<line x1="218.9" y1="498.8" x2="214.7" y2="516.1"/>
<line x1="218.9" y1="498.8" x2="229.1" y2="515.7"/>
<line x1="241.5" y1="501.3" x2="260.7" y2="500.4"/>
<line x1="241.5" y1="501.3" x2="214.7" y2="516.1"/>
<line x1="241.5" y1="501.3" x2="229.1" y2="515.7"/>
<line x1="260.7" y1="500.4" x2="203.6" y2="504.6"/>
<line x1="203.6" y1="504.6" x2="214.7" y2="516.1"/>
<line x1="203.6" y1="504.6" x2="229.1" y2="515.7"/>
<line x1="214.7" y1="516.1" x2="229.1" y2="515.7"/>
</g>
<circle cx="252.1" cy="463" r="3.4" fill="#1478be" stroke="#1478be" stroke-width="0.2"/>
<circle cx="233.9" cy="470.1" r="3.8" fill="#1478be" stroke="#1478be" stroke-width="0.2"/>
<circle cx="264.9" cy="472" r="3.4" fill="#1478be" stroke="#1478be" stroke-width="0.2"/>
<circle cx="247.1" cy="475.5" r="3.6" fill="#1478be" stroke="#1478be" stroke-width="0.2"/>
<circle cx="217.6" cy="479.3" r="3.6" fill="#1478be" stroke="#1478be" stroke-width="0.2"/>
<circle cx="232.3" cy="485" r="5.4" fill="#1478be" stroke="#1478be" stroke-width="0.2"/>
<circle cx="256.3" cy="487.9" r="3.6" fill="#1478be" stroke="#1478be" stroke-width="0.2"/>
<circle cx="269.7" cy="485.8" r="3.6" fill="#1478be" stroke="#1478be" stroke-width="0.2"/>
<circle cx="206.5" cy="487.9" r="3.6" fill="#1478be" stroke="#1478be" stroke-width="0.2"/>
<circle cx="236.2" cy="494" r="5.4" fill="#1478be" stroke="#1478be" stroke-width="0.2"/>
<circle cx="218.9" cy="498.8" r="3.6" fill="#1478be" stroke="#1478be" stroke-width="0.2"/>
<circle cx="241.5" cy="501.3" r="5.4" fill="#1478be" stroke="#1478be" stroke-width="0.2"/>
<circle cx="260.7" cy="500.4" r="3.4" fill="#1478be" stroke="#1478be" stroke-width="0.2"/>
<circle cx="203.6" cy="504.6" r="3.4" fill="#1478be" stroke="#1478be" stroke-width="0.2"/>
<circle cx="214.7" cy="516.1" r="3.2" fill="#1478be" stroke="#1478be" stroke-width="0.2"/>
<circle cx="229.1" cy="515.7" r="3.2" fill="#1478be" stroke="#1478be" stroke-width="0.2"/>
<g stroke="#7a48c0" stroke-width="1.0" opacity="0.9">
<line x1="309.7" y1="463" x2="320.9" y2="463.5"/>
<line x1="309.7" y1="463" x2="300.1" y2="469.4"/>
<line x1="309.7" y1="463" x2="328.8" y2="469.4"/>
<line x1="309.7" y1="463" x2="314.7" y2="474.1"/>
<line x1="309.7" y1="463" x2="295.5" y2="478.4"/>
<line x1="309.7" y1="463" x2="334.5" y2="477.9"/>
<line x1="309.7" y1="463" x2="306.5" y2="481.1"/>
<line x1="309.7" y1="463" x2="323" y2="481.6"/>
<line x1="309.7" y1="463" x2="295.5" y2="488.5"/>
<line x1="309.7" y1="463" x2="335.7" y2="489"/>
<line x1="309.7" y1="463" x2="314.7" y2="490.6"/>
<line x1="309.7" y1="463" x2="301.2" y2="497"/>
<line x1="309.7" y1="463" x2="328.8" y2="496.5"/>
<line x1="309.7" y1="463" x2="310.4" y2="502.7"/>
<line x1="309.7" y1="463" x2="320.9" y2="503.1"/>
<line x1="320.9" y1="463.5" x2="300.1" y2="469.4"/>
<line x1="320.9" y1="463.5" x2="328.8" y2="469.4"/>
<line x1="320.9" y1="463.5" x2="314.7" y2="474.1"/>
<line x1="320.9" y1="463.5" x2="295.5" y2="478.4"/>
<line x1="320.9" y1="463.5" x2="334.5" y2="477.9"/>
<line x1="320.9" y1="463.5" x2="306.5" y2="481.1"/>
<line x1="320.9" y1="463.5" x2="323" y2="481.6"/>
<line x1="320.9" y1="463.5" x2="295.5" y2="488.5"/>
<line x1="320.9" y1="463.5" x2="335.7" y2="489"/>
<line x1="320.9" y1="463.5" x2="314.7" y2="490.6"/>
<line x1="320.9" y1="463.5" x2="301.2" y2="497"/>
<line x1="320.9" y1="463.5" x2="328.8" y2="496.5"/>
<line x1="320.9" y1="463.5" x2="310.4" y2="502.7"/>
<line x1="320.9" y1="463.5" x2="320.9" y2="503.1"/>
<line x1="300.1" y1="469.4" x2="328.8" y2="469.4"/>
<line x1="300.1" y1="469.4" x2="314.7" y2="474.1"/>
<line x1="300.1" y1="469.4" x2="295.5" y2="478.4"/>
<line x1="300.1" y1="469.4" x2="334.5" y2="477.9"/>
<line x1="300.1" y1="469.4" x2="306.5" y2="481.1"/>
<line x1="300.1" y1="469.4" x2="323" y2="481.6"/>
<line x1="300.1" y1="469.4" x2="295.5" y2="488.5"/>
<line x1="300.1" y1="469.4" x2="335.7" y2="489"/>
<line x1="300.1" y1="469.4" x2="314.7" y2="490.6"/>
<line x1="300.1" y1="469.4" x2="301.2" y2="497"/>
<line x1="300.1" y1="469.4" x2="328.8" y2="496.5"/>
<line x1="300.1" y1="469.4" x2="310.4" y2="502.7"/>
<line x1="300.1" y1="469.4" x2="320.9" y2="503.1"/>
<line x1="328.8" y1="469.4" x2="314.7" y2="474.1"/>
<line x1="328.8" y1="469.4" x2="295.5" y2="478.4"/>
<line x1="328.8" y1="469.4" x2="334.5" y2="477.9"/>
<line x1="328.8" y1="469.4" x2="306.5" y2="481.1"/>
<line x1="328.8" y1="469.4" x2="323" y2="481.6"/>
<line x1="328.8" y1="469.4" x2="295.5" y2="488.5"/>
<line x1="328.8" y1="469.4" x2="335.7" y2="489"/>
<line x1="328.8" y1="469.4" x2="314.7" y2="490.6"/>
<line x1="328.8" y1="469.4" x2="301.2" y2="497"/>
<line x1="328.8" y1="469.4" x2="328.8" y2="496.5"/>
<line x1="328.8" y1="469.4" x2="310.4" y2="502.7"/>
<line x1="328.8" y1="469.4" x2="320.9" y2="503.1"/>
<line x1="314.7" y1="474.1" x2="295.5" y2="478.4"/>
<line x1="314.7" y1="474.1" x2="334.5" y2="477.9"/>
<line x1="314.7" y1="474.1" x2="306.5" y2="481.1"/>
<line x1="314.7" y1="474.1" x2="323" y2="481.6"/>
<line x1="314.7" y1="474.1" x2="295.5" y2="488.5"/>
<line x1="314.7" y1="474.1" x2="335.7" y2="489"/>
<line x1="314.7" y1="474.1" x2="314.7" y2="490.6"/>
<line x1="314.7" y1="474.1" x2="301.2" y2="497"/>
<line x1="314.7" y1="474.1" x2="328.8" y2="496.5"/>
<line x1="314.7" y1="474.1" x2="310.4" y2="502.7"/>
<line x1="314.7" y1="474.1" x2="320.9" y2="503.1"/>
<line x1="295.5" y1="478.4" x2="334.5" y2="477.9"/>
<line x1="295.5" y1="478.4" x2="306.5" y2="481.1"/>
<line x1="295.5" y1="478.4" x2="323" y2="481.6"/>
<line x1="295.5" y1="478.4" x2="295.5" y2="488.5"/>
<line x1="295.5" y1="478.4" x2="335.7" y2="489"/>
<line x1="295.5" y1="478.4" x2="314.7" y2="490.6"/>
<line x1="295.5" y1="478.4" x2="301.2" y2="497"/>
<line x1="295.5" y1="478.4" x2="328.8" y2="496.5"/>
<line x1="295.5" y1="478.4" x2="310.4" y2="502.7"/>
<line x1="295.5" y1="478.4" x2="320.9" y2="503.1"/>
<line x1="334.5" y1="477.9" x2="306.5" y2="481.1"/>
<line x1="334.5" y1="477.9" x2="323" y2="481.6"/>
<line x1="334.5" y1="477.9" x2="295.5" y2="488.5"/>
<line x1="334.5" y1="477.9" x2="335.7" y2="489"/>
<line x1="334.5" y1="477.9" x2="314.7" y2="490.6"/>
<line x1="334.5" y1="477.9" x2="301.2" y2="497"/>
<line x1="334.5" y1="477.9" x2="328.8" y2="496.5"/>
<line x1="334.5" y1="477.9" x2="310.4" y2="502.7"/>
<line x1="334.5" y1="477.9" x2="320.9" y2="503.1"/>
<line x1="306.5" y1="481.1" x2="323" y2="481.6"/>
<line x1="306.5" y1="481.1" x2="295.5" y2="488.5"/>
<line x1="306.5" y1="481.1" x2="335.7" y2="489"/>
<line x1="306.5" y1="481.1" x2="314.7" y2="490.6"/>
<line x1="306.5" y1="481.1" x2="301.2" y2="497"/>
<line x1="306.5" y1="481.1" x2="328.8" y2="496.5"/>
<line x1="306.5" y1="481.1" x2="310.4" y2="502.7"/>
<line x1="306.5" y1="481.1" x2="320.9" y2="503.1"/>
<line x1="323" y1="481.6" x2="295.5" y2="488.5"/>
<line x1="323" y1="481.6" x2="335.7" y2="489"/>
<line x1="323" y1="481.6" x2="314.7" y2="490.6"/>
<line x1="323" y1="481.6" x2="301.2" y2="497"/>
<line x1="323" y1="481.6" x2="328.8" y2="496.5"/>
<line x1="323" y1="481.6" x2="310.4" y2="502.7"/>
<line x1="323" y1="481.6" x2="320.9" y2="503.1"/>
<line x1="295.5" y1="488.5" x2="335.7" y2="489"/>
<line x1="295.5" y1="488.5" x2="314.7" y2="490.6"/>
<line x1="295.5" y1="488.5" x2="301.2" y2="497"/>
<line x1="295.5" y1="488.5" x2="328.8" y2="496.5"/>
<line x1="295.5" y1="488.5" x2="310.4" y2="502.7"/>
<line x1="295.5" y1="488.5" x2="320.9" y2="503.1"/>
<line x1="335.7" y1="489" x2="314.7" y2="490.6"/>
<line x1="335.7" y1="489" x2="301.2" y2="497"/>
<line x1="335.7" y1="489" x2="328.8" y2="496.5"/>
<line x1="335.7" y1="489" x2="310.4" y2="502.7"/>
<line x1="335.7" y1="489" x2="320.9" y2="503.1"/>
<line x1="314.7" y1="490.6" x2="301.2" y2="497"/>
<line x1="314.7" y1="490.6" x2="328.8" y2="496.5"/>
<line x1="314.7" y1="490.6" x2="310.4" y2="502.7"/>
<line x1="314.7" y1="490.6" x2="320.9" y2="503.1"/>
<line x1="301.2" y1="497" x2="328.8" y2="496.5"/>
<line x1="301.2" y1="497" x2="310.4" y2="502.7"/>
<line x1="301.2" y1="497" x2="320.9" y2="503.1"/>
<line x1="328.8" y1="496.5" x2="310.4" y2="502.7"/>
<line x1="328.8" y1="496.5" x2="320.9" y2="503.1"/>
<line x1="310.4" y1="502.7" x2="320.9" y2="503.1"/>
</g>
<circle cx="309.7" cy="463" r="4.95" fill="#fd1212" stroke="#1a74bc" stroke-width="0.9"/>
<circle cx="320.9" cy="463.5" r="4.95" fill="#fd1212" stroke="#1a74bc" stroke-width="0.9"/>
<circle cx="300.1" cy="469.4" r="4.95" fill="#fd1212" stroke="#1a74bc" stroke-width="0.9"/>
<circle cx="328.8" cy="469.4" r="4.95" fill="#fd1212" stroke="#1a74bc" stroke-width="0.9"/>
<circle cx="314.7" cy="474.1" r="4.95" fill="#fd1212" stroke="#1a74bc" stroke-width="0.9"/>
<circle cx="295.5" cy="478.4" r="4.95" fill="#fd1212" stroke="#1a74bc" stroke-width="0.9"/>
<circle cx="334.5" cy="477.9" r="4.95" fill="#fd1212" stroke="#1a74bc" stroke-width="0.9"/>
<circle cx="306.5" cy="481.1" r="4.95" fill="#fd1212" stroke="#1a74bc" stroke-width="0.9"/>
<circle cx="323" cy="481.6" r="4.95" fill="#fd1212" stroke="#1a74bc" stroke-width="0.9"/>
<circle cx="295.5" cy="488.5" r="4.95" fill="#fd1212" stroke="#1a74bc" stroke-width="0.9"/>
<circle cx="335.7" cy="489" r="4.95" fill="#fd1212" stroke="#1a74bc" stroke-width="0.9"/>
<circle cx="314.7" cy="490.6" r="4.95" fill="#fd1212" stroke="#1a74bc" stroke-width="0.9"/>
<circle cx="301.2" cy="497" r="4.95" fill="#fd1212" stroke="#1a74bc" stroke-width="0.9"/>
<circle cx="328.8" cy="496.5" r="4.95" fill="#fd1212" stroke="#1a74bc" stroke-width="0.9"/>
<circle cx="310.4" cy="502.7" r="4.95" fill="#fd1212" stroke="#1a74bc" stroke-width="0.9"/>
<circle cx="320.9" cy="503.1" r="4.95" fill="#fd1212" stroke="#1a74bc" stroke-width="0.9"/>
<g stroke="#b494dc" stroke-width="1.1">
<line x1="366.8" y1="463" x2="387.3" y2="482.1"/>
<line x1="366.8" y1="463" x2="360.2" y2="489"/>
<line x1="360.2" y1="489" x2="387.3" y2="482.1"/>
<line x1="387.3" y1="482.1" x2="415.6" y2="491.8"/>
<line x1="415.6" y1="491.8" x2="443.2" y2="488"/>
<line x1="415.6" y1="491.8" x2="433" y2="513.3"/>
<line x1="443.2" y1="488" x2="433" y2="513.3"/>
</g>
<circle cx="366.8" cy="463" r="2.5" fill="#18a848" stroke="#1b78b8" stroke-width="0.7"/>
<circle cx="387.3" cy="482.1" r="2.5" fill="#18a848" stroke="#1b78b8" stroke-width="0.7"/>
<circle cx="360.2" cy="489" r="2.5" fill="#18a848" stroke="#1b78b8" stroke-width="0.7"/>
<circle cx="415.6" cy="491.8" r="2.5" fill="#18a848" stroke="#1b78b8" stroke-width="0.7"/>
<circle cx="443.2" cy="488" r="2.5" fill="#18a848" stroke="#1b78b8" stroke-width="0.7"/>
<circle cx="433" cy="513.3" r="2.5" fill="#18a848" stroke="#1b78b8" stroke-width="0.7"/>
<text x="256.70" y="461.20" font-size="5.6" font-weight="bold" text-anchor="start" fill="#111" letter-spacing="0.9" stroke="#111" stroke-width="0.25">Fermt3</text>
<text x="238.80" y="471.10" font-size="5.6" font-weight="bold" text-anchor="start" fill="#111" letter-spacing="0.9" stroke="#111" stroke-width="0.25">Cfd</text>
<text x="264.10" y="468.80" font-size="5.6" font-weight="bold" text-anchor="start" fill="#111" letter-spacing="0.9" stroke="#111" stroke-width="0.25">Serping1</text>
<text x="250.50" y="477.90" font-size="5.6" font-weight="bold" text-anchor="start" fill="#111" letter-spacing="0.9" stroke="#111" stroke-width="0.25">Igf1</text>
<text x="219.90" y="480.70" font-size="5.6" font-weight="bold" text-anchor="start" fill="#111" letter-spacing="0.9" stroke="#111" stroke-width="0.25">Igfbp3</text>
<text x="262.00" y="482.50" font-size="5.6" font-weight="bold" text-anchor="start" fill="#111" letter-spacing="0.9" stroke="#111" stroke-width="0.25">Serpinf2</text>
<text x="240.40" y="489.30" font-size="5.6" font-weight="bold" text-anchor="start" fill="#111" letter-spacing="0.9" stroke="#111" stroke-width="0.25">Fgg</text>
<text x="210.50" y="492.90" font-size="5.6" font-weight="bold" text-anchor="start" fill="#111" letter-spacing="0.9" stroke="#111" stroke-width="0.25">C4b</text>
<text x="260.10" y="492.80" font-size="5.6" font-weight="bold" text-anchor="start" fill="#111" letter-spacing="0.9" stroke="#111" stroke-width="0.25">Orm3</text>
<text x="241.00" y="498.00" font-size="5.6" font-weight="bold" text-anchor="start" fill="#111" letter-spacing="0.9" stroke="#111" stroke-width="0.25">Serpina1a</text>
<text x="222.40" y="502.70" font-size="5.6" font-weight="bold" text-anchor="start" fill="#111" letter-spacing="0.9" stroke="#111" stroke-width="0.25">Cp</text>
<text x="264.30" y="503.70" font-size="5.6" font-weight="bold" text-anchor="start" fill="#111" letter-spacing="0.9" stroke="#111" stroke-width="0.25">Fgb</text>
<text x="203.60" y="512.00" font-size="5.6" font-weight="bold" text-anchor="start" fill="#111" letter-spacing="0.9" stroke="#111" stroke-width="0.25">Itih2</text>
<text x="241.50" y="512.00" font-size="5.6" font-weight="bold" text-anchor="start" fill="#111" letter-spacing="0.9" stroke="#111" stroke-width="0.25">Serpina1e</text>
<text x="232.70" y="518.60" font-size="5.6" font-weight="bold" text-anchor="start" fill="#111" letter-spacing="0.9" stroke="#111" stroke-width="0.25">Vgf</text>
<text x="212.60" y="523.80" font-size="5.6" font-weight="bold" text-anchor="start" fill="#111" letter-spacing="0.9" stroke="#111" stroke-width="0.25">Apoe</text>
<text x="292.30" y="463.30" font-size="5.6" font-weight="bold" text-anchor="start" fill="#111" letter-spacing="0.9" stroke="#111" stroke-width="0.25">Psma3</text>
<text x="322.10" y="463.30" font-size="5.6" font-weight="bold" text-anchor="start" fill="#111" letter-spacing="0.9" stroke="#111" stroke-width="0.25">Psmb3</text>
<text x="294.50" y="469.20" font-size="5.6" font-weight="bold" text-anchor="start" fill="#111" letter-spacing="0.9" stroke="#111" stroke-width="0.25">Psmb8</text>
<text x="334.90" y="472.40" font-size="5.6" font-weight="bold" text-anchor="start" fill="#111" letter-spacing="0.9" stroke="#111" stroke-width="0.25">Psma7</text>
<text x="274.70" y="475.40" font-size="5.6" font-weight="bold" text-anchor="start" fill="#111" letter-spacing="0.9" stroke="#111" stroke-width="0.25">Psma1</text>
<text x="304.00" y="476.00" font-size="5.6" font-weight="bold" text-anchor="start" fill="#111" letter-spacing="0.9" stroke="#111" stroke-width="0.25">Psma4</text>
<text x="340.20" y="481.40" font-size="5.6" font-weight="bold" text-anchor="start" fill="#111" letter-spacing="0.9" stroke="#111" stroke-width="0.25">Psmb10</text>
<text x="295.10" y="481.80" font-size="5.6" font-weight="bold" text-anchor="start" fill="#111" letter-spacing="0.9" stroke="#111" stroke-width="0.25">Psmb7</text>
<text x="318.90" y="483.90" font-size="5.6" font-weight="bold" text-anchor="start" fill="#111" letter-spacing="0.9" stroke="#111" stroke-width="0.25">Psma2</text>
<text x="279.60" y="491.40" font-size="5.6" font-weight="bold" text-anchor="start" fill="#111" letter-spacing="0.9" stroke="#111" stroke-width="0.25">Psmb2</text>
<text x="304.00" y="493.00" font-size="5.6" font-weight="bold" text-anchor="start" fill="#111" letter-spacing="0.9" stroke="#111" stroke-width="0.25">Psma5</text>
<text x="332.80" y="490.90" font-size="5.6" font-weight="bold" text-anchor="start" fill="#111" letter-spacing="0.9" stroke="#111" stroke-width="0.25">Psma6</text>
<text x="283.80" y="499.40" font-size="5.6" font-weight="bold" text-anchor="start" fill="#111" letter-spacing="0.9" stroke="#111" stroke-width="0.25">Psmb4</text>
<text x="325.70" y="499.00" font-size="5.6" font-weight="bold" text-anchor="start" fill="#111" letter-spacing="0.9" stroke="#111" stroke-width="0.25">Psmb6</text>
<text x="289.10" y="511.60" font-size="5.6" font-weight="bold" text-anchor="start" fill="#111" letter-spacing="0.9" stroke="#111" stroke-width="0.25">Psmb5</text>
<text x="324.90" y="510.50" font-size="5.6" font-weight="bold" text-anchor="start" fill="#111" letter-spacing="0.9" stroke="#111" stroke-width="0.25">Psmb1</text>
<text x="370.00" y="465.50" font-size="5.6" font-weight="bold" text-anchor="start" fill="#111" letter-spacing="0.9" stroke="#111" stroke-width="0.25">Lamp2</text>
<text x="390.80" y="484.50" font-size="5.6" font-weight="bold" text-anchor="start" fill="#111" letter-spacing="0.9" stroke="#111" stroke-width="0.25">Vnn1</text>
<text x="362.80" y="492.50" font-size="5.6" font-weight="bold" text-anchor="start" fill="#111" letter-spacing="0.9" stroke="#111" stroke-width="0.25">Lamp1</text>
<text x="418.40" y="494.80" font-size="5.6" font-weight="bold" text-anchor="start" fill="#111" letter-spacing="0.9" stroke="#111" stroke-width="0.25">Sord</text>
<text x="445.70" y="491.00" font-size="5.6" font-weight="bold" text-anchor="start" fill="#111" letter-spacing="0.9" stroke="#111" stroke-width="0.25">Agxt2</text>
<text x="435.50" y="516.50" font-size="5.6" font-weight="bold" text-anchor="start" fill="#111" letter-spacing="0.9" stroke="#111" stroke-width="0.25">Fah</text>
</svg></body></html>
